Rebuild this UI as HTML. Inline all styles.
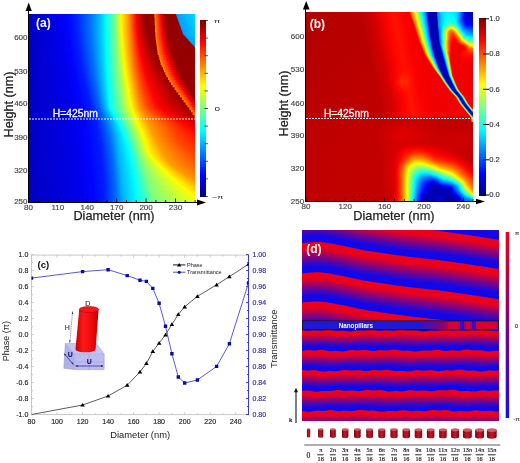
<!DOCTYPE html>
<html><head><meta charset="utf-8"><style>
html,body{margin:0;padding:0;background:#fff;width:520px;height:463px;overflow:hidden}
.hm{position:absolute;overflow:hidden}
.hm i{position:absolute;left:0;width:100%;height:1px;display:block}
.hm b{position:absolute;top:0;height:100%;width:2px;display:block}
svg{position:absolute;left:0;top:0}
</style></head><body>
<div class="hm" style="left:29px;top:14px;width:166px;height:189px"><i style="top:0px;background:linear-gradient(90deg,#0000c2 0px,#00e 29.5px,#0004ff 37.5px,#02f 47.5px,#0073ff 61.5px,#00b8ff 70.5px,#00f9ff 76.5px,#13ffec 78.5px,#81ff7e 86.5px,#f8ff07 91.5px,#ffe600 93.5px,#ff9500 99.5px,#ff0f00 106.5px,#fc0100 107.5px,#c20000 111.5px,#900 115.5px,#940000 119.5px,#940000 124.5px,#db5700 125.5px,#ff6e00 126.5px,#ff0f00 130.5px,#f60000 131.5px,#980000 135.5px,#940000 142.5px,#940000 146.5px,#00a0ff 147.5px,#00d7ff 166px)"></i><i style="top:1px;background:linear-gradient(90deg,#0000c2 0px,#00e 29.5px,#0003ff 37.5px,#02f 47.5px,#0073ff 61.5px,#00b8ff 70.5px,#00f9ff 76.5px,#13ffec 78.5px,#81ff7e 86.5px,#f8ff07 91.5px,#ffe600 93.5px,#ff9500 99.5px,#fc0100 107.5px,#c20000 111.5px,#940000 116.5px,#940000 124.5px,#db5800 125.5px,#ff7100 126.5px,#ff1300 130.5px,#f90100 131.5px,#9c0000 135.5px,#940000 137.5px,#940000 146.5px,#316aaa 147.5px,#00a2ff 148.5px,#00d6ff 166px)"></i><i style="top:2px;background:linear-gradient(90deg,#0000c2 0px,#00e 29.5px,#0006ff 38.5px,#0021ff 47.5px,#0073ff 61.5px,#00b8ff 70.5px,#00f9ff 76.5px,#13ffec 78.5px,#81ff7e 86.5px,#f8ff07 91.5px,#ffe600 93.5px,#ff9500 99.5px,#fc0100 107.5px,#c20000 111.5px,#940000 116.5px,#940000 124.5px,#db5900 125.5px,#ff7100 126.5px,#fa0100 131.5px,#9e0000 135.5px,#940000 136.5px,#940000 146.5px,#633555 147.5px,#00a1ff 148.5px,#00d5ff 166px)"></i><i style="top:3px;background:linear-gradient(90deg,#0000c2 0px,#0000ed 29.5px,#0006ff 38.5px,#0021ff 47.5px,#0073ff 61.5px,#00b8ff 70.5px,#00f9ff 76.5px,#13ffec 78.5px,#81ff7e 86.5px,#f7ff08 91.5px,#ffe600 93.5px,#ff9500 99.5px,#fc0100 107.5px,#c20000 111.5px,#940000 116.5px,#940000 124.5px,#c43b00 125.5px,#ff7300 126.5px,#fc0300 131.5px,#a20000 135.5px,#940000 136.5px,#940000 147.5px,#108ee3 148.5px,#00a3ff 149.5px,#00d3ff 166px)"></i><i style="top:4px;background:linear-gradient(90deg,#0000c2 0px,#0000ed 29.5px,#0005ff 38.5px,#0021ff 47.5px,#0073ff 61.5px,#00b8ff 70.5px,#00f9ff 76.5px,#13ffec 78.5px,#80ff7f 86.5px,#f7ff08 91.5px,#ffe700 93.5px,#ff9600 99.5px,#fc0100 107.5px,#b90000 112.5px,#940000 116.5px,#940000 124.5px,#b82c00 125.5px,#ff7400 126.5px,#fd0400 131.5px,#a50000 135.5px,#950000 136.5px,#940000 147.5px,#42588e 148.5px,#00a1ff 149.5px,#00d2ff 166px)"></i><i style="top:5px;background:linear-gradient(90deg,#0000c2 0px,#0000ec 29.5px,#0005ff 38.5px,#0021ff 47.5px,#0073ff 61.5px,#00b8ff 70.5px,#00f9ff 76.5px,#13ffec 78.5px,#80ff7f 86.5px,#f7ff08 91.5px,#fff400 92.5px,#ff9600 99.5px,#fc0100 107.5px,#b90000 112.5px,#940000 116.5px,#940000 124.5px,#b82c00 125.5px,#ff7400 126.5px,#fe0500 131.5px,#950000 136.5px,#940000 147.5px,#732339 148.5px,#00a0ff 149.5px,#00d1ff 166px)"></i><i style="top:6px;background:linear-gradient(90deg,#0000c2 0px,#0000ec 29.5px,#0005ff 38.5px,#0020ff 47.5px,#0073ff 61.5px,#00b8ff 70.5px,#00f9ff 76.5px,#05fffa 77.5px,#80ff7f 86.5px,#f7ff08 91.5px,#fff400 92.5px,#ff9600 99.5px,#fd0100 107.5px,#ba0000 112.5px,#940000 116.5px,#940000 124.5px,#b82d00 125.5px,#f70 126.5px,#ff0700 131.5px,#d90000 133.5px,#970000 136.5px,#940000 148.5px,#108ee3 149.5px,#00a2ff 150.5px,#00d0ff 166px)"></i><i style="top:7px;background:linear-gradient(90deg,#0000c2 0px,#00e 30.5px,#0005ff 38.5px,#0020ff 47.5px,#0073ff 61.5px,#00b8ff 70.5px,#00f9ff 76.5px,#05fffa 77.5px,#80ff7f 86.5px,#f6ff09 91.5px,#fff400 92.5px,#ff9600 99.5px,#fd0200 107.5px,#ba0000 112.5px,#950000 116.5px,#940000 124.5px,#b82d00 125.5px,#f70 126.5px,#ff0800 131.5px,#db0000 133.5px,#900 136.5px,#940000 140.5px,#940000 148.5px,#42588e 149.5px,#00a1ff 150.5px,#00cfff 166px)"></i><i style="top:8px;background:linear-gradient(90deg,#0000c2 0px,#00e 30.5px,#0004ff 38.5px,#0020ff 47.5px,#0073ff 61.5px,#00c2ff 71.5px,#00f9ff 76.5px,#05fffa 77.5px,#80ff7f 86.5px,#f5ff0a 91.5px,#fff500 92.5px,#ff9700 99.5px,#fd0200 107.5px,#b00 112.5px,#950000 116.5px,#940000 124.5px,#b82d00 125.5px,#ff7900 126.5px,#ff0b00 131.5px,#f40000 132.5px,#9c0000 136.5px,#940000 138.5px,#940000 148.5px,#83121c 149.5px,#00a0ff 150.5px,#00ceff 166px)"></i><i style="top:9px;background:linear-gradient(90deg,#0000c2 0px,#00e 30.5px,#0004ff 38.5px,#001fff 47.5px,#0072ff 61.5px,#00c2ff 71.5px,#00f9ff 76.5px,#05fffa 77.5px,#80ff7f 86.5px,#f5ff0a 91.5px,#fff500 92.5px,#ff9700 99.5px,#fe0200 107.5px,#bc0000 112.5px,#960000 116.5px,#940000 124.5px,#b82d00 125.5px,#ff7a00 126.5px,#ff0d00 131.5px,#f60000 132.5px,#9f0000 136.5px,#940000 137.5px,#940000 149.5px,#217cc6 150.5px,#00a2ff 151.5px,#00cdff 166px)"></i><i style="top:10px;background:linear-gradient(90deg,#0000c2 0px,#0000ed 30.5px,#0004ff 38.5px,#001fff 47.5px,#0072ff 61.5px,#00c2ff 71.5px,#00f9ff 76.5px,#05fffa 77.5px,#7fff80 86.5px,#f4ff0b 91.5px,#fff600 92.5px,#ff9800 99.5px,#fe0300 107.5px,#bd0000 112.5px,#970000 116.5px,#940000 124.5px,#b82d00 125.5px,#ff7a00 126.5px,#ff0e00 131.5px,#f70000 132.5px,#a10000 136.5px,#940000 137.5px,#940000 149.5px,#524771 150.5px,#00a1ff 151.5px,#0cf 166px)"></i><i style="top:11px;background:linear-gradient(90deg,#0000c2 0px,#0000ed 30.5px,#0004ff 38.5px,#001fff 47.5px,#0072ff 61.5px,#00c2ff 71.5px,#00f9ff 76.5px,#05fffa 77.5px,#7fff80 86.5px,#f3ff0c 91.5px,#fff600 92.5px,#ff9800 99.5px,#fe0400 107.5px,#be0000 112.5px,#980000 116.5px,#940000 125.5px,#ff7c00 126.5px,#f10 131.5px,#fa0100 132.5px,#950000 137.5px,#940000 149.5px,#83121c 150.5px,#00a0ff 151.5px,#00cbff 166px)"></i><i style="top:12px;background:linear-gradient(90deg,#0000c2 0px,#0000ec 30.5px,#0006ff 39.5px,#001eff 47.5px,#0072ff 61.5px,#00c2ff 71.5px,#05fffa 77.5px,#7fff80 86.5px,#f3ff0c 91.5px,#fff700 92.5px,#f90 99.5px,#ff0400 107.5px,#bf0000 112.5px,#940000 117.5px,#940000 125.5px,#ff7c00 126.5px,#fb0100 132.5px,#960000 137.5px,#940000 150.5px,#316aaa 151.5px,#00a2ff 152.5px,#00caff 166px)"></i><i style="top:13px;background:linear-gradient(90deg,#0000c2 0px,#0000ec 30.5px,#0006ff 39.5px,#0023ff 48.5px,#0071ff 61.5px,#00c2ff 71.5px,#05fffa 77.5px,#7eff81 86.5px,#f2ff0d 91.5px,#fff700 92.5px,#f90 99.5px,#ff0500 107.5px,#cb0000 111.5px,#940000 117.5px,#940000 125.5px,#ff7e00 126.5px,#fc0200 132.5px,#980000 137.5px,#940000 150.5px,#633555 151.5px,#00a1ff 152.5px,#00c8ff 166px)"></i><i style="top:14px;background:linear-gradient(90deg,#0000c2 0px,#0000ec 30.5px,#0005ff 39.5px,#0023ff 48.5px,#0071ff 61.5px,#00c1ff 71.5px,#05fffa 77.5px,#7eff81 86.5px,#f1ff0e 91.5px,#fff800 92.5px,#ff9a00 99.5px,#ff0600 107.5px,#e80000 109.5px,#b80000 113.5px,#950000 117.5px,#940000 125.5px,#ff7f00 126.5px,#fd0400 132.5px,#900 137.5px,#940000 140.5px,#940000 151.5px,#00a0ff 152.5px,#00c7ff 166px)"></i><i style="top:15px;background:linear-gradient(90deg,#0000c2 0px,#0000eb 30.5px,#0005ff 39.5px,#02f 48.5px,#0071ff 61.5px,#00c1ff 71.5px,#04fffb 77.5px,#7eff81 86.5px,#f0ff0f 91.5px,#fff900 92.5px,#ff9b00 99.5px,#ff0700 107.5px,#ea0000 109.5px,#ba0000 113.5px,#960000 117.5px,#940000 125.5px,#ff7f00 126.5px,#fe0400 132.5px,#9b0000 137.5px,#940000 139.5px,#940000 151.5px,#316aaa 152.5px,#00a2ff 153.5px,#00c6ff 166px)"></i><i style="top:16px;background:linear-gradient(90deg,#0000c2 0px,#00e 31.5px,#0005ff 39.5px,#02f 48.5px,#0070ff 61.5px,#00c1ff 71.5px,#04fffb 77.5px,#7dff82 86.5px,#efff10 91.5px,#fff900 92.5px,#ff8a00 100.5px,#ff0900 107.5px,#f90000 108.5px,#b00 113.5px,#970000 117.5px,#940000 125.5px,#ff8100 126.5px,#ff0600 132.5px,#dc0000 134.5px,#9f0000 137.5px,#940000 138.5px,#940000 151.5px,#732339 152.5px,#00a0ff 153.5px,#00c5ff 166px)"></i><i style="top:17px;background:linear-gradient(90deg,#0000c2 0px,#0000ed 31.5px,#0004ff 39.5px,#0021ff 48.5px,#0070ff 61.5px,#00c1ff 71.5px,#04fffb 77.5px,#7dff82 86.5px,#ef1 91.5px,#fefa01 92.5px,#ff8a00 100.5px,#ff0a00 107.5px,#fa0000 108.5px,#bc0000 113.5px,#940000 118.5px,#940000 125.5px,#ff8100 126.5px,#ff0700 132.5px,#de0000 134.5px,#a10000 137.5px,#940000 138.5px,#940000 152.5px,#108ee3 153.5px,#00a2ff 154.5px,#00c4ff 166px)"></i><i style="top:18px;background:linear-gradient(90deg,#0000c2 0px,#0000ed 31.5px,#0004ff 39.5px,#0021ff 48.5px,#0070ff 61.5px,#00c0ff 71.5px,#04fffb 77.5px,#7dff82 86.5px,#edff12 91.5px,#fefa01 92.5px,#ff8b00 100.5px,#ff0c00 107.5px,#fb0000 108.5px,#be0000 113.5px,#940000 118.5px,#940000 125.5px,#e76400 126.5px,#ff6e00 127.5px,#ff0a00 132.5px,#f50000 133.5px,#950000 138.5px,#940000 152.5px,#42588e 153.5px,#00a1ff 154.5px,#00c3ff 166px)"></i><i style="top:19px;background:linear-gradient(90deg,#0000c2 0px,#0000ec 31.5px,#0004ff 39.5px,#0020ff 48.5px,#006fff 61.5px,#00c0ff 71.5px,#04fffb 77.5px,#7cff83 86.5px,#fefb01 92.5px,#ff8c00 100.5px,#ff0d00 107.5px,#fc0100 108.5px,#bf0000 113.5px,#960000 118.5px,#940000 125.5px,#db5500 126.5px,#ff6f00 127.5px,#ff0c00 132.5px,#f70000 133.5px,#960000 138.5px,#940000 152.5px,#732339 153.5px,#00a0ff 154.5px,#00c2ff 166px)"></i><i style="top:20px;background:linear-gradient(90deg,#0000c2 0px,#0000ec 31.5px,#0003ff 39.5px,#0020ff 48.5px,#006fff 61.5px,#00c0ff 71.5px,#04fffb 77.5px,#7cff83 86.5px,#fdfc02 92.5px,#ff8d00 100.5px,#fd0100 108.5px,#c10000 113.5px,#970000 118.5px,#940000 125.5px,#db5500 126.5px,#ff6f00 127.5px,#ff0d00 132.5px,#f80000 133.5px,#970000 138.5px,#940000 153.5px,#316aaa 154.5px,#00a1ff 155.5px,#00c0ff 166px)"></i><i style="top:21px;background:linear-gradient(90deg,#0000c2 0px,#0000ec 31.5px,#0003ff 39.5px,#001fff 48.5px,#006eff 61.5px,#00c0ff 71.5px,#04fffb 77.5px,#7bff84 86.5px,#fdfd02 92.5px,#ff8e00 100.5px,#fe0200 108.5px,#c20000 113.5px,#940000 119.5px,#940000 125.5px,#db5700 126.5px,#ff7200 127.5px,#fa0100 133.5px,#9a0000 138.5px,#940000 141.5px,#940000 154.5px,#316aaa 155.5px,#00a2ff 156.5px,#00bdff 166px)"></i><i style="top:22px;background:linear-gradient(90deg,#0000c2 0px,#0000eb 31.5px,#0005ff 40.5px,#001eff 48.5px,#0075ff 62.5px,#00bfff 71.5px,#03fffc 77.5px,#7bff84 86.5px,#fcfd03 92.5px,#ff8f00 100.5px,#fe0300 108.5px,#bc0000 114.5px,#950000 119.5px,#940000 125.5px,#db5700 126.5px,#ff7200 127.5px,#fb0100 133.5px,#9c0000 138.5px,#940000 140.5px,#940000 155.5px,#316aaa 156.5px,#00a2ff 157.5px,#00baff 166px)"></i><i style="top:23px;background:linear-gradient(90deg,#0000c2 0px,#0000eb 31.5px,#0005ff 40.5px,#001eff 48.5px,#0075ff 62.5px,#00bfff 71.5px,#03fffc 77.5px,#7aff85 86.5px,#fbfd04 92.5px,#ff9000 100.5px,#ff0400 108.5px,#be0000 114.5px,#960000 119.5px,#940000 125.5px,#c43a00 126.5px,#ff7600 127.5px,#fe0400 133.5px,#a10000 138.5px,#950000 139.5px,#940000 155.5px,#83121c 156.5px,#108ee3 157.5px,#00a2ff 158.5px,#00b8ff 166px)"></i><i style="top:24px;background:linear-gradient(90deg,#0000c2 0px,#0000ed 32.5px,#0005ff 40.5px,#0023ff 49.5px,#0074ff 62.5px,#00bfff 71.5px,#03fffc 77.5px,#7aff85 86.5px,#fafe05 92.5px,#ffca00 96.5px,#ff9100 100.5px,#ff0600 108.5px,#e00000 111.5px,#b80000 115.5px,#940000 120.5px,#940000 125.5px,#b82c00 126.5px,#ff7800 127.5px,#ff0600 133.5px,#cb0000 136.5px,#950000 139.5px,#940000 156.5px,#83121c 157.5px,#108ee3 158.5px,#00a3ff 159.5px,#00b5ff 166px)"></i><i style="top:25px;background:linear-gradient(90deg,#0000c2 0px,#0000ed 32.5px,#0004ff 40.5px,#02f 49.5px,#0074ff 62.5px,#00beff 71.5px,#03fffc 77.5px,#79ff86 86.5px,#f9fe06 92.5px,#ffe500 94.5px,#ff9300 100.5px,#ff0800 108.5px,#e00 110.5px,#c10000 114.5px,#950000 120.5px,#940000 125.5px,#b82c00 126.5px,#ff7800 127.5px,#ff0700 133.5px,#e00000 135.5px,#960000 139.5px,#940000 157.5px,#83121c 158.5px,#108ee3 159.5px,#00a3ff 160.5px,#00b2ff 166px)"></i><i style="top:26px;background:linear-gradient(90deg,#0000c2 0px,#0000ec 32.5px,#0004ff 40.5px,#02f 49.5px,#0073ff 62.5px,#00beff 71.5px,#03fffc 77.5px,#79ff86 86.5px,#f8ff07 92.5px,#ffe600 94.5px,#ff9400 100.5px,#ff0a00 108.5px,#fb0000 109.5px,#c30000 114.5px,#960000 120.5px,#940000 126.5px,#ff7f00 127.5px,#ff0e00 133.5px,#fa0100 134.5px,#9d0000 139.5px,#940000 140.5px,#940000 158.5px,#633555 159.5px,#00a0ff 160.5px,#00b0ff 166px)"></i><i style="top:27px;background:linear-gradient(90deg,#0000c2 0px,#0000ec 32.5px,#0004ff 40.5px,#0021ff 49.5px,#0073ff 62.5px,#00bdff 71.5px,#03fefc 77.5px,#8aff75 87.5px,#f6ff09 92.5px,#fff500 93.5px,#ff9500 100.5px,#ff0c00 108.5px,#fc0100 109.5px,#bd0000 115.5px,#940000 121.5px,#940000 126.5px,#ff7f00 127.5px,#fb0100 134.5px,#9f0000 139.5px,#940000 140.5px,#940000 159.5px,#633555 160.5px,#00a1ff 161.5px,#00adff 166px)"></i><i style="top:28px;background:linear-gradient(90deg,#0000c2 0px,#0000ec 32.5px,#0003ff 40.5px,#0020ff 49.5px,#0072ff 62.5px,#00bdff 71.5px,#03fefc 77.5px,#89ff76 87.5px,#f5ff0a 92.5px,#fff600 93.5px,#ff9600 100.5px,#fe0100 109.5px,#bf0000 115.5px,#950000 121.5px,#940000 126.5px,#e76400 127.5px,#ff7100 128.5px,#fe0400 134.5px,#960000 140.5px,#940000 160.5px,#633555 161.5px,#00a1ff 162.5px,#0af 166px)"></i><i style="top:29px;background:linear-gradient(90deg,#0000c2 0px,#0000eb 32.5px,#0003ff 40.5px,#001fff 49.5px,#0071ff 62.5px,#00bdff 71.5px,#02fefd 77.5px,#8f7 87.5px,#f3ff0c 92.5px,#fff700 93.5px,#ff8600 101.5px,#fe0200 109.5px,#c10000 115.5px,#940000 122.5px,#940000 126.5px,#db5700 127.5px,#ff7300 128.5px,#ff0600 134.5px,#e00000 136.5px,#980000 140.5px,#940000 150.5px,#940000 161.5px,#316aaa 162.5px,#00a1ff 163.5px,#00a7ff 166px)"></i><i style="top:30px;background:linear-gradient(90deg,#0000c2 0px,#0000eb 32.5px,#0005ff 41.5px,#001eff 49.5px,#0071ff 62.5px,#00bcff 71.5px,#02fefd 77.5px,#87ff78 87.5px,#f1ff0e 92.5px,#fff900 93.5px,#f80 101.5px,#ff0400 109.5px,#bc0000 116.5px,#940000 122.5px,#940000 126.5px,#db5700 127.5px,#ff7400 128.5px,#ff0700 134.5px,#e20000 136.5px,#9a0000 140.5px,#940000 143.5px,#940000 162.5px,#316aaa 163.5px,#00a2ff 164.5px,#00a5ff 166px)"></i><i style="top:31px;background:linear-gradient(90deg,#0000c2 0px,#0000ea 32.5px,#0005ff 41.5px,#001eff 49.5px,#0070ff 62.5px,#00bcff 71.5px,#02fefd 77.5px,#86ff79 87.5px,#f0ff0f 92.5px,#fffa00 93.5px,#ff8900 101.5px,#ff0500 109.5px,#e30000 112.5px,#be0000 116.5px,#950000 122.5px,#940000 126.5px,#b82d00 127.5px,#ff7a00 128.5px,#fb0100 135.5px,#950000 141.5px,#940000 163.5px,#316aaa 164.5px,#00a2ff 166px)"></i><i style="top:32px;background:linear-gradient(90deg,#0000c2 0px,#0000ed 33.5px,#0004ff 41.5px,#0023ff 50.5px,#006fff 62.5px,#0bf 71.5px,#02fefd 77.5px,#85ff7a 87.5px,#ef1 92.5px,#fefb01 93.5px,#ff8b00 101.5px,#ff0800 109.5px,#f00000 111.5px,#bf0000 116.5px,#940000 123.5px,#940000 126.5px,#b82d00 127.5px,#ff7a00 128.5px,#fc0100 135.5px,#950000 141.5px,#940000 163.5px,#83121c 164.5px,#108ee3 166px)"></i><i style="top:33px;background:linear-gradient(90deg,#0000c2 0px,#0000ec 33.5px,#0004ff 41.5px,#02f 50.5px,#006eff 62.5px,#0bf 71.5px,#02fefd 77.5px,#84ff7b 87.5px,#fdfc02 93.5px,#ff8c00 101.5px,#ff0a00 109.5px,#fc0000 110.5px,#c10000 116.5px,#950000 123.5px,#940000 126.5px,#a00f00 127.5px,#ff7f00 128.5px,#fe0400 135.5px,#900 141.5px,#940000 144.5px,#940000 164.5px,#83121c 166px)"></i><i style="top:34px;background:linear-gradient(90deg,#0000c2 0px,#0000ec 33.5px,#0004ff 41.5px,#0021ff 50.5px,#006eff 62.5px,#00baff 71.5px,#01fefe 77.5px,#83ff7c 87.5px,#fdfd02 93.5px,#ff8e00 101.5px,#ff0d00 109.5px,#fe0100 110.5px,#bd0000 117.5px,#940000 124.5px,#940000 127.5px,#ff8100 128.5px,#ff0700 135.5px,#e30000 137.5px,#9d0000 141.5px,#940000 142.5px,#940000 166px)"></i><i style="top:35px;background:linear-gradient(90deg,#0000c2 0px,#0000eb 33.5px,#0003ff 41.5px,#0020ff 50.5px,#006dff 62.5px,#00baff 71.5px,#01fefe 77.5px,#82ff7d 87.5px,#fbfd04 93.5px,#ff8f00 101.5px,#ff0f00 109.5px,#fe0200 110.5px,#bf0000 117.5px,#940000 124.5px,#940000 127.5px,#ff8100 128.5px,#ff0800 135.5px,#e40000 137.5px,#9f0000 141.5px,#940000 142.5px,#940000 166px)"></i><i style="top:36px;background:linear-gradient(90deg,#0000c2 0px,#0000eb 33.5px,#0003ff 41.5px,#001fff 50.5px,#0074ff 63.5px,#00c5ff 72.5px,#01fdfe 77.5px,#81ff7e 87.5px,#fafe05 93.5px,#ffbc00 98.5px,#ff5f00 104.5px,#ff0400 110.5px,#c10000 117.5px,#940000 125.5px,#940000 127.5px,#db5800 128.5px,#ff7600 129.5px,#fc0100 136.5px,#970000 142.5px,#940000 166px)"></i><i style="top:37px;background:linear-gradient(90deg,#0000c2 0px,#0000eb 33.5px,#0005ff 42.5px,#001eff 50.5px,#0074ff 63.5px,#00c4ff 72.5px,#01fdfe 77.5px,#80ff7f 87.5px,#f9ff06 93.5px,#ffe600 95.5px,#ff8200 102.5px,#ff0600 110.5px,#f10000 112.5px,#c30000 117.5px,#940000 125.5px,#940000 127.5px,#db5800 128.5px,#ff7600 129.5px,#fc0200 136.5px,#980000 142.5px,#940000 150.5px,#940000 166px)"></i><i style="top:38px;background:linear-gradient(90deg,#0000c2 0px,#0000ea 33.5px,#0005ff 42.5px,#001dff 50.5px,#0073ff 63.5px,#00c3ff 72.5px,#01fdfe 77.5px,#7fff80 87.5px,#f7ff08 93.5px,#ffe700 95.5px,#ff8300 102.5px,#ff0800 110.5px,#f30000 112.5px,#bf0000 118.5px,#950000 125.5px,#940000 127.5px,#c43c00 128.5px,#ff7c00 129.5px,#fe0600 136.5px,#e30000 138.5px,#9f0000 142.5px,#950000 143.5px,#940000 166px)"></i><i style="top:39px;background:linear-gradient(90deg,#0000c2 0px,#0000ed 34.5px,#0004ff 42.5px,#02f 51.5px,#0072ff 63.5px,#00c3ff 72.5px,#01fdfe 77.5px,#7fff80 87.5px,#f5ff0a 93.5px,#fff700 94.5px,#ff8500 102.5px,#ff0b00 110.5px,#fe0100 111.5px,#c10000 118.5px,#940000 126.5px,#940000 127.5px,#b82e00 128.5px,#ff7e00 129.5px,#ff0900 136.5px,#f70000 137.5px,#950000 143.5px,#940000 166px)"></i><i style="top:40px;background:linear-gradient(90deg,#0000c2 0px,#0000ec 34.5px,#0004ff 42.5px,#0021ff 51.5px,#0071ff 63.5px,#00c2ff 72.5px,#01fcfe 77.5px,#7eff81 87.5px,#f3ff0c 93.5px,#fff800 94.5px,#ff8700 102.5px,#ff0e00 110.5px,#fe0200 111.5px,#bd0000 119.5px,#940000 127.5px,#b82e00 128.5px,#ff7e00 129.5px,#ff0a00 136.5px,#f90000 137.5px,#960000 143.5px,#940000 166px)"></i><i style="top:41px;background:linear-gradient(90deg,#0000c2 0px,#0000ec 34.5px,#0003ff 42.5px,#0020ff 51.5px,#0070ff 63.5px,#00c2ff 72.5px,#01fcfe 77.5px,#7dff82 87.5px,#f1ff0e 93.5px,#fffa00 94.5px,#ff7800 103.5px,#f10 110.5px,#ff0400 111.5px,#bf0000 119.5px,#940000 127.5px,#940000 128.5px,#b82c00 129.5px,#ff7a00 130.5px,#ff0700 137.5px,#e50000 139.5px,#950000 144.5px,#940000 166px)"></i><i style="top:42px;background:linear-gradient(90deg,#0000c2 0px,#0000eb 34.5px,#0003ff 42.5px,#001fff 51.5px,#006fff 63.5px,#00c1ff 72.5px,#00fcff 77.5px,#7cff83 87.5px,#fefb01 94.5px,#ff7a00 103.5px,#ff1300 110.5px,#fb0000 112.5px,#c10000 119.5px,#940000 128.5px,#b82c00 129.5px,#ff7a00 130.5px,#ff0800 137.5px,#f70000 138.5px,#960000 144.5px,#940000 166px)"></i><i style="top:43px;background:linear-gradient(90deg,#0000c2 0px,#0000eb 34.5px,#0005ff 43.5px,#001eff 51.5px,#006eff 63.5px,#00c0ff 72.5px,#00fcff 77.5px,#7bff84 87.5px,#fdfc02 94.5px,#ff7c00 103.5px,#ff2400 109.5px,#fd0000 112.5px,#c30000 119.5px,#940000 128.5px,#a00f00 129.5px,#e76400 130.5px,#ff7200 131.5px,#fc0400 138.5px,#9f0000 144.5px,#950000 145.5px,#940000 166px)"></i><i style="top:44px;background:linear-gradient(90deg,#0000c2 0px,#0000eb 34.5px,#0005ff 43.5px,#001dff 51.5px,#006dff 63.5px,#00c0ff 72.5px,#00fbff 77.5px,#7aff85 87.5px,#fcfd03 94.5px,#ff7e00 103.5px,#ff2600 109.5px,#fe0100 112.5px,#bf0000 120.5px,#940000 129.5px,#db5800 130.5px,#f70 131.5px,#ff0600 138.5px,#e50000 140.5px,#960000 145.5px,#940000 166px)"></i><i style="top:45px;background:linear-gradient(90deg,#0000c2 0px,#0000ea 34.5px,#0004ff 43.5px,#02f 52.5px,#006cff 63.5px,#00bfff 72.5px,#00fbff 77.5px,#6dff92 86.5px,#9cff63 89.5px,#fbfe04 94.5px,#ff8000 103.5px,#ff2800 109.5px,#ff0300 112.5px,#bc0000 121.5px,#940000 129.5px,#db5800 130.5px,#f70 131.5px,#ff0700 138.5px,#e60000 140.5px,#970000 145.5px,#940000 166px)"></i><i style="top:46px;background:linear-gradient(90deg,#0000c2 0px,#0000ec 35.5px,#0004ff 43.5px,#0021ff 52.5px,#0074ff 64.5px,#00beff 72.5px,#00faff 77.5px,#3affc5 82.5px,#8f7 88.5px,#f9ff06 94.5px,#ffd800 97.5px,#ff6300 105.5px,#ff0500 112.5px,#da0000 117.5px,#b40000 123.5px,#940000 130.5px,#ff8300 131.5px,#ff0400 139.5px,#960000 146.5px,#940000 166px)"></i><i style="top:47px;background:linear-gradient(90deg,#0000c2 0px,#0000ec 35.5px,#0003ff 43.5px,#0020ff 52.5px,#0073ff 64.5px,#00bdff 72.5px,#00faff 77.5px,#2dffd2 81.5px,#87ff78 88.5px,#f7ff08 94.5px,#ffe800 96.5px,#ff6500 105.5px,#ff0700 112.5px,#f50000 114.5px,#c00000 121.5px,#940000 130.5px,#ff8300 131.5px,#ff0500 139.5px,#c50000 143.5px,#970000 146.5px,#940000 166px)"></i><i style="top:48px;background:linear-gradient(90deg,#0000c2 0px,#0000ec 35.5px,#0003ff 43.5px,#001fff 52.5px,#0071ff 64.5px,#00bdff 72.5px,#00f9ff 77.5px,#20ffdf 80.5px,#85ff7a 88.5px,#f5ff0a 94.5px,#fff800 95.5px,#ff6700 105.5px,#ff0a00 112.5px,#f70000 114.5px,#c20000 121.5px,#960000 130.5px,#cf4a00 131.5px,#ff7b00 132.5px,#fb0200 140.5px,#950000 147.5px,#940000 166px)"></i><i style="top:49px;background:linear-gradient(90deg,#0000c2 0px,#0000eb 35.5px,#0005ff 44.5px,#001eff 52.5px,#0070ff 64.5px,#00bcff 72.5px,#00f9ff 77.5px,#13ffec 79.5px,#84ff7b 88.5px,#f3ff0c 94.5px,#fffa00 95.5px,#ff3200 109.5px,#ff0300 113.5px,#bf0000 122.5px,#980000 130.5px,#b82e00 131.5px,#ff7f00 132.5px,#fe0400 140.5px,#970000 147.5px,#940000 166px)"></i><i style="top:50px;background:linear-gradient(90deg,#0000c2 0px,#0000eb 35.5px,#0005ff 44.5px,#001cff 52.5px,#006fff 64.5px,#0bf 72.5px,#00f8ff 77.5px,#12ffed 79.5px,#83ff7c 88.5px,#fefb01 95.5px,#ff3500 109.5px,#ff0500 113.5px,#d50000 119.5px,#a90000 127.5px,#9b0000 130.5px,#ba2e00 131.5px,#ff7f00 132.5px,#ff0400 140.5px,#980000 147.5px,#940000 166px)"></i><i style="top:51px;background:linear-gradient(90deg,#0000c2 0px,#0000ea 35.5px,#0004ff 44.5px,#02f 53.5px,#006eff 64.5px,#00c6ff 73.5px,#00f8ff 77.5px,#12ffed 79.5px,#82ff7d 88.5px,#fdfc02 95.5px,#ff3700 109.5px,#fd0000 114.5px,#bf0000 123.5px,#900 131.5px,#b82e00 132.5px,#ff7f00 133.5px,#ff0500 141.5px,#a80000 147.5px,#900 148.5px,#940000 155.5px,#940000 166px)"></i><i style="top:52px;background:linear-gradient(90deg,#0000c2 0px,#0000ea 35.5px,#0004ff 44.5px,#0021ff 53.5px,#006dff 64.5px,#00c6ff 73.5px,#05fffa 78.5px,#80ff7f 88.5px,#fcfd03 95.5px,#ff3900 109.5px,#fe0100 114.5px,#c10000 123.5px,#9c0000 131.5px,#ba2e00 132.5px,#ff7f00 133.5px,#ff0400 141.5px,#980000 148.5px,#940000 166px)"></i><i style="top:53px;background:linear-gradient(90deg,#0000c2 0px,#0000ec 36.5px,#0003ff 44.5px,#001fff 53.5px,#006bff 64.5px,#00c5ff 73.5px,#04fffb 78.5px,#7fff80 88.5px,#fbfe04 95.5px,#ff7200 105.5px,#ff3000 110.5px,#ff0300 114.5px,#be0000 124.5px,#9e0000 131.5px,#a50f00 132.5px,#b92a00 133.5px,#ff7b00 134.5px,#fb0300 142.5px,#970000 149.5px,#940000 166px)"></i><i style="top:54px;background:linear-gradient(90deg,#0000c2 0px,#0000ec 36.5px,#0005ff 45.5px,#001eff 53.5px,#006aff 64.5px,#00c4ff 73.5px,#04fffb 78.5px,#8fff70 89.5px,#f9ff06 95.5px,#ffe700 97.5px,#ff3e00 109.5px,#ff0500 114.5px,#e70000 118.5px,#bc0000 125.5px,#980000 133.5px,#ff8100 134.5px,#ff0500 142.5px,#970000 149.5px,#940000 166px)"></i><i style="top:55px;background:linear-gradient(90deg,#0000c2 0px,#0000ec 36.5px,#0005ff 45.5px,#001dff 53.5px,#0069ff 64.5px,#00c3ff 73.5px,#03fffc 78.5px,#8dff72 89.5px,#f7ff08 95.5px,#fff700 96.5px,#ff4000 109.5px,#fe0100 115.5px,#be0000 125.5px,#9b0000 133.5px,#ff8100 134.5px,#fe0400 142.5px,#960000 149.5px,#940000 166px)"></i><i style="top:56px;background:linear-gradient(90deg,#0000c2 0px,#0000eb 36.5px,#0005ff 45.5px,#02f 54.5px,#0071ff 65.5px,#00c2ff 73.5px,#03fefc 78.5px,#8cff73 89.5px,#f4ff0b 95.5px,#fff900 96.5px,#ff4200 109.5px,#ff0200 115.5px,#c00000 125.5px,#900 134.5px,#ff8300 135.5px,#ff0500 143.5px,#b50000 148.5px,#970000 150.5px,#940000 166px)"></i><i style="top:57px;background:linear-gradient(90deg,#0000c2 0px,#0000eb 36.5px,#0004ff 45.5px,#0021ff 54.5px,#0070ff 65.5px,#00c1ff 73.5px,#03fefc 78.5px,#8aff75 89.5px,#fefb01 96.5px,#f40 109.5px,#ff0400 115.5px,#be0000 126.5px,#9b0000 134.5px,#ff8300 135.5px,#ff0400 143.5px,#960000 150.5px,#940000 166px)"></i><i style="top:58px;background:linear-gradient(90deg,#0000c2 0px,#0000ea 36.5px,#0004ff 45.5px,#001fff 54.5px,#006eff 65.5px,#00c0ff 73.5px,#02fefd 78.5px,#89ff76 89.5px,#fefc01 96.5px,#ff4600 109.5px,#fe0000 116.5px,#c00000 126.5px,#9e0000 134.5px,#bc2c00 135.5px,#e86000 136.5px,#ff6f00 137.5px,#fb0300 144.5px,#9f0000 150.5px,#950000 151.5px,#940000 166px)"></i><i style="top:59px;background:linear-gradient(90deg,#0000c2 0px,#0000ea 36.5px,#0003ff 45.5px,#001eff 54.5px,#006dff 65.5px,#00bfff 73.5px,#02fefd 78.5px,#87ff78 89.5px,#fcfd03 96.5px,#ff3e00 110.5px,#ff0200 116.5px,#be0000 127.5px,#9c0000 135.5px,#dd5700 136.5px,#ff7400 137.5px,#ff0500 144.5px,#950000 151.5px,#940000 166px)"></i><i style="top:60px;background:linear-gradient(90deg,#0000c2 0px,#0000ec 37.5px,#0005ff 46.5px,#001cff 54.5px,#006bff 65.5px,#00beff 73.5px,#01fdfe 78.5px,#86ff79 89.5px,#fbfe04 96.5px,#ff4000 110.5px,#ff0300 116.5px,#c00000 127.5px,#9f0000 135.5px,#de5700 136.5px,#ff7400 137.5px,#fe0400 144.5px,#950000 151.5px,#940000 166px)"></i><i style="top:61px;background:linear-gradient(90deg,#0000c2 0px,#0000ec 37.5px,#0005ff 46.5px,#001bff 54.5px,#006aff 65.5px,#00caff 74.5px,#01fdfe 78.5px,#84ff7b 89.5px,#f9ff06 96.5px,#ffd900 99.5px,#ff4300 110.5px,#fe0000 117.5px,#be0000 128.5px,#9d0000 136.5px,#de5a00 137.5px,#ff7900 138.5px,#ff0800 145.5px,#e60000 147.5px,#970000 152.5px,#940000 166px)"></i><i style="top:62px;background:linear-gradient(90deg,#0000c2 0px,#0000eb 37.5px,#0004ff 46.5px,#0021ff 55.5px,#0068ff 65.5px,#00c9ff 74.5px,#01fcfe 78.5px,#83ff7c 89.5px,#f7ff08 96.5px,#fff700 97.5px,#ff4500 110.5px,#ff0100 117.5px,#c00000 128.5px,#a00000 136.5px,#de5a00 137.5px,#ff7900 138.5px,#ff0700 145.5px,#e60000 147.5px,#960000 152.5px,#940000 166px)"></i><i style="top:63px;background:linear-gradient(90deg,#0000c2 0px,#0000eb 37.5px,#0004ff 46.5px,#001fff 55.5px,#06f 65.5px,#00c8ff 74.5px,#01fcfe 78.5px,#81ff7e 89.5px,#f4ff0b 96.5px,#fffa00 97.5px,#ff4700 110.5px,#ff0300 117.5px,#be0000 129.5px,#a20000 136.5px,#b41e00 137.5px,#bc2800 138.5px,#ff7800 139.5px,#fc0900 146.5px,#e40000 148.5px,#980000 153.5px,#940000 166px)"></i><i style="top:64px;background:linear-gradient(90deg,#0000c2 0px,#0000eb 37.5px,#0003ff 46.5px,#001eff 55.5px,#006fff 66.5px,#00c7ff 74.5px,#00fbff 78.5px,#80ff7f 89.5px,#fefb01 97.5px,#ff4900 110.5px,#fe0000 118.5px,#c00000 129.5px,#9d0000 138.5px,#ff8000 139.5px,#fb0100 147.5px,#900 153.5px,#940000 158.5px,#940000 166px)"></i><i style="top:65px;background:linear-gradient(90deg,#0000c2 0px,#0000ea 37.5px,#0005ff 47.5px,#001cff 55.5px,#006eff 66.5px,#00c6ff 74.5px,#00fbff 78.5px,#8eff71 90.5px,#fdfd02 97.5px,#ff4b00 110.5px,#ff0100 118.5px,#be0000 130.5px,#a00000 138.5px,#ff8000 139.5px,#ff0c00 146.5px,#fa0000 147.5px,#980000 153.5px,#940000 166px)"></i><i style="top:66px;background:linear-gradient(90deg,#0000c2 0px,#0000ec 38.5px,#0005ff 47.5px,#02f 56.5px,#006cff 66.5px,#00c4ff 74.5px,#00faff 78.5px,#37ffc8 83.5px,#8dff72 90.5px,#fcfe03 97.5px,#f40 111.5px,#ff0300 118.5px,#bc0000 131.5px,#9e0000 139.5px,#de5800 140.5px,#f70 141.5px,#fe0300 148.5px,#9d0000 154.5px,#940000 155.5px,#940000 166px)"></i><i style="top:67px;background:linear-gradient(90deg,#0000c2 0px,#0000ec 38.5px,#0005ff 47.5px,#0020ff 56.5px,#006aff 66.5px,#00c3ff 74.5px,#00f9ff 78.5px,#1fffe0 81.5px,#8bff74 90.5px,#faff05 97.5px,#ffbc00 102.5px,#ff4600 111.5px,#fe0000 119.5px,#be0000 131.5px,#a10000 139.5px,#df5800 140.5px,#f70 141.5px,#fe0300 148.5px,#9b0000 154.5px,#940000 156.5px,#940000 166px)"></i><i style="top:68px;background:linear-gradient(90deg,#0000c2 0px,#0000ec 38.5px,#0004ff 47.5px,#001fff 56.5px,#0068ff 66.5px,#00c2ff 74.5px,#00f8ff 78.5px,#12ffed 80.5px,#89ff76 90.5px,#f8ff07 97.5px,#ffe900 99.5px,#ff4800 111.5px,#ff0200 119.5px,#bd0000 132.5px,#a30000 139.5px,#b51d00 140.5px,#bd2800 141.5px,#ff7800 142.5px,#fe1300 148.5px,#f00000 150.5px,#9f0000 155.5px,#950000 156.5px,#940000 166px)"></i><i style="top:69px;background:linear-gradient(90deg,#0000c2 0px,#0000eb 38.5px,#0004ff 47.5px,#001dff 56.5px,#0067ff 66.5px,#00c1ff 74.5px,#00f8ff 78.5px,#12ffed 80.5px,#8f7 90.5px,#f5ff0a 97.5px,#fff900 98.5px,#ff4a00 111.5px,#ff0300 119.5px,#b00 133.5px,#9e0000 141.5px,#ff8100 142.5px,#ff0a00 149.5px,#f80000 150.5px,#950000 156.5px,#940000 166px)"></i><i style="top:70px;background:linear-gradient(90deg,#0000c2 0px,#0000eb 38.5px,#0006ff 48.5px,#001bff 56.5px,#0065ff 66.5px,#00cdff 75.5px,#00f7ff 78.5px,#05fffa 79.5px,#86ff79 90.5px,#fefb01 98.5px,#ff4d00 111.5px,#fe0100 120.5px,#bd0000 133.5px,#a10000 141.5px,#ff8100 142.5px,#ff0900 149.5px,#f70000 150.5px,#950000 156.5px,#940000 166px)"></i><i style="top:71px;background:linear-gradient(90deg,#0000c2 0px,#0000eb 38.5px,#0005ff 48.5px,#0021ff 57.5px,#006eff 67.5px,#0cf 75.5px,#04fffb 79.5px,#84ff7b 90.5px,#fdfd02 98.5px,#ff4f00 111.5px,#ff0200 120.5px,#bc0000 134.5px,#a00000 142.5px,#bd2e00 143.5px,#ff7e00 144.5px,#ff0600 151.5px,#d10000 154.5px,#9e0000 157.5px,#940000 158.5px,#940000 166px)"></i><i style="top:72px;background:linear-gradient(90deg,#0000c2 0px,#0000ea 38.5px,#0005ff 48.5px,#001fff 57.5px,#006cff 67.5px,#00cbff 75.5px,#04fffb 79.5px,#92ff6d 91.5px,#fcfe03 98.5px,#ff5200 111.5px,#ff0400 120.5px,#ba0000 135.5px,#a20000 142.5px,#bf2e00 143.5px,#ff7e00 144.5px,#ff0500 151.5px,#bf0000 155.5px,#9c0000 157.5px,#940000 158.5px,#940000 166px)"></i><i style="top:73px;background:linear-gradient(90deg,#0000c2 0px,#0000ec 39.5px,#0004ff 48.5px,#001eff 57.5px,#006aff 67.5px,#00c9ff 75.5px,#03fefc 79.5px,#90ff6f 91.5px,#faff05 98.5px,#ffae00 104.5px,#ff4a00 112.5px,#ff0100 121.5px,#bc0000 135.5px,#a40000 142.5px,#ac0f00 143.5px,#d34200 145.5px,#ff7000 146.5px,#fb0c00 152.5px,#f40200 153.5px,#a20000 158.5px,#970000 159.5px,#940000 166px)"></i><i style="top:74px;background:linear-gradient(90deg,#0000c2 0px,#0000ec 39.5px,#0004ff 48.5px,#001cff 57.5px,#0068ff 67.5px,#00c8ff 75.5px,#03fefc 79.5px,#8eff71 91.5px,#f8ff07 98.5px,#ffe900 100.5px,#ff7100 109.5px,#f40 113.5px,#ff0300 121.5px,#b00 136.5px,#a00000 144.5px,#be2d00 145.5px,#ff7b00 146.5px,#fd0200 153.5px,#970000 159.5px,#940000 166px)"></i><i style="top:75px;background:linear-gradient(90deg,#0000c2 0px,#0000ec 39.5px,#0003ff 48.5px,#001bff 57.5px,#06f 67.5px,#00c7ff 75.5px,#02fefd 79.5px,#8dff72 91.5px,#f5ff0a 98.5px,#fffa00 99.5px,#ff7f00 108.5px,#ff4600 113.5px,#fe0000 122.5px,#bd0000 136.5px,#a20000 144.5px,#bf2d00 145.5px,#ff7b00 146.5px,#fd0200 153.5px,#960000 159.5px,#940000 166px)"></i><i style="top:76px;background:linear-gradient(90deg,#0000c2 0px,#0000eb 39.5px,#0005ff 49.5px,#0020ff 58.5px,#0064ff 67.5px,#00c5ff 75.5px,#02fdfd 79.5px,#8bff74 91.5px,#fefc01 99.5px,#ff7600 109.5px,#ff4000 114.5px,#ff0200 122.5px,#bc0000 137.5px,#9e0000 146.5px,#de5900 147.5px,#f70 148.5px,#ff0d00 154.5px,#fa0000 155.5px,#950000 161.5px,#940000 166px)"></i><i style="top:77px;background:linear-gradient(90deg,#0000c2 0px,#0000eb 39.5px,#0005ff 49.5px,#001eff 58.5px,#006eff 68.5px,#00d2ff 76.5px,#01fdfe 79.5px,#89ff76 91.5px,#fdfd02 99.5px,#ff7900 109.5px,#ff4200 114.5px,#ff0400 122.5px,#ba0000 138.5px,#a00000 146.5px,#df5900 147.5px,#f70 148.5px,#ff0c00 154.5px,#f90000 155.5px,#a00000 160.5px,#940000 161.5px,#940000 166px)"></i><i style="top:78px;background:linear-gradient(90deg,#0000c2 0px,#0000eb 39.5px,#0004ff 49.5px,#001dff 58.5px,#006cff 68.5px,#00d1ff 76.5px,#01fcfe 79.5px,#8f7 91.5px,#fcfe03 99.5px,#ff7b00 109.5px,#f40 114.5px,#ff0100 123.5px,#bc0000 138.5px,#a30000 146.5px,#b51e00 147.5px,#bd2800 148.5px,#e95c00 149.5px,#ff6900 150.5px,#fd1100 155.5px,#ea0000 157.5px,#a50000 161.5px,#940000 163.5px,#940000 166px)"></i><i style="top:79px;background:linear-gradient(90deg,#0000c2 0px,#0000ed 40.5px,#0004ff 49.5px,#001bff 58.5px,#0069ff 68.5px,#00cfff 76.5px,#00fbff 79.5px,#86ff79 91.5px,#faff05 99.5px,#ffcb00 103.5px,#ff7200 110.5px,#ff4600 114.5px,#ff0300 123.5px,#b00 139.5px,#9f0000 148.5px,#de5700 149.5px,#ff7400 150.5px,#ff0700 156.5px,#e20000 158.5px,#9a0000 162.5px,#940000 164.5px,#940000 166px)"></i><i style="top:80px;background:linear-gradient(90deg,#0000c2 0px,#0000ec 40.5px,#0003ff 49.5px,#0021ff 59.5px,#0067ff 68.5px,#00ceff 76.5px,#00faff 79.5px,#40ffbf 85.5px,#92ff6d 92.5px,#f7ff08 99.5px,#ffea00 101.5px,#ff8c00 108.5px,#ff4900 114.5px,#fe0100 124.5px,#bd0000 139.5px,#a10000 148.5px,#df5700 149.5px,#ff7300 150.5px,#ff0600 156.5px,#e10000 158.5px,#900 162.5px,#940000 166px)"></i><i style="top:81px;background:linear-gradient(90deg,#0000c2 0px,#0000ec 40.5px,#0005ff 50.5px,#001fff 59.5px,#0065ff 68.5px,#0cf 76.5px,#00f9ff 79.5px,#1effe1 82.5px,#91ff6e 92.5px,#fffb00 100.5px,#ff8e00 108.5px,#ff4300 115.5px,#ff0200 124.5px,#bc0000 140.5px,#9d0000 150.5px,#ff8200 151.5px,#fe0400 158.5px,#960000 164.5px,#940000 166px)"></i><i style="top:82px;background:linear-gradient(90deg,#0000c2 0px,#0000ec 40.5px,#0005ff 50.5px,#001dff 59.5px,#0063ff 68.5px,#00cbff 76.5px,#00f8ff 79.5px,#12ffed 81.5px,#8fff70 92.5px,#fefc01 100.5px,#ff8500 109.5px,#ff4500 115.5px,#fe0000 125.5px,#be0000 140.5px,#9f0000 150.5px,#ff8200 151.5px,#fd0300 158.5px,#950000 164.5px,#940000 166px)"></i><i style="top:83px;background:linear-gradient(90deg,#0000c2 0px,#0000eb 40.5px,#0004ff 50.5px,#001cff 59.5px,#006dff 69.5px,#00c9ff 76.5px,#00f7ff 79.5px,#06fff9 80.5px,#8dff72 92.5px,#fdfe02 100.5px,#f80 109.5px,#ff4700 115.5px,#ff0100 125.5px,#bd0000 141.5px,#a10000 150.5px,#bf2b00 151.5px,#bd2500 152.5px,#ff7400 153.5px,#fe1800 158.5px,#f10100 160.5px,#a90000 164.5px,#9c0000 166px)"></i><i style="top:84px;background:linear-gradient(90deg,#0000c2 0px,#0000eb 40.5px,#0004ff 50.5px,#001aff 59.5px,#006bff 69.5px,#00d7ff 77.5px,#05fffa 80.5px,#8bff74 92.5px,#fbff04 100.5px,#ff8a00 109.5px,#ff4200 116.5px,#ff0300 125.5px,#b90000 143.5px,#9e0000 152.5px,#ff7f00 153.5px,#fb0100 160.5px,#9f0000 166px)"></i><i style="top:85px;background:linear-gradient(90deg,#0000c2 0px,#0000ea 40.5px,#0003ff 50.5px,#0020ff 60.5px,#0068ff 69.5px,#00d5ff 77.5px,#04fffb 80.5px,#89ff76 92.5px,#f9ff06 100.5px,#ffe900 102.5px,#ff8c00 109.5px,#ff4500 116.5px,#ff0100 126.5px,#b00 143.5px,#a00000 152.5px,#ff7f00 153.5px,#ff0f00 159.5px,#fa0100 160.5px,#9d0000 166px)"></i><i style="top:86px;background:linear-gradient(90deg,#0000c2 0px,#0000ed 41.5px,#0005ff 51.5px,#001eff 60.5px,#06f 69.5px,#00d3ff 77.5px,#04fefb 80.5px,#95ff6a 93.5px,#f6ff09 100.5px,#fffa00 101.5px,#ff8f00 109.5px,#ff4700 116.5px,#ff0300 126.5px,#ba0000 144.5px,#9f0000 153.5px,#be2e00 154.5px,#ff7c00 155.5px,#ff0a00 161.5px,#f60000 162.5px,#bd0000 166px)"></i><i style="top:87px;background:linear-gradient(90deg,#0000c2 0px,#0000ec 41.5px,#0005ff 51.5px,#001cff 60.5px,#0064ff 69.5px,#00d1ff 77.5px,#03fefc 80.5px,#93ff6c 93.5px,#fefc01 101.5px,#ff9100 109.5px,#ff4900 116.5px,#ff0100 127.5px,#bc0000 144.5px,#a20000 153.5px,#bf2e00 154.5px,#ff7c00 155.5px,#ff0700 161.5px,#df0000 163.5px,#b80000 166px)"></i><i style="top:88px;background:linear-gradient(90deg,#0000c2 0px,#0000ec 41.5px,#0004ff 51.5px,#001bff 60.5px,#0061ff 69.5px,#00d0ff 77.5px,#02fdfd 80.5px,#92ff6d 93.5px,#fdfe02 101.5px,#ff9300 109.5px,#f40 117.5px,#ff0200 127.5px,#b00 145.5px,#a40000 153.5px,#ab0f00 154.5px,#d34000 156.5px,#ff6c00 157.5px,#fa0d00 162.5px,#f20100 163.5px,#cb0000 166px)"></i><i style="top:89px;background:linear-gradient(90deg,#0000c2 0px,#0000eb 41.5px,#0004ff 51.5px,#0020ff 61.5px,#006cff 70.5px,#00ceff 77.5px,#01fdfe 80.5px,#90ff6f 93.5px,#fbff04 101.5px,#ff8b00 110.5px,#ff4600 117.5px,#ff0100 128.5px,#bd0000 145.5px,#a00000 155.5px,#be2d00 156.5px,#ff7800 157.5px,#fb0100 163.5px,#d30000 166px)"></i><i style="top:90px;background:linear-gradient(90deg,#0000c2 0px,#0000eb 41.5px,#0004ff 51.5px,#001eff 61.5px,#0069ff 70.5px,#0cf 77.5px,#01fcfe 80.5px,#8eff71 93.5px,#f9ff06 101.5px,#ffe900 103.5px,#ff9800 109.5px,#ff4800 117.5px,#ff0200 128.5px,#b90000 147.5px,#a20000 155.5px,#c02d00 156.5px,#ff7800 157.5px,#ff0e00 162.5px,#f80000 163.5px,#ce0000 166px)"></i><i style="top:91px;background:linear-gradient(90deg,#0000c2 0px,#0000eb 41.5px,#0005ff 52.5px,#001dff 61.5px,#06f 70.5px,#00caff 77.5px,#00faff 80.5px,#54ffab 88.5px,#9f6 94.5px,#f7ff08 101.5px,#fffa00 102.5px,#ff9000 110.5px,#f40 118.5px,#ff0100 129.5px,#b00 147.5px,#9f0000 157.5px,#de5900 158.5px,#ff7300 159.5px,#ff0700 164.5px,#f00000 166px)"></i><i style="top:92px;background:linear-gradient(90deg,#0000c2 0px,#0000ed 42.5px,#0005ff 52.5px,#001bff 61.5px,#0063ff 70.5px,#00c7ff 77.5px,#00f8ff 80.5px,#13ffec 82.5px,#97ff68 94.5px,#fefc01 102.5px,#ff9300 110.5px,#ff4700 118.5px,#ff0300 129.5px,#b80000 149.5px,#a20000 157.5px,#df5900 158.5px,#ff7300 159.5px,#fe0500 164.5px,#ec0000 166px)"></i><i style="top:93px;background:linear-gradient(90deg,#0000c2 0px,#0000ec 42.5px,#0004ff 52.5px,#0020ff 62.5px,#0061ff 70.5px,#00c2ff 77.5px,#00f4ff 80.5px,#05fffa 81.5px,#93ff6c 94.5px,#fdfe02 102.5px,#ff9700 110.5px,#ff4500 119.5px,#ff0200 130.5px,#b80000 150.5px,#a40000 157.5px,#b71e00 158.5px,#bf2600 159.5px,#e95800 160.5px,#ff6000 161.5px,#fe1c00 164.5px,#f80b00 166px)"></i><i style="top:94px;background:linear-gradient(90deg,#0000c2 0px,#0000ec 42.5px,#0004ff 52.5px,#001dff 62.5px,#0069ff 71.5px,#00cdff 78.5px,#02fdfd 81.5px,#90ff6f 94.5px,#faff05 102.5px,#ffdc00 105.5px,#ff9a00 110.5px,#ff4300 120.5px,#ff0200 131.5px,#b60000 152.5px,#a20000 159.5px,#df5600 160.5px,#ff6d00 161.5px,#ff0e00 166px)"></i><i style="top:95px;background:linear-gradient(90deg,#0000c2 0px,#0000ec 42.5px,#0003ff 52.5px,#001bff 62.5px,#0065ff 71.5px,#00c7ff 78.5px,#00f9ff 81.5px,#13ffec 83.5px,#9f6 95.5px,#fffb00 103.5px,#ff9500 111.5px,#ff4300 121.5px,#ff0200 132.5px,#b40000 154.5px,#a50000 159.5px,#e15600 160.5px,#ff6c00 161.5px,#ff0a00 166px)"></i><i style="top:96px;background:linear-gradient(90deg,#0000c2 0px,#0000eb 42.5px,#0005ff 53.5px,#0020ff 63.5px,#006eff 72.5px,#00c0ff 78.5px,#03fefc 82.5px,#94ff6b 95.5px,#fdfe02 103.5px,#ff9a00 111.5px,#ff4300 122.5px,#fe0000 134.5px,#b50000 155.5px,#a40000 161.5px,#ff7f00 162.5px,#ff3400 166px)"></i><i style="top:97px;background:linear-gradient(90deg,#0000c2 0px,#0000eb 42.5px,#0004ff 53.5px,#001dff 63.5px,#0069ff 72.5px,#00c9ff 79.5px,#00faff 82.5px,#1fffe0 85.5px,#9cff63 96.5px,#faff05 103.5px,#ffd100 107.5px,#ff9600 112.5px,#ff4300 123.5px,#ff0100 135.5px,#b30000 157.5px,#a80000 161.5px,#ff7f00 162.5px,#ff3100 166px)"></i><i style="top:98px;background:linear-gradient(90deg,#0000c2 0px,#0000ed 43.5px,#0004ff 53.5px,#001aff 63.5px,#0064ff 72.5px,#00c0ff 79.5px,#03fefc 83.5px,#97ff68 96.5px,#fffb00 104.5px,#ff9a00 112.5px,#ff3e00 125.5px,#fd0000 137.5px,#b20000 159.5px,#ac0000 161.5px,#c62a00 162.5px,#d83f00 163.5px,#ff6500 164.5px,#ff4a00 166px)"></i><i style="top:99px;background:linear-gradient(90deg,#0000c2 0px,#0000ec 43.5px,#0005ff 54.5px,#001eff 64.5px,#006cff 73.5px,#00c8ff 80.5px,#00f8ff 83.5px,#13ffec 85.5px,#91ff6e 96.5px,#fcfe03 104.5px,#ff9700 113.5px,#ff3a00 127.5px,#fe0100 138.5px,#ae0000 162.5px,#c72c00 163.5px,#ff7200 164.5px,#ff5600 166px)"></i><i style="top:100px;background:linear-gradient(90deg,#0000c2 0px,#0000ec 43.5px,#0005ff 54.5px,#001bff 64.5px,#0067ff 73.5px,#00bfff 80.5px,#02fdfd 84.5px,#9f6 97.5px,#f8ff07 104.5px,#ffed00 106.5px,#ff9c00 113.5px,#ff3700 129.5px,#fe0000 140.5px,#b20000 162.5px,#ca2c00 163.5px,#ff7100 164.5px,#ff5400 166px)"></i><i style="top:101px;background:linear-gradient(90deg,#0000c2 0px,#0000ec 43.5px,#0004ff 54.5px,#0019ff 64.5px,#006eff 74.5px,#00c6ff 81.5px,#00f5ff 84.5px,#06fff9 85.5px,#92ff6d 97.5px,#fefd01 105.5px,#f90 114.5px,#f30 131.5px,#ff0200 141.5px,#b20000 164.5px,#ff7800 166px)"></i><i style="top:102px;background:linear-gradient(90deg,#0000c2 0px,#0000eb 43.5px,#0003ff 54.5px,#001dff 65.5px,#0069ff 74.5px,#00bdff 81.5px,#01fbfe 85.5px,#67ff98 94.5px,#faff05 105.5px,#ffe000 108.5px,#ff9d00 114.5px,#ff3100 133.5px,#fe0100 143.5px,#b70000 164.5px,#ff7800 166px)"></i><i style="top:103px;background:linear-gradient(90deg,#0000c2 0px,#0000ed 44.5px,#0005ff 55.5px,#001aff 65.5px,#0070ff 75.5px,#00c4ff 82.5px,#03fefc 86.5px,#a1ff5e 99.5px,#fefc01 106.5px,#ff9b00 115.5px,#ff2400 137.5px,#fe0000 145.5px,#bd0000 164.5px,#d12800 166px)"></i><i style="top:104px;background:linear-gradient(90deg,#0000c2 0px,#0000ed 44.5px,#0004ff 55.5px,#001fff 66.5px,#006bff 75.5px,#0bf 82.5px,#00f7ff 86.5px,#13ffec 88.5px,#9aff65 99.5px,#fbff04 106.5px,#f90 116.5px,#ff1d00 140.5px,#fd0000 147.5px,#bf0000 166px)"></i><i style="top:105px;background:linear-gradient(90deg,#0000c2 0px,#0000ec 44.5px,#0004ff 55.5px,#001cff 66.5px,#0072ff 76.5px,#00c2ff 83.5px,#01fcfe 87.5px,#93ff6c 99.5px,#f5ff0a 106.5px,#fffb00 107.5px,#ff9c00 116.5px,#ff1200 144.5px,#fc0000 149.5px,#c50000 166px)"></i><i style="top:106px;background:linear-gradient(90deg,#0000c2 0px,#0000ec 44.5px,#0005ff 56.5px,#001aff 66.5px,#006eff 76.5px,#0bf 83.5px,#04fefb 88.5px,#a8ff57 101.5px,#fcfe03 107.5px,#ff9b00 117.5px,#ff0700 148.5px,#f40000 153.5px,#cb0000 166px)"></i><i style="top:107px;background:linear-gradient(90deg,#0000c2 0px,#0000ec 44.5px,#0005ff 56.5px,#001eff 67.5px,#0074ff 77.5px,#00c2ff 84.5px,#00f9ff 88.5px,#21ffde 91.5px,#b0ff4f 102.5px,#f7ff08 107.5px,#fffa00 108.5px,#ff9e00 117.5px,#ff0a00 149.5px,#f70000 154.5px,#d10000 166px)"></i><i style="top:108px;background:linear-gradient(90deg,#0000c2 0px,#0000ec 44.5px,#0004ff 56.5px,#001cff 67.5px,#0070ff 77.5px,#00c9ff 85.5px,#02fdfd 89.5px,#a9ff56 102.5px,#fdfd02 108.5px,#ff9c00 118.5px,#ff0400 152.5px,#d70000 166px)"></i><i style="top:109px;background:linear-gradient(90deg,#0000c2 0px,#0000ed 45.5px,#0004ff 56.5px,#001aff 67.5px,#07f 78.5px,#00c3ff 85.5px,#00f8ff 89.5px,#13ffec 91.5px,#c0ff3f 104.5px,#f8ff07 108.5px,#fe0 110.5px,#ff9a00 119.5px,#ff0700 153.5px,#f10000 159.5px,#d00 166px)"></i><i style="top:110px;background:linear-gradient(90deg,#0000c2 0px,#0000ed 45.5px,#0004ff 56.5px,#0019ff 67.5px,#0074ff 78.5px,#00cbff 86.5px,#02fdfd 90.5px,#abff54 103.5px,#fefd01 109.5px,#ff9c00 119.5px,#f10 152.5px,#fa0000 158.5px,#e20000 166px)"></i><i style="top:111px;background:linear-gradient(90deg,#0000c2 0px,#0000ed 45.5px,#0005ff 57.5px,#001eff 68.5px,#0071ff 78.5px,#00c7ff 86.5px,#00f9ff 90.5px,#14ffeb 92.5px,#d0ff2f 106.5px,#faff05 109.5px,#ffd000 114.5px,#ff9a00 120.5px,#ff1600 152.5px,#fb0000 159.5px,#e70000 166px)"></i><i style="top:112px;background:linear-gradient(90deg,#0000c2 0px,#0000ec 45.5px,#0005ff 57.5px,#001dff 68.5px,#0079ff 79.5px,#00dcff 88.5px,#02fefd 91.5px,#caff35 106.5px,#fffb00 110.5px,#ff9d00 120.5px,#f20 150.5px,#fc0000 160.5px,#ec0000 166px)"></i><i style="top:113px;background:linear-gradient(90deg,#0000c2 0px,#0000ec 45.5px,#0005ff 57.5px,#001cff 68.5px,#07f 79.5px,#00e4ff 89.5px,#00fbff 91.5px,#58ffa7 98.5px,#fcfe03 110.5px,#ff9a00 121.5px,#ff2d00 148.5px,#fd0000 161.5px,#f00000 166px)"></i><i style="top:114px;background:linear-gradient(90deg,#0000c2 0px,#0000ec 45.5px,#0004ff 57.5px,#001bff 68.5px,#0075ff 79.5px,#04fffb 92.5px,#f6ff09 110.5px,#fffa00 111.5px,#ff9d00 121.5px,#ff3400 147.5px,#fb0000 163.5px,#f50000 166px)"></i><i style="top:115px;background:linear-gradient(90deg,#0000c2 0px,#0000ec 45.5px,#0004ff 57.5px,#001aff 68.5px,#0072ff 79.5px,#01fdfe 92.5px,#fcfe03 111.5px,#ff9a00 122.5px,#ff3700 147.5px,#fd0000 164.5px,#f90000 166px)"></i><i style="top:116px;background:linear-gradient(90deg,#0000c2 0px,#0000ed 46.5px,#0004ff 57.5px,#0020ff 69.5px,#0070ff 79.5px,#00faff 92.5px,#13ffec 94.5px,#f7ff08 111.5px,#fff000 113.5px,#ff9c00 122.5px,#ff3900 147.5px,#fe0000 166px)"></i><i style="top:117px;background:linear-gradient(90deg,#0000c2 0px,#0000ed 46.5px,#0005ff 58.5px,#001eff 69.5px,#006eff 79.5px,#02fefd 93.5px,#fdfe02 112.5px,#ff9f00 122.5px,#ff3f00 146.5px,#ff0300 166px)"></i><i style="top:118px;background:linear-gradient(90deg,#0000c2 0px,#0000ed 46.5px,#0005ff 58.5px,#001dff 69.5px,#006cff 79.5px,#00fcff 93.5px,#31ffce 97.5px,#f9ff06 112.5px,#ffef00 114.5px,#ff9c00 123.5px,#ff3e00 147.5px,#ff0700 166px)"></i><i style="top:119px;background:linear-gradient(90deg,#0000c2 0px,#0000ed 46.5px,#0005ff 58.5px,#001cff 69.5px,#0069ff 79.5px,#04fffb 94.5px,#fefd01 113.5px,#ff9e00 123.5px,#ff4000 147.5px,#ff0b00 166px)"></i><i style="top:120px;background:linear-gradient(90deg,#0000c2 0px,#0000ec 46.5px,#0005ff 58.5px,#001bff 69.5px,#0067ff 79.5px,#01fefe 94.5px,#fbff04 113.5px,#ff9c00 124.5px,#ff4200 147.5px,#ff0f00 166px)"></i><i style="top:121px;background:linear-gradient(90deg,#0000c2 0px,#0000ec 46.5px,#0004ff 58.5px,#001aff 69.5px,#006fff 80.5px,#00fbff 94.5px,#14ffeb 96.5px,#f6ff09 113.5px,#fffb00 114.5px,#ff9e00 124.5px,#f40 147.5px,#ff1200 166px)"></i><i style="top:122px;background:linear-gradient(90deg,#0000c2 0px,#0000ec 46.5px,#0004ff 58.5px,#001aff 69.5px,#006dff 80.5px,#00efff 93.5px,#03fffc 95.5px,#f2ff0d 113.5px,#fdfd02 114.5px,#ff9b00 125.5px,#ff4600 147.5px,#ff1500 166px)"></i><i style="top:123px;background:linear-gradient(90deg,#0000c2 0px,#0000ec 46.5px,#0004ff 58.5px,#001fff 70.5px,#006bff 80.5px,#00daff 91.5px,#01fdfe 95.5px,#3fc 99.5px,#fbff04 114.5px,#ffa500 124.5px,#ff4700 147.5px,#ff1800 166px)"></i><i style="top:124px;background:linear-gradient(90deg,#0000c2 0px,#0000ed 47.5px,#0005ff 59.5px,#001eff 70.5px,#0069ff 80.5px,#00ceff 90.5px,#00fbff 95.5px,#05fffa 96.5px,#eaff15 113.5px,#fffb00 115.5px,#ff9b00 126.5px,#ff4600 148.5px,#ff1b00 166px)"></i><i style="top:125px;background:linear-gradient(90deg,#0000c2 0px,#0000ed 47.5px,#0005ff 59.5px,#001dff 70.5px,#0067ff 80.5px,#00c4ff 89.5px,#02fefd 96.5px,#f3ff0c 114.5px,#fefd01 115.5px,#ff9d00 126.5px,#ff4500 149.5px,#ff1e00 166px)"></i><i style="top:126px;background:linear-gradient(90deg,#0000c2 0px,#0000ed 47.5px,#0005ff 59.5px,#001cff 70.5px,#0065ff 80.5px,#00c2ff 89.5px,#00fdff 96.5px,#16ffe9 98.5px,#efff10 114.5px,#fcff03 115.5px,#ff9b00 127.5px,#ff4700 149.5px,#ff2000 166px)"></i><i style="top:127px;background:linear-gradient(90deg,#0000c2 0px,#0000ed 47.5px,#0005ff 59.5px,#001bff 70.5px,#006eff 81.5px,#00c1ff 89.5px,#04fffb 97.5px,#f8ff07 115.5px,#fff000 117.5px,#ff9d00 127.5px,#ff4600 150.5px,#ff2300 166px)"></i><i style="top:128px;background:linear-gradient(90deg,#0000c2 0px,#0000ec 47.5px,#0004ff 59.5px,#001aff 70.5px,#006cff 81.5px,#00bfff 89.5px,#02fefd 97.5px,#f5ff0a 115.5px,#fefc01 116.5px,#ff9b00 128.5px,#ff4600 151.5px,#ff2500 166px)"></i><i style="top:129px;background:linear-gradient(90deg,#0000c2 0px,#0000ec 47.5px,#0004ff 59.5px,#0020ff 71.5px,#006aff 81.5px,#00beff 89.5px,#00fdff 97.5px,#16ffe9 99.5px,#f1ff0e 115.5px,#fdfe02 116.5px,#ff9d00 128.5px,#ff4800 151.5px,#ff2800 166px)"></i><i style="top:130px;background:linear-gradient(90deg,#0000c2 0px,#0000ec 47.5px,#0004ff 59.5px,#001fff 71.5px,#0068ff 81.5px,#00bdff 89.5px,#04fffb 98.5px,#faff05 116.5px,#ffd000 122.5px,#ff9b00 129.5px,#ff4700 152.5px,#ff2a00 166px)"></i><i style="top:131px;background:linear-gradient(90deg,#0000c2 0px,#0000ec 47.5px,#0004ff 59.5px,#001eff 71.5px,#06f 81.5px,#00bcff 89.5px,#02fffd 98.5px,#f6ff09 116.5px,#fffb00 117.5px,#ff9e00 129.5px,#ff4700 153.5px,#ff2d00 166px)"></i><i style="top:132px;background:linear-gradient(90deg,#0000c2 0px,#0000eb 47.5px,#0003ff 59.5px,#001dff 71.5px,#0065ff 81.5px,#0bf 89.5px,#01fefe 98.5px,#17ffe8 100.5px,#f2ff0d 116.5px,#fefd01 117.5px,#ff9c00 130.5px,#ff4700 154.5px,#ff2f00 166px)"></i><i style="top:133px;background:linear-gradient(90deg,#0000c2 0px,#0000ed 48.5px,#0005ff 60.5px,#001cff 71.5px,#0063ff 81.5px,#00b9ff 89.5px,#00fcff 98.5px,#12ffed 100.5px,#fbff04 117.5px,#ff9a00 131.5px,#ff4700 155.5px,#ff3100 166px)"></i><i style="top:134px;background:linear-gradient(90deg,#0000c2 0px,#0000ed 48.5px,#0005ff 60.5px,#001bff 71.5px,#006cff 82.5px,#00b9ff 89.5px,#03fffc 99.5px,#f7ff08 117.5px,#fffb00 118.5px,#ff9c00 131.5px,#ff4700 156.5px,#ff3400 166px)"></i><i style="top:135px;background:linear-gradient(90deg,#0000c2 0px,#0000ed 48.5px,#0005ff 60.5px,#001bff 71.5px,#006bff 82.5px,#00b8ff 89.5px,#01fefe 99.5px,#42ffbd 104.5px,#fdfd02 118.5px,#ff9a00 132.5px,#ff4500 158.5px,#ff3600 166px)"></i><i style="top:136px;background:linear-gradient(90deg,#0000c2 0px,#0000ec 48.5px,#0004ff 60.5px,#001aff 71.5px,#0069ff 82.5px,#00b7ff 89.5px,#00fdff 99.5px,#15ffea 101.5px,#faff05 118.5px,#ffe300 122.5px,#ff9c00 132.5px,#ff4500 159.5px,#ff3800 166px)"></i><i style="top:137px;background:linear-gradient(90deg,#0000c2 0px,#0000ec 48.5px,#0004ff 60.5px,#0020ff 72.5px,#0067ff 82.5px,#00b6ff 89.5px,#00fcff 99.5px,#1fe 101.5px,#f5ff0a 118.5px,#fefc01 119.5px,#ff9b00 133.5px,#ff4500 160.5px,#ff3b00 166px)"></i><i style="top:138px;background:linear-gradient(90deg,#0000c2 0px,#0000ec 48.5px,#0004ff 60.5px,#001fff 72.5px,#06f 82.5px,#00b5ff 89.5px,#02fffd 100.5px,#fbff04 119.5px,#ff9d00 133.5px,#f40 162.5px,#ff3d00 166px)"></i><i style="top:139px;background:linear-gradient(90deg,#0000c2 0px,#0000ec 48.5px,#0004ff 60.5px,#001eff 72.5px,#0064ff 82.5px,#00b4ff 89.5px,#01fffe 100.5px,#69ff96 108.5px,#fefc01 120.5px,#ff9b00 134.5px,#f40 163.5px,#ff4000 166px)"></i><i style="top:140px;background:linear-gradient(90deg,#0000c2 0px,#0000eb 48.5px,#0003ff 60.5px,#001dff 72.5px,#0063ff 82.5px,#00baff 90.5px,#01fefe 100.5px,#15ffea 102.5px,#d6ff29 117.5px,#fbff04 120.5px,#ffb800 130.5px,#ff9a00 135.5px,#f40 164.5px,#ff4200 166px)"></i><i style="top:141px;background:linear-gradient(90deg,#0000c2 0px,#0000eb 48.5px,#0005ff 61.5px,#001cff 72.5px,#006dff 83.5px,#00b9ff 90.5px,#00fdff 100.5px,#1fe 102.5px,#b7ff48 115.5px,#fdfd02 121.5px,#ff9c00 135.5px,#f40 166px)"></i><i style="top:142px;background:linear-gradient(90deg,#0000c2 0px,#0000ed 49.5px,#0005ff 61.5px,#001cff 72.5px,#006bff 83.5px,#00b9ff 90.5px,#03fffc 101.5px,#b2ff4d 115.5px,#fffc00 122.5px,#ff9b00 136.5px,#ff4700 166px)"></i><i style="top:143px;background:linear-gradient(90deg,#0000c2 0px,#0000ed 49.5px,#0005ff 61.5px,#001bff 72.5px,#006aff 83.5px,#00b8ff 90.5px,#02fffd 101.5px,#a1ff5e 114.5px,#f9ff06 122.5px,#ffeb00 125.5px,#ff9d00 136.5px,#ff4900 166px)"></i><i style="top:144px;background:linear-gradient(90deg,#0000c2 0px,#0000ec 49.5px,#0004ff 61.5px,#001aff 72.5px,#0069ff 83.5px,#00b7ff 90.5px,#01fefe 101.5px,#2fffd0 105.5px,#9cff63 114.5px,#fbff04 123.5px,#ff9c00 137.5px,#ff4b00 166px)"></i><i style="top:145px;background:linear-gradient(90deg,#0000c2 0px,#0000ec 49.5px,#0004ff 61.5px,#0020ff 73.5px,#0067ff 83.5px,#00b6ff 90.5px,#00fdff 101.5px,#12ffed 103.5px,#8dff72 113.5px,#fcfe03 124.5px,#ff9b00 138.5px,#ff4e00 166px)"></i><i style="top:146px;background:linear-gradient(90deg,#0000c2 0px,#0000ec 49.5px,#0004ff 61.5px,#001fff 73.5px,#06f 83.5px,#00b5ff 90.5px,#04fffb 102.5px,#8aff75 113.5px,#fcfe03 125.5px,#ff9e00 138.5px,#ff5100 166px)"></i><i style="top:147px;background:linear-gradient(90deg,#0000c2 0px,#0000ec 49.5px,#0004ff 61.5px,#001fff 73.5px,#0065ff 83.5px,#00b5ff 90.5px,#03fffc 102.5px,#86ff79 113.5px,#fdfe02 126.5px,#ff9d00 139.5px,#ff5400 166px)"></i><i style="top:148px;background:linear-gradient(90deg,#0000c2 0px,#0000eb 49.5px,#0004ff 61.5px,#001eff 73.5px,#0064ff 83.5px,#00b4ff 90.5px,#01fffe 102.5px,#8cff73 114.5px,#fdfe02 127.5px,#ff9d00 140.5px,#ff5700 166px)"></i><i style="top:149px;background:linear-gradient(90deg,#0000c2 0px,#0000eb 49.5px,#0003ff 61.5px,#001dff 73.5px,#0063ff 83.5px,#00b3ff 90.5px,#01fefe 102.5px,#2bffd4 106.5px,#89ff76 114.5px,#fdfe02 128.5px,#ff9c00 141.5px,#ff5a00 166px)"></i><i style="top:150px;background:linear-gradient(90deg,#0000c2 0px,#0000eb 49.5px,#0005ff 62.5px,#001dff 73.5px,#0062ff 83.5px,#00b9ff 91.5px,#00fdff 102.5px,#1fe 104.5px,#86ff79 114.5px,#fdfe02 129.5px,#ff9c00 142.5px,#ff5d00 166px)"></i><i style="top:151px;background:linear-gradient(90deg,#0000c2 0px,#0000ed 50.5px,#0005ff 62.5px,#001cff 73.5px,#006cff 84.5px,#00b8ff 91.5px,#04fffb 103.5px,#83ff7c 114.5px,#fdfe02 130.5px,#ff9d00 143.5px,#ff6000 166px)"></i><i style="top:152px;background:linear-gradient(90deg,#0000c2 0px,#0000ed 50.5px,#0005ff 62.5px,#001bff 73.5px,#006bff 84.5px,#00b7ff 91.5px,#02fffd 103.5px,#8f7 115.5px,#fdfe02 131.5px,#ff9d00 144.5px,#ff6300 166px)"></i><i style="top:153px;background:linear-gradient(90deg,#0000c2 0px,#0000ec 50.5px,#0005ff 62.5px,#001bff 73.5px,#006aff 84.5px,#00b7ff 91.5px,#01fffe 103.5px,#85ff7a 115.5px,#fefe01 132.5px,#ff9e00 145.5px,#f60 166px)"></i><i style="top:154px;background:linear-gradient(90deg,#0000c2 0px,#0000ec 50.5px,#0004ff 62.5px,#001bff 73.5px,#0068ff 84.5px,#00b6ff 91.5px,#01fefe 103.5px,#29ffd6 107.5px,#83ff7c 115.5px,#fefe01 133.5px,#ff9b00 147.5px,#ff6900 166px)"></i><i style="top:155px;background:linear-gradient(90deg,#0000c2 0px,#0000ec 50.5px,#0004ff 62.5px,#001aff 73.5px,#0067ff 84.5px,#00b5ff 91.5px,#00fdff 103.5px,#0ffff0 105.5px,#80ff7f 115.5px,#fefe01 134.5px,#ff9c00 148.5px,#ff6d00 166px)"></i><i style="top:156px;background:linear-gradient(90deg,#0000c2 0px,#0000ec 50.5px,#0004ff 62.5px,#0020ff 74.5px,#06f 84.5px,#00b4ff 91.5px,#03fffc 104.5px,#85ff7a 116.5px,#fefe01 135.5px,#ff9d00 149.5px,#ff7000 166px)"></i><i style="top:157px;background:linear-gradient(90deg,#0000c2 0px,#0000eb 50.5px,#0004ff 62.5px,#001fff 74.5px,#0065ff 84.5px,#00b4ff 91.5px,#02fffd 104.5px,#83ff7c 116.5px,#fefe01 136.5px,#ff9b00 151.5px,#ff7300 166px)"></i><i style="top:158px;background:linear-gradient(90deg,#0000c2 0px,#0000eb 50.5px,#0004ff 62.5px,#001fff 74.5px,#0064ff 84.5px,#00b3ff 91.5px,#01fffe 104.5px,#80ff7f 116.5px,#fefe01 137.5px,#ff9c00 152.5px,#f70 166px)"></i><i style="top:159px;background:linear-gradient(90deg,#0000c2 0px,#0000eb 50.5px,#0003ff 62.5px,#001eff 74.5px,#0063ff 84.5px,#00b2ff 91.5px,#01fefe 104.5px,#48ffb7 111.5px,#84ff7b 117.5px,#fefe01 138.5px,#ff9d00 153.5px,#ff7a00 166px)"></i><i style="top:160px;background:linear-gradient(90deg,#0000c2 0px,#0000eb 50.5px,#0005ff 63.5px,#001eff 74.5px,#0062ff 84.5px,#00b8ff 92.5px,#00feff 104.5px,#1affe5 107.5px,#82ff7d 117.5px,#fefe01 139.5px,#ff9b00 155.5px,#ff7e00 166px)"></i><i style="top:161px;background:linear-gradient(90deg,#0000c2 0px,#0000eb 50.5px,#0005ff 63.5px,#001dff 74.5px,#006cff 85.5px,#00b7ff 92.5px,#04fffb 105.5px,#80ff7f 117.5px,#fefe01 140.5px,#ff9c00 156.5px,#ff8200 166px)"></i><i style="top:162px;background:linear-gradient(90deg,#0000c2 0px,#0000ec 51.5px,#0005ff 63.5px,#001dff 74.5px,#006bff 85.5px,#00b7ff 92.5px,#03fffc 105.5px,#84ff7b 118.5px,#fefe01 141.5px,#ff9b00 158.5px,#ff8600 166px)"></i><i style="top:163px;background:linear-gradient(90deg,#0000c2 0px,#0000ec 51.5px,#0005ff 63.5px,#001cff 74.5px,#006aff 85.5px,#00b6ff 92.5px,#02fffd 105.5px,#82ff7d 118.5px,#feff01 142.5px,#ff9c00 159.5px,#ff8a00 166px)"></i><i style="top:164px;background:linear-gradient(90deg,#0000c2 0px,#0000ec 51.5px,#0004ff 63.5px,#001cff 74.5px,#0069ff 85.5px,#00b5ff 92.5px,#01fffe 105.5px,#81ff7e 118.5px,#fffb00 144.5px,#ff9a00 161.5px,#ff8e00 166px)"></i><i style="top:165px;background:linear-gradient(90deg,#0000c2 0px,#0000ec 51.5px,#0004ff 63.5px,#001bff 74.5px,#0068ff 85.5px,#00b5ff 92.5px,#01fefe 105.5px,#56ffa9 114.5px,#84ff7b 119.5px,#fffc00 145.5px,#f90 163.5px,#ff9300 166px)"></i><i style="top:166px;background:linear-gradient(90deg,#0000c2 0px,#0000eb 51.5px,#0004ff 63.5px,#001bff 74.5px,#0067ff 85.5px,#00b4ff 92.5px,#00feff 105.5px,#2fd 109.5px,#82ff7d 119.5px,#fffc00 146.5px,#ff9a00 164.5px,#ff9700 166px)"></i><i style="top:167px;background:linear-gradient(90deg,#0000c2 0px,#0000eb 51.5px,#0004ff 63.5px,#001bff 74.5px,#0067ff 85.5px,#00b4ff 92.5px,#04fffb 106.5px,#81ff7e 119.5px,#fffd00 147.5px,#ff9c00 166px)"></i><i style="top:168px;background:linear-gradient(90deg,#0000c2 0px,#0000eb 51.5px,#0004ff 63.5px,#001aff 74.5px,#06f 85.5px,#00b3ff 92.5px,#03fffc 106.5px,#7fff80 119.5px,#fffd00 148.5px,#ffa200 166px)"></i><i style="top:169px;background:linear-gradient(90deg,#0000c2 0px,#0000eb 51.5px,#0004ff 63.5px,#001aff 74.5px,#0065ff 85.5px,#00b2ff 92.5px,#02fffd 106.5px,#82ff7d 120.5px,#fffe00 149.5px,#ffa900 166px)"></i><i style="top:170px;background:linear-gradient(90deg,#0000c2 0px,#0000eb 51.5px,#0004ff 63.5px,#0020ff 75.5px,#0064ff 85.5px,#00b1ff 92.5px,#01fffe 106.5px,#81ff7e 120.5px,#fffe00 150.5px,#ffb000 166px)"></i><i style="top:171px;background:linear-gradient(90deg,#0000c2 0px,#0000ea 51.5px,#0003ff 63.5px,#0020ff 75.5px,#0063ff 85.5px,#00b7ff 93.5px,#01fefe 106.5px,#7fff80 120.5px,#fffb00 152.5px,#ffb700 166px)"></i><i style="top:172px;background:linear-gradient(90deg,#0000c2 0px,#0000ec 52.5px,#0005ff 64.5px,#001fff 75.5px,#0063ff 85.5px,#00b7ff 93.5px,#00feff 106.5px,#82ff7d 121.5px,#fffc00 153.5px,#ffbe00 166px)"></i><i style="top:173px;background:linear-gradient(90deg,#0000c2 0px,#0000ec 52.5px,#0005ff 64.5px,#001fff 75.5px,#006dff 86.5px,#00b6ff 93.5px,#05fffa 107.5px,#81ff7e 121.5px,#fffc00 154.5px,#ffc400 166px)"></i><i style="top:174px;background:linear-gradient(90deg,#0000c2 0px,#0000ec 52.5px,#0005ff 64.5px,#001fff 75.5px,#006cff 86.5px,#00b6ff 93.5px,#04fffb 107.5px,#7fff80 121.5px,#fffd00 155.5px,#ffcb00 166px)"></i><i style="top:175px;background:linear-gradient(90deg,#0000c2 0px,#0000ec 52.5px,#0005ff 64.5px,#001fff 75.5px,#006cff 86.5px,#00b5ff 93.5px,#03fffc 107.5px,#82ff7d 122.5px,#fffe00 156.5px,#ffd100 166px)"></i><i style="top:176px;background:linear-gradient(90deg,#0000c2 0px,#0000eb 52.5px,#0005ff 64.5px,#001eff 75.5px,#006bff 86.5px,#00b5ff 93.5px,#02fffd 107.5px,#81ff7e 122.5px,#fffb00 158.5px,#ffd800 166px)"></i><i style="top:177px;background:linear-gradient(90deg,#0000c2 0px,#0000eb 52.5px,#0005ff 64.5px,#001eff 75.5px,#006aff 86.5px,#00b4ff 93.5px,#02fffd 107.5px,#7fff80 122.5px,#fffc00 159.5px,#ffde00 166px)"></i><i style="top:178px;background:linear-gradient(90deg,#0000c2 0px,#0000eb 52.5px,#0004ff 64.5px,#001eff 75.5px,#006aff 86.5px,#00b4ff 93.5px,#01fffe 107.5px,#82ff7d 123.5px,#fffd00 160.5px,#ffe500 166px)"></i><i style="top:179px;background:linear-gradient(90deg,#0000c2 0px,#0000eb 52.5px,#0004ff 64.5px,#001eff 75.5px,#0069ff 86.5px,#00b3ff 93.5px,#01fffe 107.5px,#81ff7e 123.5px,#fffe00 161.5px,#ffeb00 166px)"></i><i style="top:180px;background:linear-gradient(90deg,#0000c2 0px,#0000ea 52.5px,#0004ff 64.5px,#001dff 75.5px,#0069ff 86.5px,#00b3ff 93.5px,#01fefe 107.5px,#80ff7f 123.5px,#fffb00 163.5px,#fff200 166px)"></i><i style="top:181px;background:linear-gradient(90deg,#0000c2 0px,#0000ea 52.5px,#0004ff 64.5px,#001dff 75.5px,#0068ff 86.5px,#00b2ff 93.5px,#00feff 107.5px,#82ff7d 124.5px,#fffd00 164.5px,#fff900 166px)"></i><i style="top:182px;background:linear-gradient(90deg,#0000c2 0px,#0000ea 52.5px,#0004ff 64.5px,#001dff 75.5px,#0068ff 86.5px,#00b8ff 94.5px,#00feff 107.5px,#81ff7e 124.5px,#fffd00 166px)"></i><i style="top:183px;background:linear-gradient(90deg,#0000c2 0px,#0000ec 53.5px,#0004ff 64.5px,#001dff 75.5px,#0067ff 86.5px,#00b7ff 94.5px,#04fffb 108.5px,#80ff7f 124.5px,#fcff03 166px)"></i><i style="top:184px;background:linear-gradient(90deg,#0000c2 0px,#0000ec 53.5px,#0004ff 64.5px,#001dff 75.5px,#0067ff 86.5px,#00b7ff 94.5px,#04fffb 108.5px,#82ff7d 125.5px,#f8ff07 166px)"></i><i style="top:185px;background:linear-gradient(90deg,#0000c2 0px,#0000ec 53.5px,#0004ff 64.5px,#001dff 75.5px,#0067ff 86.5px,#00b6ff 94.5px,#03fffc 108.5px,#81ff7e 125.5px,#f5ff0a 166px)"></i><i style="top:186px;background:linear-gradient(90deg,#0000c2 0px,#0000eb 53.5px,#0003ff 64.5px,#001dff 75.5px,#06f 86.5px,#00b6ff 94.5px,#03fffc 108.5px,#80ff7f 125.5px,#f1ff0e 166px)"></i><i style="top:187px;background:linear-gradient(90deg,#0000c2 0px,#0000eb 53.5px,#0003ff 64.5px,#001dff 75.5px,#06f 86.5px,#00b6ff 94.5px,#03fffc 108.5px,#82ff7d 126.5px,#edff12 166px)"></i><i style="top:188px;background:linear-gradient(90deg,#0000c2 0px,#0000eb 53.5px,#0003ff 64.5px,#001dff 75.5px,#06f 86.5px,#00b5ff 94.5px,#02fffd 108.5px,#81ff7e 126.5px,#eaff15 166px)"></i></div>
<div class="hm" style="left:306px;top:12px;width:167px;height:189px"><i style="top:0px;background:linear-gradient(90deg,#b30000 0px,#b80000 54.5px,#d30000 66.5px,#ff0500 80.5px,#ff1300 87.5px,#fc0000 97.5px,#f30000 102.5px,#fc0c00 103.5px,#ff7900 105.5px,#ffe100 108.5px,#f8fd07 109.5px,#09fdf6 115.5px,#00e3ff 116.5px,#007eff 119.5px,#003dff 120.5px,#0005f1 121.5px,#0000b2 122.5px,#0000b2 129.5px,#0002cc 130.5px,#0070ff 131.5px,#00c6ff 134.5px,#00e4ff 136.5px,#00f4ff 141.5px,#0ef 147.5px,#00d8ff 150.5px,#00b6ff 152.5px,#0081ff 154.5px,#000dff 157.5px,#0000f0 158.5px,#0000d1 160.5px,#0000be 164.5px,#0000bd 167px)"></i><i style="top:1px;background:linear-gradient(90deg,#b30000 0px,#b80000 54.5px,#d20000 66.5px,#ff0400 80.5px,#ff1300 87.5px,#fa0000 98.5px,#f30000 102.5px,#f70300 103.5px,#ff2f00 104.5px,#ff6900 105.5px,#ffd700 108.5px,#fdf802 109.5px,#df2 110.5px,#0ffff0 115.5px,#00e9ff 116.5px,#0084ff 119.5px,#0046ff 120.5px,#0008f6 121.5px,#0000b6 122.5px,#0000b2 129.5px,#0000c8 130.5px,#006cff 131.5px,#0092ff 132.5px,#00c5ff 134.5px,#00e3ff 136.5px,#00f4ff 140.5px,#00f3ff 146.5px,#00e4ff 149.5px,#00c9ff 151.5px,#009cff 153.5px,#005aff 155.5px,#0010ff 157.5px,#0000f3 158.5px,#0000d3 160.5px,#0000c0 164.5px,#0000bf 167px)"></i><i style="top:2px;background:linear-gradient(90deg,#b30000 0px,#b80000 54.5px,#d10000 66.5px,#ff0300 80.5px,#ff1300 87.5px,#fa0000 98.5px,#f30000 103.5px,#ff1b00 104.5px,#ff5700 105.5px,#ff8700 106.5px,#fff000 109.5px,#e8ff17 110.5px,#17ffe8 115.5px,#00efff 116.5px,#008aff 119.5px,#000dfa 121.5px,#0000bf 122.5px,#0000b2 123.5px,#0000b2 129.5px,#0000c2 130.5px,#0067ff 131.5px,#0093ff 132.5px,#00d5ff 135.5px,#00f1ff 138.5px,#00faff 144.5px,#0ef 148.5px,#00d8ff 150.5px,#00b2ff 152.5px,#0079ff 154.5px,#01f 157.5px,#0000f5 158.5px,#0000d5 160.5px,#0000c4 163.5px,#0000c3 167px)"></i><i style="top:3px;background:linear-gradient(90deg,#b30000 0px,#b90000 55.5px,#d40000 67.5px,#ff0200 80.5px,#ff1300 87.5px,#fb0000 98.5px,#f30000 103.5px,#fb0b00 104.5px,#ff7a00 106.5px,#ffe600 109.5px,#f2fe0d 110.5px,#1fffe0 115.5px,#01f5fe 116.5px,#008fff 119.5px,#0059ff 120.5px,#0013fc 121.5px,#0000c1 122.5px,#0000b2 123.5px,#0000b6 130.5px,#0062ff 131.5px,#0094ff 132.5px,#00d3ff 135.5px,#00f2ff 138.5px,#01fffe 143.5px,#00f7ff 147.5px,#00d9ff 150.5px,#00afff 152.5px,#0052ff 155.5px,#01f 157.5px,#0000f6 158.5px,#0000d6 160.5px,#0000c6 163.5px,#0000c7 167px)"></i><i style="top:4px;background:linear-gradient(90deg,#b30000 0px,#b80000 55.5px,#d30000 67.5px,#ff0200 80.5px,#ff1300 87.5px,#ff0400 95.5px,#f30000 103.5px,#f70200 104.5px,#ff2f00 105.5px,#ff6b00 106.5px,#ffdc00 109.5px,#f9fb06 110.5px,#28ffd7 115.5px,#04f9fb 116.5px,#0094ff 119.5px,#0062ff 120.5px,#0019ff 121.5px,#0000c7 122.5px,#0000b2 123.5px,#0000b2 130.5px,#0057ff 131.5px,#0093ff 132.5px,#00d1ff 135.5px,#00f3ff 138.5px,#02fffd 141.5px,#01fffe 146.5px,#00f4ff 148.5px,#00daff 150.5px,#00adff 152.5px,#000fff 157.5px,#0000f5 158.5px,#0000d7 160.5px,#0000c9 163.5px,#00c 167px)"></i><i style="top:5px;background:linear-gradient(90deg,#b30000 0px,#b80000 55.5px,#d30000 67.5px,#ff0500 81.5px,#ff1300 88.5px,#fc0000 98.5px,#f30000 104.5px,#ff1a00 105.5px,#ff5800 106.5px,#ff8900 107.5px,#fef501 110.5px,#deff21 111.5px,#08fcf7 116.5px,#00dfff 117.5px,#09f 119.5px,#006bff 120.5px,#02f 121.5px,#0000d3 122.5px,#0000b2 123.5px,#0000b2 130.5px,#004cff 131.5px,#0093ff 132.5px,#00cfff 135.5px,#00f3ff 138.5px,#06fff9 141.5px,#09fff6 145.5px,#00f9ff 148.5px,#00dcff 150.5px,#00acff 152.5px,#000cff 157.5px,#0000f3 158.5px,#0000d8 160.5px,#0000cd 163.5px,#0000d1 167px)"></i><i style="top:6px;background:linear-gradient(90deg,#b30000 0px,#b80000 55.5px,#d20000 67.5px,#ff0400 81.5px,#ff1300 88.5px,#fa0000 99.5px,#f20000 104.5px,#fb0a00 105.5px,#ff7c00 107.5px,#ffed00 110.5px,#eaff15 111.5px,#0efef1 116.5px,#00e5ff 117.5px,#009fff 119.5px,#0074ff 120.5px,#002bff 121.5px,#0000d8 122.5px,#0000b2 123.5px,#0000b2 130.5px,#0044fb 131.5px,#0092ff 132.5px,#00cfff 135.5px,#00f4ff 138.5px,#04fffb 140.5px,#10ffef 144.5px,#01fdfe 148.5px,#00dfff 150.5px,#00adff 152.5px,#0009ff 157.5px,#0000f1 158.5px,#0000da 160.5px,#0000d2 164.5px,#0000d6 167px)"></i><i style="top:7px;background:linear-gradient(90deg,#b30000 0px,#b80000 55.5px,#d10000 67.5px,#ff0300 81.5px,#ff1300 88.5px,#fa0000 99.5px,#f20000 104.5px,#f60200 105.5px,#ff2e00 106.5px,#ff6d00 107.5px,#ffe200 110.5px,#f4fe0b 111.5px,#16ffe9 116.5px,#00ecff 117.5px,#007cff 120.5px,#0034ff 121.5px,#0001de 122.5px,#0000b2 123.5px,#0000b2 130.5px,#003ef5 131.5px,#0092ff 132.5px,#00ceff 135.5px,#00f5ff 138.5px,#07fff8 140.5px,#16ffe9 144.5px,#0dfff2 147.5px,#04fffb 148.5px,#00f6ff 149.5px,#00cbff 151.5px,#006dff 154.5px,#0008ff 157.5px,#0000f0 158.5px,#00d 160.5px,#0000d9 165.5px,#0000dc 167px)"></i><i style="top:8px;background:linear-gradient(90deg,#b30000 0px,#b90000 56.5px,#d40000 68.5px,#ff0200 81.5px,#ff1300 88.5px,#fb0000 99.5px,#f20000 105.5px,#fe1900 106.5px,#ff5a00 107.5px,#ff8b00 108.5px,#fbfa04 111.5px,#a7ff58 113.5px,#1fffe0 116.5px,#00f2ff 117.5px,#0083ff 120.5px,#003eff 121.5px,#0003ec 122.5px,#0000b2 123.5px,#0000b2 130.5px,#0035e9 131.5px,#0091ff 132.5px,#00ceff 135.5px,#00f6ff 138.5px,#0afff5 140.5px,#1dffe2 144.5px,#13ffec 147.5px,#00f9ff 149.5px,#00cdff 151.5px,#006fff 154.5px,#000bff 157.5px,#0000f5 158.5px,#0000e1 160.5px,#0000df 165.5px,#0000e2 167px)"></i><i style="top:9px;background:linear-gradient(90deg,#b30000 0px,#b90000 56.5px,#d30000 68.5px,#ff0200 81.5px,#ff1300 88.5px,#ff0400 96.5px,#f20000 105.5px,#fa0900 106.5px,#ff7f00 108.5px,#fef301 111.5px,#e0ff1f 112.5px,#28ffd7 116.5px,#03f7fc 117.5px,#008aff 120.5px,#0048ff 121.5px,#0006f2 122.5px,#0000b2 123.5px,#0000b2 130.5px,#0029e6 131.5px,#0091ff 132.5px,#00cfff 135.5px,#00f7ff 138.5px,#0cfff3 140.5px,#23ffdc 143.5px,#2fd 146.5px,#01fbfe 149.5px,#00cfff 151.5px,#0074ff 154.5px,#0015ff 157.5px,#0002fc 158.5px,#0000e8 160.5px,#0000e3 164.5px,#0000e8 167px)"></i><i style="top:10px;background:linear-gradient(90deg,#b30000 0px,#b90000 56.5px,#d30000 68.5px,#ff0500 82.5px,#ff1300 89.5px,#fc0000 99.5px,#f20000 105.5px,#f50100 106.5px,#ff2e00 107.5px,#ff6f00 108.5px,#ffe900 111.5px,#ecff13 112.5px,#07fbf8 117.5px,#00b5ff 119.5px,#0090ff 120.5px,#0052ff 121.5px,#000bf7 122.5px,#0000b2 123.5px,#0000b2 130.5px,#001ee5 131.5px,#0090ff 132.5px,#00d0ff 135.5px,#00f8ff 138.5px,#10ffef 140.5px,#2fffd0 143.5px,#3fc 145.5px,#24ffdb 147.5px,#04fefb 149.5px,#00d3ff 151.5px,#0021ff 157.5px,#000bff 158.5px,#0000fa 159.5px,#0000e9 162.5px,#0000ef 167px)"></i><i style="top:11px;background:linear-gradient(90deg,#b40000 0px,#b80000 56.5px,#d20000 68.5px,#ff0400 82.5px,#ff1300 89.5px,#fa0000 100.5px,#f20000 106.5px,#fe1800 107.5px,#ff5b00 108.5px,#ff8e00 109.5px,#ffde00 111.5px,#f5fd0a 112.5px,#0dfef2 117.5px,#00e1ff 118.5px,#0095ff 120.5px,#005dff 121.5px,#0011fa 122.5px,#0000be 123.5px,#0000b2 124.5px,#0000b2 130.5px,#0017e1 131.5px,#008fff 132.5px,#00d3ff 135.5px,#00fbff 138.5px,#17ffe8 140.5px,#3fffc0 143.5px,#45ffba 145.5px,#3fc 147.5px,#0cfff3 149.5px,#00f3ff 150.5px,#0086ff 154.5px,#002eff 157.5px,#0007ff 159.5px,#0000f4 161.5px,#0000f4 165.5px,#0000f7 167px)"></i><i style="top:12px;background:linear-gradient(90deg,#b40000 0px,#b90000 57.5px,#d50000 69.5px,#ff0300 82.5px,#ff1300 89.5px,#fa0000 100.5px,#f20000 106.5px,#f90800 107.5px,#ff8100 109.5px,#fcf803 112.5px,#d5ff2a 113.5px,#15ffea 117.5px,#00e8ff 118.5px,#009bff 120.5px,#0067ff 121.5px,#0017fd 122.5px,#0000c1 123.5px,#0000b2 124.5px,#0000b2 130.5px,#0011db 131.5px,#008dff 132.5px,#00c2ff 134.5px,#00f4ff 137.5px,#02fefd 138.5px,#21ffde 140.5px,#56ffa9 143.5px,#5effa1 145.5px,#48ffb7 147.5px,#04fcfb 150.5px,#00b1ff 153.5px,#003dff 157.5px,#0014ff 159.5px,#0002fe 161.5px,#0002fe 167px)"></i><i style="top:13px;background:linear-gradient(90deg,#b40000 0px,#b90000 57.5px,#d40000 69.5px,#ff0200 82.5px,#ff1300 89.5px,#fb0000 100.5px,#f50100 107.5px,#ff2e00 108.5px,#ff7100 109.5px,#ffef00 112.5px,#e1ff1e 113.5px,#1effe1 117.5px,#00efff 118.5px,#00a1ff 120.5px,#0070ff 121.5px,#001fff 122.5px,#0000c4 123.5px,#0000b2 124.5px,#0000b2 130.5px,#000cd0 131.5px,#0086ff 132.5px,#00c4ff 134.5px,#00ecff 136.5px,#01fafe 137.5px,#1bffe4 139.5px,#63ff9c 142.5px,#75ff8a 143.5px,#7fff80 144.5px,#7fff80 145.5px,#7f8 146.5px,#4effb1 148.5px,#13ffec 150.5px,#01f7fe 151.5px,#004dff 157.5px,#0023ff 159.5px,#000fff 161.5px,#000bff 165.5px,#000dff 167px)"></i><i style="top:14px;background:linear-gradient(90deg,#b40000 0px,#b90000 57.5px,#d30000 69.5px,#ff0200 82.5px,#ff1300 89.5px,#ff0400 97.5px,#f10000 107.5px,#fe1700 108.5px,#ff5d00 109.5px,#ff9100 110.5px,#ffe400 112.5px,#ef1 113.5px,#28ffd7 117.5px,#02f5fd 118.5px,#00a7ff 120.5px,#007aff 121.5px,#002aff 122.5px,#0000d1 123.5px,#0000b2 124.5px,#0000b2 130.5px,#0006cc 131.5px,#007cff 132.5px,#00a3ff 133.5px,#00dbff 135.5px,#06fef9 137.5px,#31ffce 139.5px,#8f7 142.5px,#9dff62 143.5px,#a9ff56 144.5px,#af5 145.5px,#a1ff5e 146.5px,#8eff71 147.5px,#12ffed 151.5px,#01f1fe 152.5px,#005dff 157.5px,#0035ff 159.5px,#0021ff 161.5px,#0019ff 165.5px,#001bff 167px)"></i><i style="top:15px;background:linear-gradient(90deg,#b40000 0px,#b90000 57.5px,#d30000 69.5px,#ff0500 83.5px,#ff1300 90.5px,#fc0000 100.5px,#f10000 107.5px,#f90800 108.5px,#ff8300 110.5px,#ffd800 112.5px,#f7fb08 113.5px,#32ffcd 117.5px,#06faf9 118.5px,#00aeff 120.5px,#0082ff 121.5px,#0036ff 122.5px,#0000d9 123.5px,#0000b2 124.5px,#0000b2 130.5px,#0001cb 131.5px,#0070ff 132.5px,#009bff 133.5px,#00f4ff 136.5px,#12ffed 137.5px,#73ff8c 140.5px,#b5ff4a 142.5px,#cdff32 143.5px,#dbff24 144.5px,#dcff23 145.5px,#d2ff2d 146.5px,#bdff42 147.5px,#7dff82 149.5px,#0efef1 152.5px,#00e7ff 153.5px,#0086ff 156.5px,#005aff 158.5px,#0036ff 161.5px,#0029ff 165.5px,#002aff 167px)"></i><i style="top:16px;background:linear-gradient(90deg,#b40000 0px,#b90000 57.5px,#d20000 69.5px,#ff0400 83.5px,#ff1300 90.5px,#fa0000 101.5px,#f40100 108.5px,#ff2e00 109.5px,#ff7300 110.5px,#fdf502 113.5px,#d7ff28 114.5px,#0dfdf2 118.5px,#00deff 119.5px,#008cff 121.5px,#04f 122.5px,#0003e3 123.5px,#0000b2 124.5px,#0000b2 130.5px,#0000c4 131.5px,#0062ff 132.5px,#0092ff 133.5px,#02f6fd 136.5px,#1fffe0 137.5px,#c3ff3c 141.5px,#e5ff1a 142.5px,#f9f806 143.5px,#ffed00 144.5px,#ffeb00 145.5px,#fcf303 146.5px,#effd10 147.5px,#aeff51 149.5px,#2bffd4 152.5px,#05f8fa 153.5px,#00b1ff 155.5px,#0080ff 157.5px,#0057ff 160.5px,#003fff 163.5px,#003bff 167px)"></i><i style="top:17px;background:linear-gradient(90deg,#b40000 0px,#ba0000 58.5px,#d40000 70.5px,#ff0300 83.5px,#ff1300 90.5px,#fa0000 101.5px,#f10000 108.5px,#fd1800 109.5px,#ff6000 110.5px,#ff9400 111.5px,#ffeb00 113.5px,#e4ff1b 114.5px,#16ffe9 118.5px,#00e6ff 119.5px,#0094ff 121.5px,#0052ff 122.5px,#0008f1 123.5px,#0000b2 124.5px,#0000b2 130.5px,#0000ba 131.5px,#0054ff 132.5px,#008aff 133.5px,#04f7fb 136.5px,#2bffd4 137.5px,#c2ff3d 140.5px,#edfe12 141.5px,#feea01 142.5px,#ffcd00 143.5px,#ffb900 144.5px,#ffb600 145.5px,#ffc200 146.5px,#fbf504 148.5px,#dfff20 149.5px,#81ff7e 151.5px,#18ffe7 153.5px,#00e7ff 154.5px,#00c1ff 155.5px,#0093ff 157.5px,#005aff 162.5px,#004cff 165.5px,#004cff 167px)"></i><i style="top:18px;background:linear-gradient(90deg,#b40000 0px,#b90000 58.5px,#d40000 70.5px,#ff0200 83.5px,#ff1300 90.5px,#fb0000 101.5px,#f10000 108.5px,#f90800 109.5px,#ff8700 111.5px,#ffdf00 113.5px,#f0fe0f 114.5px,#21ffde 118.5px,#00efff 119.5px,#009bff 121.5px,#0061ff 122.5px,#000ff7 123.5px,#0000b2 124.5px,#0000b2 131.5px,#04f 132.5px,#0083ff 133.5px,#00d1ff 135.5px,#06f9f9 136.5px,#37ffc8 137.5px,#e1ff1e 140.5px,#feec01 141.5px,#ffa400 143.5px,#ff8e00 144.5px,#ff8900 145.5px,#ff9500 146.5px,#ffac00 147.5px,#fdf002 149.5px,#dfff20 150.5px,#37ffc8 153.5px,#08f9f7 154.5px,#00bcff 156.5px,#009aff 158.5px,#06f 163.5px,#005eff 167px)"></i><i style="top:19px;background:linear-gradient(90deg,#b40000 0px,#b90000 58.5px,#d30000 70.5px,#ff0200 83.5px,#ff1300 90.5px,#ff0400 98.5px,#f10000 108.5px,#f40100 109.5px,#ff3000 110.5px,#f70 111.5px,#ffd200 113.5px,#f9fa06 114.5px,#96ff69 116.5px,#2dffd2 118.5px,#03f5fc 119.5px,#00a3ff 121.5px,#006dff 122.5px,#0018fc 123.5px,#0000bf 124.5px,#0000b2 125.5px,#0000b2 131.5px,#0036fb 132.5px,#007eff 133.5px,#00d3ff 135.5px,#0bfcf4 136.5px,#7eff81 138.5px,#f3fc0c 140.5px,#ffd600 141.5px,#ffab00 142.5px,#f80 143.5px,#ff7100 144.5px,#ff6a00 145.5px,#ff7300 146.5px,#ff8700 147.5px,#ffa500 148.5px,#fbf404 150.5px,#d0ff2f 151.5px,#26ffd9 154.5px,#03f5fc 155.5px,#00bfff 157.5px,#0089ff 161.5px,#0072ff 164.5px,#0070ff 167px)"></i><i style="top:20px;background:linear-gradient(90deg,#b40000 0px,#b90000 58.5px,#d20000 70.5px,#ff0500 84.5px,#ff1300 91.5px,#fb0000 101.5px,#f10000 109.5px,#fd1900 110.5px,#ff6300 111.5px,#ff9800 112.5px,#fef201 114.5px,#d9ff26 115.5px,#08fbf7 119.5px,#0af 121.5px,#007aff 122.5px,#0024ff 123.5px,#0000c3 124.5px,#0000b2 125.5px,#0000b2 131.5px,#002df4 132.5px,#007aff 133.5px,#00d7ff 135.5px,#10fdef 136.5px,#c7ff38 139.5px,#faf705 140.5px,#ff9a00 142.5px,#f70 143.5px,#ff5f00 144.5px,#f50 145.5px,#ff5900 146.5px,#ff6a00 147.5px,#ff8500 148.5px,#ffa800 149.5px,#ffd400 150.5px,#f2fb0d 151.5px,#4effb1 154.5px,#1effe1 155.5px,#02f4fd 156.5px,#00c1ff 158.5px,#09f 161.5px,#0084ff 164.5px,#0082ff 167px)"></i><i style="top:21px;background:linear-gradient(90deg,#b40000 0px,#ba0000 59.5px,#d50000 71.5px,#ff0400 84.5px,#ff1300 91.5px,#fa0000 102.5px,#f10000 109.5px,#f90900 110.5px,#ff8b00 112.5px,#ffe600 114.5px,#e7ff18 115.5px,#0ffef0 119.5px,#00deff 120.5px,#0084ff 122.5px,#0032ff 123.5px,#0000d0 124.5px,#0000b2 125.5px,#0000b2 131.5px,#0024e9 132.5px,#07f 133.5px,#00d9ff 135.5px,#13ffec 136.5px,#cdff32 139.5px,#fcf203 140.5px,#ff9100 142.5px,#ff6c00 143.5px,#ff5300 144.5px,#ff4600 145.5px,#ff4600 146.5px,#ff5200 147.5px,#ff6900 148.5px,#ff8a00 149.5px,#ffe300 151.5px,#e6fe19 152.5px,#43ffbc 155.5px,#16ffe9 156.5px,#00efff 157.5px,#00c1ff 159.5px,#00a1ff 162.5px,#0094ff 165.5px,#0094ff 167px)"></i><i style="top:22px;background:linear-gradient(90deg,#b40000 0px,#ba0000 59.5px,#d40000 71.5px,#ff0300 84.5px,#ff1300 91.5px,#fa0000 102.5px,#f40100 110.5px,#ff3200 111.5px,#ff7b00 112.5px,#ffd900 114.5px,#f3fd0c 115.5px,#1affe5 119.5px,#00e7ff 120.5px,#008eff 122.5px,#0041ff 123.5px,#0001dc 124.5px,#0000b2 125.5px,#0000b2 131.5px,#0018e5 132.5px,#0073ff 133.5px,#00d9ff 135.5px,#14ffeb 136.5px,#d1ff2e 139.5px,#fdef02 140.5px,#ff8c00 142.5px,#f60 143.5px,#ff4b00 144.5px,#ff3b00 145.5px,#ff3800 146.5px,#ff3f00 147.5px,#ff5200 148.5px,#ff6e00 149.5px,#ffbf00 151.5px,#fdee02 152.5px,#d8ff27 153.5px,#35ffca 156.5px,#0afdf5 157.5px,#00e7ff 158.5px,#00c5ff 160.5px,#0af 164.5px,#00a8ff 167px)"></i><i style="top:23px;background:linear-gradient(90deg,#b50000 0px,#ba0000 59.5px,#d40000 71.5px,#ff0200 84.5px,#ff1300 91.5px,#fa0000 102.5px,#f10000 110.5px,#fd1a00 111.5px,#ff6700 112.5px,#fc0 114.5px,#fbf704 115.5px,#cdff32 116.5px,#26ffd9 119.5px,#01effe 120.5px,#0096ff 122.5px,#0051ff 123.5px,#0006e6 124.5px,#0000b2 125.5px,#0000b2 131.5px,#0010df 132.5px,#006eff 133.5px,#00d7ff 135.5px,#14ffeb 136.5px,#d2ff2d 139.5px,#feee01 140.5px,#ff8900 142.5px,#ff6200 143.5px,#ff4500 144.5px,#f30 145.5px,#ff2b00 146.5px,#ff2f00 147.5px,#ff3d00 148.5px,#f50 149.5px,#ff9e00 151.5px,#f9f706 153.5px,#caff35 154.5px,#54ffab 156.5px,#21ffde 157.5px,#03f9fc 158.5px,#00d9ff 160.5px,#00bfff 164.5px,#00bdff 167px)"></i><i style="top:24px;background:linear-gradient(90deg,#b50000 0px,#ba0000 59.5px,#d30000 71.5px,#ff0200 84.5px,#ff1300 91.5px,#ff0400 99.5px,#f10000 110.5px,#f90900 111.5px,#ff8f00 113.5px,#ffed00 115.5px,#dcff23 116.5px,#32ffcd 119.5px,#04f6fb 120.5px,#009eff 122.5px,#0060ff 123.5px,#000bf4 124.5px,#0000b2 125.5px,#0000b2 131.5px,#0009d9 132.5px,#0069ff 133.5px,#00d3ff 135.5px,#12feed 136.5px,#d2ff2d 139.5px,#feed01 140.5px,#ff8600 142.5px,#ff5e00 143.5px,#ff4000 144.5px,#ff2b00 145.5px,#ff2100 146.5px,#ff2100 147.5px,#ff2b00 148.5px,#ff3f00 149.5px,#ff8000 151.5px,#ffd700 153.5px,#f0fc0f 154.5px,#3effc1 157.5px,#16ffe9 158.5px,#04fbfb 159.5px,#00d6ff 164.5px,#00d5ff 167px)"></i><i style="top:25px;background:linear-gradient(90deg,#b50000 0px,#ba0000 59.5px,#d20000 71.5px,#ff0500 85.5px,#ff1300 92.5px,#fb0000 102.5px,#f10000 110.5px,#f40100 111.5px,#ff3500 112.5px,#ff7f00 113.5px,#ffe000 115.5px,#ebff14 116.5px,#0afbf5 120.5px,#00d5ff 121.5px,#00a7ff 122.5px,#006eff 123.5px,#0015f9 124.5px,#0000b6 125.5px,#0000b2 131.5px,#0003cc 132.5px,#0061ff 133.5px,#00cfff 135.5px,#10fcef 136.5px,#d3ff2c 139.5px,#ffec00 140.5px,#ff8300 142.5px,#ff5a00 143.5px,#ff3b00 144.5px,#ff2400 145.5px,#ff1800 146.5px,#ff1500 147.5px,#ff1c00 148.5px,#ff2d00 149.5px,#f60 151.5px,#ffb700 153.5px,#fee801 154.5px,#daff25 155.5px,#65ff9a 157.5px,#3cffc3 158.5px,#23ffdc 159.5px,#09fef6 161.5px,#00efff 164.5px,#00f0ff 167px)"></i><i style="top:26px;background:linear-gradient(90deg,#b50000 0px,#ba0000 60.5px,#d50000 72.5px,#ff0400 85.5px,#ff1300 92.5px,#fa0000 103.5px,#f10000 111.5px,#fd1b00 112.5px,#ff6b00 113.5px,#ffd200 115.5px,#f6fb09 116.5px,#13feec 120.5px,#00deff 121.5px,#007bff 123.5px,#001ffe 124.5px,#0000c0 125.5px,#0000b2 126.5px,#0000b2 131.5px,#0000c9 132.5px,#0056ff 133.5px,#00caff 135.5px,#0dfbf2 136.5px,#d5ff2a 139.5px,#ffe900 140.5px,#ff7e00 142.5px,#f50 143.5px,#ff3500 144.5px,#ff1e00 145.5px,#ff1000 146.5px,#ff0c00 147.5px,#ff1000 148.5px,#ff1e00 149.5px,#ff5100 151.5px,#ff9b00 153.5px,#f7f808 155.5px,#95ff6a 157.5px,#6cff93 158.5px,#4effb1 159.5px,#28ffd7 161.5px,#0ffff0 163.5px,#0afff5 165.5px,#0ffff0 167px)"></i><i style="top:27px;background:linear-gradient(90deg,#b50000 0px,#ba0000 60.5px,#d40000 72.5px,#ff0300 85.5px,#ff1300 92.5px,#fa0000 103.5px,#f10000 111.5px,#f90900 112.5px,#ff5300 113.5px,#ff9300 114.5px,#fcf303 116.5px,#d0ff2f 117.5px,#1fffe0 120.5px,#00e7ff 121.5px,#0086ff 123.5px,#002eff 124.5px,#0000c5 125.5px,#0000b2 126.5px,#0000b2 131.5px,#0000c3 132.5px,#004cff 133.5px,#00c4ff 135.5px,#0af9f5 136.5px,#49ffb6 137.5px,#d8ff27 139.5px,#ffe500 140.5px,#fa0 141.5px,#ff7800 142.5px,#ff4f00 143.5px,#ff2e00 144.5px,#ff1700 145.5px,#ff0800 146.5px,#ff0300 147.5px,#ff0600 148.5px,#ff2400 150.5px,#ff5d00 152.5px,#ffab00 154.5px,#ffd900 155.5px,#f1fc0e 156.5px,#9fff60 158.5px,#63ff9c 160.5px,#39ffc6 162.5px,#26ffd9 164.5px,#30ffcf 167px)"></i><i style="top:28px;background:linear-gradient(90deg,#b50000 0px,#ba0000 60.5px,#d40000 72.5px,#ff0200 85.5px,#ff1300 92.5px,#fa0000 103.5px,#f10000 111.5px,#f40100 112.5px,#ff3700 113.5px,#ff8300 114.5px,#ffe800 116.5px,#dfff20 117.5px,#2cffd3 120.5px,#01f0fe 121.5px,#0091ff 123.5px,#003eff 124.5px,#0000d6 125.5px,#0000b2 126.5px,#0000b2 131.5px,#0000ba 132.5px,#0041ff 133.5px,#0086ff 134.5px,#07f7f8 136.5px,#46ffb9 137.5px,#dcff23 139.5px,#ffdf00 140.5px,#ffa400 141.5px,#ff7200 142.5px,#ff4900 143.5px,#ff2800 144.5px,#ff1000 145.5px,#fe0200 146.5px,#fb0000 148.5px,#ff0600 149.5px,#ff2c00 151.5px,#ff6700 153.5px,#ffdb00 156.5px,#f5fa0a 157.5px,#75ff8a 161.5px,#4bffb4 163.5px,#4fb 164.5px,#53ffac 167px)"></i><i style="top:29px;background:linear-gradient(90deg,#b50000 0px,#ba0000 60.5px,#d30000 72.5px,#ff0200 85.5px,#ff1300 92.5px,#ff0400 100.5px,#f00000 112.5px,#fd1c00 113.5px,#ff6d00 114.5px,#ffd900 116.5px,#eefe11 117.5px,#3affc5 120.5px,#06f7f9 121.5px,#009aff 123.5px,#0051ff 124.5px,#0004de 125.5px,#0000b2 126.5px,#0000b2 132.5px,#0033fd 133.5px,#0082ff 134.5px,#05f3fa 136.5px,#43ffbc 137.5px,#e1ff1e 139.5px,#ffd900 140.5px,#ff9e00 141.5px,#ff6d00 142.5px,#ff4300 143.5px,#ff2300 144.5px,#ff0a00 145.5px,#fa0000 146.5px,#f20000 148.5px,#f90000 149.5px,#ff0800 150.5px,#ff4c00 153.5px,#ffad00 156.5px,#fcf203 158.5px,#e5fe1a 159.5px,#84ff7b 162.5px,#6dff92 163.5px,#65ff9a 164.5px,#6bff94 165.5px,#79ff86 167px)"></i><i style="top:30px;background:linear-gradient(90deg,#b50000 0px,#b00 61.5px,#d60000 73.5px,#ff0500 86.5px,#ff1300 93.5px,#fb0000 103.5px,#f00000 112.5px,#f70700 113.5px,#ff9300 115.5px,#faf605 117.5px,#c8ff37 118.5px,#10fdef 121.5px,#00d8ff 122.5px,#00a6ff 123.5px,#0067ff 124.5px,#000cf2 125.5px,#0000b2 126.5px,#0000b2 132.5px,#001cea 133.5px,#0081ff 134.5px,#05f2fa 136.5px,#42ffbd 137.5px,#e4ff1b 139.5px,#ffd500 140.5px,#ff9a00 141.5px,#ff6800 142.5px,#ff3f00 143.5px,#ff1e00 144.5px,#fe0500 145.5px,#f00000 147.5px,#f10000 149.5px,#f90000 150.5px,#ff0b00 151.5px,#ff4900 154.5px,#ff9f00 157.5px,#ffe200 159.5px,#f3fb0c 160.5px,#b0ff4f 162.5px,#97ff68 163.5px,#8cff73 164.5px,#91ff6e 165.5px,#a1ff5e 167px)"></i><i style="top:31px;background:linear-gradient(90deg,#b50000 0px,#b00 61.5px,#d50000 73.5px,#ff0400 86.5px,#ff1300 93.5px,#fa0000 104.5px,#f10000 113.5px,#ff2b00 114.5px,#ff7c00 115.5px,#ffe800 117.5px,#df2 118.5px,#20ffdf 121.5px,#00e6ff 122.5px,#007bff 124.5px,#001bfb 125.5px,#0000b6 126.5px,#0000b2 132.5px,#0009d7 133.5px,#007aff 134.5px,#06f5f9 136.5px,#46ffb9 137.5px,#e4ff1b 139.5px,#ffd400 140.5px,#ff9800 141.5px,#f60 142.5px,#ff3b00 143.5px,#ff1a00 144.5px,#fd0300 145.5px,#f10000 146.5px,#f00000 150.5px,#ff0800 152.5px,#ff3f00 155.5px,#ff8b00 158.5px,#fbf404 161.5px,#e2ff1d 162.5px,#c7ff38 163.5px,#baff45 164.5px,#bf4 165.5px,#c9ff36 167px)"></i><i style="top:32px;background:linear-gradient(90deg,#b50000 0px,#b00 61.5px,#d40000 73.5px,#ff0300 86.5px,#ff1300 93.5px,#fa0000 104.5px,#f00000 113.5px,#f90e00 114.5px,#ff6000 115.5px,#ff9f00 116.5px,#ffd500 117.5px,#f0fd0f 118.5px,#3fc 121.5px,#03f2fc 122.5px,#008cff 124.5px,#0030ff 125.5px,#0000c4 126.5px,#0000b2 127.5px,#0000b2 132.5px,#0000c5 133.5px,#005fff 134.5px,#00bfff 135.5px,#08f8f7 136.5px,#4affb5 137.5px,#e4ff1b 139.5px,#ffd400 140.5px,#ff9800 141.5px,#ff6400 142.5px,#ff3900 143.5px,#ff1700 144.5px,#fa0100 145.5px,#f00000 146.5px,#f50000 152.5px,#ff0f00 154.5px,#ff4100 157.5px,#ff7800 159.5px,#fee901 162.5px,#f5fc0a 163.5px,#e8ff17 164.5px,#e5ff1a 165.5px,#efff10 167px)"></i><i style="top:33px;background:linear-gradient(90deg,#b50000 0px,#ba0000 61.5px,#d40000 73.5px,#ff0200 86.5px,#ff1300 93.5px,#fa0000 104.5px,#f00000 113.5px,#f30100 114.5px,#ff3c00 115.5px,#ff8a00 116.5px,#fbf404 118.5px,#c8ff37 119.5px,#0bfaf4 122.5px,#00ceff 123.5px,#009aff 124.5px,#004aff 125.5px,#0001d8 126.5px,#0000b2 127.5px,#0000b2 133.5px,#003afc 134.5px,#00b2ff 135.5px,#0af8f5 136.5px,#4cffb3 137.5px,#e5ff1a 139.5px,#ffd400 140.5px,#ff9800 141.5px,#ff6400 142.5px,#ff3800 143.5px,#ff1400 144.5px,#f80000 145.5px,#f00000 146.5px,#f10000 153.5px,#fd0400 155.5px,#ff1a00 157.5px,#ff2c00 158.5px,#ff4800 159.5px,#ffba00 162.5px,#ffd800 163.5px,#ffeb00 164.5px,#fff200 165.5px,#ffea00 167px)"></i><i style="top:34px;background:linear-gradient(90deg,#b60000 0px,#ba0000 61.5px,#d30000 73.5px,#ff0200 86.5px,#ff1300 93.5px,#ff0400 101.5px,#f00000 114.5px,#fc1900 115.5px,#ff7000 116.5px,#ffe400 118.5px,#deff21 119.5px,#19ffe6 122.5px,#0df 123.5px,#00a8ff 124.5px,#0063ff 125.5px,#0008e5 126.5px,#0000b2 127.5px,#0000b2 133.5px,#001be9 134.5px,#009cff 135.5px,#07edf8 136.5px,#4cffb3 137.5px,#e4ff1b 139.5px,#ffd600 140.5px,#ff6500 142.5px,#ff3800 143.5px,#ff1300 144.5px,#f60000 145.5px,#f00000 147.5px,#f10000 155.5px,#fb0200 157.5px,#ff0b00 158.5px,#ff2300 159.5px,#ff9200 162.5px,#ffaf00 163.5px,#ffc300 164.5px,#ffcd00 165.5px,#ffc800 167px)"></i><i style="top:35px;background:linear-gradient(90deg,#b60000 0px,#b00 62.5px,#d50000 74.5px,#ff0500 87.5px,#ff1300 94.5px,#fb0000 104.5px,#f00000 114.5px,#f60500 115.5px,#ff4e00 116.5px,#ff9700 117.5px,#ffd000 118.5px,#f1fc0e 119.5px,#2cffd3 122.5px,#01ebfe 123.5px,#0079ff 125.5px,#0015f7 126.5px,#0000b2 127.5px,#0000b2 133.5px,#0008d6 134.5px,#0080ff 135.5px,#00dcff 136.5px,#40ffbf 137.5px,#97ff68 138.5px,#e0ff1f 139.5px,#ffda00 140.5px,#ff6700 142.5px,#ff3800 143.5px,#ff1200 144.5px,#f50000 145.5px,#f00000 148.5px,#f10000 157.5px,#f90000 158.5px,#ff1000 159.5px,#ff8b00 163.5px,#ff9e00 164.5px,#ffa700 165.5px,#ffa300 167px)"></i><i style="top:36px;background:linear-gradient(90deg,#b60000 0px,#b00 62.5px,#d50000 74.5px,#ff0400 87.5px,#ff1300 94.5px,#fc0000 104.5px,#f00000 115.5px,#fe2800 116.5px,#ff7f00 117.5px,#fcf103 119.5px,#c9ff36 120.5px,#40ffbf 122.5px,#06f6f9 123.5px,#008bff 125.5px,#0028fe 126.5px,#0000bc 127.5px,#0000b2 128.5px,#0000b2 133.5px,#0000c4 134.5px,#005dff 135.5px,#00c7ff 136.5px,#26fed9 137.5px,#8dff72 138.5px,#daff25 139.5px,#ffe000 140.5px,#ff6900 142.5px,#ff3900 143.5px,#f10 144.5px,#f40000 145.5px,#f00000 155.5px,#f00000 157.5px,#f70000 158.5px,#ff0900 159.5px,#ff6c00 163.5px,#ff7c00 164.5px,#ff8400 165.5px,#ff8100 167px)"></i><i style="top:37px;background:linear-gradient(90deg,#b60000 0px,#b00 62.5px,#d40000 74.5px,#ff0300 87.5px,#ff1300 94.5px,#fa0000 105.5px,#f00000 115.5px,#f80c00 116.5px,#ff6100 117.5px,#ffa500 118.5px,#ffdf00 119.5px,#e0ff1f 120.5px,#12fded 123.5px,#00d3ff 124.5px,#009bff 125.5px,#0043ff 126.5px,#0000cb 127.5px,#0000b2 128.5px,#0000b2 134.5px,#0038fb 135.5px,#00b1ff 136.5px,#13f8ec 137.5px,#d4ff2b 139.5px,#ffe500 140.5px,#ff6b00 142.5px,#ff3900 143.5px,#ff1000 144.5px,#f30000 145.5px,#f30000 157.5px,#ff0800 159.5px,#ff5300 163.5px,#f60 165.5px,#ff6500 167px)"></i><i style="top:38px;background:linear-gradient(90deg,#b60000 0px,#b00 62.5px,#d40000 74.5px,#ff0200 87.5px,#ff1300 94.5px,#fa0000 105.5px,#f00000 115.5px,#f20000 116.5px,#ff3a00 117.5px,#ff8e00 118.5px,#ffca00 119.5px,#f3fa0c 120.5px,#24ffdb 123.5px,#00e2ff 124.5px,#00a9ff 125.5px,#005eff 126.5px,#0005dd 127.5px,#0000b2 128.5px,#0000b2 134.5px,#0019e9 135.5px,#009bff 136.5px,#06ecf9 137.5px,#5affa5 138.5px,#c3ff3c 139.5px,#ffe800 140.5px,#ff6a00 142.5px,#ff3600 143.5px,#ff0d00 144.5px,#f20000 145.5px,#f20000 155.5px,#ff0200 158.5px,#ff2400 161.5px,#ff4900 164.5px,#ff4d00 167px)"></i><i style="top:39px;background:linear-gradient(90deg,#b60000 0px,#bc0000 63.5px,#d60000 75.5px,#ff0200 87.5px,#ff1300 94.5px,#fb0000 105.5px,#f00000 116.5px,#fb1600 117.5px,#ff7200 118.5px,#fdee02 120.5px,#c9ff36 121.5px,#39ffc6 123.5px,#03f0fc 124.5px,#00b8ff 125.5px,#0076ff 126.5px,#000fee 127.5px,#0000b2 128.5px,#0000b2 134.5px,#0007d6 135.5px,#007eff 136.5px,#00dbff 137.5px,#3fffc0 138.5px,#a9ff56 139.5px,#faeb05 140.5px,#ffa500 141.5px,#ff6800 142.5px,#f30 143.5px,#fe0a00 144.5px,#f10000 145.5px,#f20000 154.5px,#ff0300 156.5px,#ff1500 160.5px,#ff3800 164.5px,#ff3a00 167px)"></i><i style="top:40px;background:linear-gradient(90deg,#b60000 0px,#b00 63.5px,#d50000 75.5px,#ff0500 88.5px,#ff1300 95.5px,#fb0000 105.5px,#f00000 116.5px,#f40300 117.5px,#ff4e00 118.5px,#ff9c00 119.5px,#ffda00 120.5px,#e2ff1d 121.5px,#4fffb0 123.5px,#0cf9f3 124.5px,#00c7ff 125.5px,#008aff 126.5px,#0022fb 127.5px,#0000b6 128.5px,#0000b2 134.5px,#0000c3 135.5px,#005aff 136.5px,#00c6ff 137.5px,#25feda 138.5px,#8eff71 139.5px,#eef711 140.5px,#ffad00 141.5px,#ff6400 142.5px,#ff2f00 143.5px,#fe0900 144.5px,#f10000 145.5px,#f00000 153.5px,#ff0200 155.5px,#ff1a00 161.5px,#ff2c00 165.5px,#ff2b00 167px)"></i><i style="top:41px;background:linear-gradient(90deg,#b60000 0px,#b00 63.5px,#d50000 75.5px,#ff0400 88.5px,#ff1300 95.5px,#fc0000 105.5px,#f00000 117.5px,#fd2500 118.5px,#ff8300 119.5px,#ffc300 120.5px,#f4f90b 121.5px,#6f9 123.5px,#1bfee4 124.5px,#00d7ff 125.5px,#009bff 126.5px,#003bff 127.5px,#0000c3 128.5px,#0000b2 129.5px,#0000b2 135.5px,#0036fb 136.5px,#00b0ff 137.5px,#12f8ed 138.5px,#73ff8c 139.5px,#dcfe23 140.5px,#ffc300 141.5px,#ff6800 142.5px,#ff2c00 143.5px,#fe0800 144.5px,#f00000 145.5px,#f00000 153.5px,#ff0300 155.5px,#ff2000 165.5px,#ff1f00 167px)"></i><i style="top:42px;background:linear-gradient(90deg,#b60000 0px,#b00 63.5px,#d40000 75.5px,#ff0300 88.5px,#ff1300 95.5px,#fa0000 106.5px,#f00000 117.5px,#f70a00 118.5px,#ff6200 119.5px,#ffac00 120.5px,#feeb01 121.5px,#caff35 122.5px,#31ffce 124.5px,#01e8fe 125.5px,#00abff 126.5px,#0058ff 127.5px,#0001d4 128.5px,#0000b2 129.5px,#0000b2 135.5px,#0018e8 136.5px,#09f 137.5px,#06ebf9 138.5px,#58ffa7 139.5px,#c2ff3d 140.5px,#ffda00 141.5px,#ff7c00 142.5px,#ff2800 143.5px,#fd0600 144.5px,#f00000 145.5px,#f00000 153.5px,#ff0200 155.5px,#ff1400 162.5px,#ff1500 167px)"></i><i style="top:43px;background:linear-gradient(90deg,#b60000 0px,#b00 63.5px,#d30000 75.5px,#ff0200 88.5px,#ff1300 95.5px,#fa0000 106.5px,#f10000 118.5px,#fd2d00 119.5px,#ff8b00 120.5px,#ffce00 121.5px,#e9fc16 122.5px,#4fffb0 124.5px,#0bf7f4 125.5px,#00c0ff 126.5px,#0079ff 127.5px,#000fe8 128.5px,#0000b2 129.5px,#0000b2 135.5px,#0005d1 136.5px,#007aff 137.5px,#00daff 138.5px,#3effc1 139.5px,#a9ff56 140.5px,#fae905 141.5px,#ff9300 142.5px,#ff2700 143.5px,#fc0300 144.5px,#f00000 145.5px,#f00000 153.5px,#ff0400 156.5px,#ff0f00 164.5px,#ff0d00 167px)"></i><i style="top:44px;background:linear-gradient(90deg,#b60000 0px,#bc0000 64.5px,#d60000 76.5px,#ff0200 88.5px,#ff1300 95.5px,#fb0000 106.5px,#f00000 118.5px,#f40500 119.5px,#ff5400 120.5px,#ffa700 121.5px,#fde902 122.5px,#c7ff38 123.5px,#26ffd9 125.5px,#00dbff 126.5px,#009aff 127.5px,#0031fd 128.5px,#00b 129.5px,#0000b2 130.5px,#0000b2 135.5px,#0000bc 136.5px,#0050ff 137.5px,#00c3ff 138.5px,#25feda 139.5px,#92ff6d 140.5px,#f2f40d 141.5px,#ffa300 142.5px,#ff2e00 143.5px,#f90100 144.5px,#f00000 145.5px,#f00000 153.5px,#ff0500 157.5px,#ff0800 165.5px,#ff0600 167px)"></i><i style="top:45px;background:linear-gradient(90deg,#b60000 0px,#bc0000 64.5px,#d50000 76.5px,#ff0100 88.5px,#ff1300 95.5px,#ff0500 103.5px,#f00000 117.5px,#f00000 119.5px,#fa1700 120.5px,#ff7a00 121.5px,#ffc400 122.5px,#edfb12 123.5px,#4cffb3 125.5px,#08f3f7 126.5px,#00b6ff 127.5px,#0061ff 128.5px,#0003d4 129.5px,#0000b2 130.5px,#0000b2 136.5px,#0028f1 137.5px,#00abff 138.5px,#12f7ed 139.5px,#79ff86 140.5px,#e4fb1b 141.5px,#ffb300 142.5px,#ff3d00 143.5px,#f40000 144.5px,#f00000 153.5px,#ff0200 157.5px,#ff0500 164.5px,#ff0100 167px)"></i><i style="top:46px;background:linear-gradient(90deg,#b70000 0px,#bc0000 64.5px,#d50000 76.5px,#ff0400 89.5px,#ff1300 96.5px,#fc0000 106.5px,#f00000 118.5px,#f10000 120.5px,#fe3a00 121.5px,#ff9a00 122.5px,#fee201 123.5px,#cf3 124.5px,#21fede 126.5px,#00d2ff 127.5px,#008aff 128.5px,#0018ef 129.5px,#0000b2 130.5px,#0000b2 136.5px,#000cd9 137.5px,#008eff 138.5px,#06eaf9 139.5px,#60ff9f 140.5px,#d3ff2c 141.5px,#ffc400 142.5px,#ff5300 143.5px,#f10000 144.5px,#f10000 154.5px,#ff0100 158.5px,#fc0000 167px)"></i><i style="top:47px;background:linear-gradient(90deg,#b70000 0px,#b00 64.5px,#d40000 76.5px,#ff0300 89.5px,#ff1300 96.5px,#fa0000 107.5px,#f00000 120.5px,#f60800 121.5px,#ff6400 122.5px,#ffb900 123.5px,#f1f70e 124.5px,#a2ff5d 125.5px,#49ffb6 126.5px,#05eefa 127.5px,#0af 128.5px,#0042ff 129.5px,#0000be 130.5px,#0000b2 131.5px,#0000b2 136.5px,#0000c4 137.5px,#06f 138.5px,#00d7ff 139.5px,#45ffba 140.5px,#bf4 141.5px,#ffd600 142.5px,#ff6900 143.5px,#f40100 144.5px,#f10000 154.5px,#fe0000 160.5px,#f90000 167px)"></i><i style="top:48px;background:linear-gradient(90deg,#b70000 0px,#bc0000 65.5px,#d70000 77.5px,#ff0200 89.5px,#ff1300 96.5px,#fa0000 107.5px,#f00000 120.5px,#f00000 121.5px,#fb2000 122.5px,#ff8a00 123.5px,#ffd900 124.5px,#d1ff2e 125.5px,#1cfde3 127.5px,#00c8ff 128.5px,#0073ff 129.5px,#0007d8 130.5px,#0000b2 131.5px,#0000b2 137.5px,#003af9 138.5px,#00bdff 139.5px,#29fed6 140.5px,#a1ff5e 141.5px,#fbe504 142.5px,#ff7e00 143.5px,#f50800 144.5px,#f00000 145.5px,#f30000 155.5px,#fa0000 163.5px,#f60000 167px)"></i><i style="top:49px;background:linear-gradient(90deg,#b70000 0px,#bc0000 65.5px,#d60000 77.5px,#ff0200 89.5px,#ff1300 96.5px,#fb0000 107.5px,#f00000 120.5px,#f10100 122.5px,#ff4800 123.5px,#ffac00 124.5px,#f5f30a 125.5px,#a4ff5b 126.5px,#45ffba 127.5px,#03e7fc 128.5px,#009cff 129.5px,#0024f2 130.5px,#0000b2 131.5px,#0000b2 137.5px,#0016e1 138.5px,#00a2ff 139.5px,#15f6ea 140.5px,#87ff78 141.5px,#f2f10d 142.5px,#ff9300 143.5px,#f71100 144.5px,#f00000 145.5px,#f40000 156.5px,#f60000 165.5px,#f40000 167px)"></i><i style="top:50px;background:linear-gradient(90deg,#b70000 0px,#bc0000 65.5px,#d50000 77.5px,#ff0100 89.5px,#ff1300 96.5px,#ff0400 104.5px,#f00000 118.5px,#f00000 122.5px,#f70c00 123.5px,#ff7500 124.5px,#ffce00 125.5px,#d6fe29 126.5px,#17fbe8 128.5px,#00bdff 129.5px,#05f 130.5px,#0000c4 131.5px,#0000b2 132.5px,#0000b2 137.5px,#0002c9 138.5px,#007dff 139.5px,#07e8f8 140.5px,#6bff94 141.5px,#e3f91c 142.5px,#ffa600 143.5px,#fa2000 144.5px,#f00000 145.5px,#f20000 167px)"></i><i style="top:51px;background:linear-gradient(90deg,#b70000 0px,#bc0000 65.5px,#d50000 77.5px,#ff0400 90.5px,#ff1300 97.5px,#fc0000 107.5px,#f00000 119.5px,#f00000 123.5px,#fc2b00 124.5px,#ff9c00 125.5px,#f8ed07 126.5px,#a7ff58 127.5px,#40ffbf 128.5px,#01defe 129.5px,#08f 130.5px,#000ddf 131.5px,#0000b2 132.5px,#0000b5 138.5px,#004dfd 139.5px,#00d3ff 140.5px,#4dffb2 141.5px,#cfff30 142.5px,#ffb900 143.5px,#fb3300 144.5px,#f00000 145.5px,#f00000 167px)"></i><i style="top:52px;background:linear-gradient(90deg,#b70000 0px,#bc0000 65.5px,#d40000 77.5px,#ff0300 90.5px,#ff1300 97.5px,#fa0000 108.5px,#f00000 122.5px,#f20300 124.5px,#ff5900 125.5px,#ffc100 126.5px,#dcfd23 127.5px,#73ff8c 128.5px,#12f7ed 129.5px,#00afff 130.5px,#0034f9 131.5px,#0000b2 132.5px,#0000b2 138.5px,#0024e9 139.5px,#00b6ff 140.5px,#2ffed0 141.5px,#b4ff4b 142.5px,#ffcd00 143.5px,#ff4700 144.5px,#f00000 145.5px,#f00000 167px)"></i><i style="top:53px;background:linear-gradient(90deg,#b70000 0px,#bd0000 66.5px,#d60000 78.5px,#ff0300 90.5px,#ff1300 97.5px,#fa0000 108.5px,#f00000 121.5px,#f00000 124.5px,#f81300 125.5px,#f80 126.5px,#fbe504 127.5px,#abff54 128.5px,#3bffc4 129.5px,#00d4ff 130.5px,#006bff 131.5px,#0001c7 132.5px,#0000b2 133.5px,#0000b2 138.5px,#0008d1 139.5px,#0094ff 140.5px,#18f6e7 141.5px,#97ff68 142.5px,#fbdf04 143.5px,#ff6100 144.5px,#f00000 145.5px,#f00000 167px)"></i><i style="top:54px;background:linear-gradient(90deg,#b70000 0px,#bc0000 66.5px,#d60000 78.5px,#ff0200 90.5px,#ff1300 97.5px,#fb0000 108.5px,#f00000 121.5px,#f00000 125.5px,#fd3900 126.5px,#ffb200 127.5px,#e1fa1e 128.5px,#72ff8d 129.5px,#0ef2f1 130.5px,#009eff 131.5px,#0017e2 132.5px,#0000b2 133.5px,#0000b2 138.5px,#0000b8 139.5px,#0065ff 140.5px,#08e5f7 141.5px,#78ff87 142.5px,#f2ee0d 143.5px,#ff7a00 144.5px,#f40100 145.5px,#f00000 167px)"></i><i style="top:55px;background:linear-gradient(90deg,#b70000 0px,#bc0000 66.5px,#d50000 78.5px,#ff0100 90.5px,#ff1400 97.5px,#ff0400 105.5px,#f00000 119.5px,#f00000 125.5px,#f30500 126.5px,#ff6d00 127.5px,#fddb02 128.5px,#afff50 129.5px,#36fec9 130.5px,#00c7ff 131.5px,#0047fc 132.5px,#0000b6 133.5px,#0000b2 139.5px,#0037f0 140.5px,#00ceff 141.5px,#57ffa8 142.5px,#e1f71e 143.5px,#ff9300 144.5px,#f50a00 145.5px,#f00000 146.5px,#f00000 167px)"></i><i style="top:56px;background:linear-gradient(90deg,#b70000 0px,#bc0000 66.5px,#d50000 78.5px,#ff0500 91.5px,#ff1400 98.5px,#fc0000 108.5px,#f00000 120.5px,#f00000 126.5px,#f81d00 127.5px,#ff9f00 128.5px,#e6f719 129.5px,#71ff8e 130.5px,#0aebf5 131.5px,#0084ff 132.5px,#0005ce 133.5px,#0000b2 134.5px,#0000b2 139.5px,#0012d8 140.5px,#00adff 141.5px,#35feca 142.5px,#cbfe34 143.5px,#ffab00 144.5px,#f71500 145.5px,#f00000 146.5px,#f00000 167px)"></i><i style="top:57px;background:linear-gradient(90deg,#b80000 0px,#bd0000 67.5px,#d70000 79.5px,#ff0400 91.5px,#ff1400 98.5px,#fa0000 109.5px,#f00000 123.5px,#f00000 127.5px,#fd4000 128.5px,#fec401 129.5px,#bdfe42 130.5px,#3afdc5 131.5px,#00bfff 132.5px,#002ff0 133.5px,#0000b2 134.5px,#0000b2 139.5px,#0000c1 140.5px,#0080ff 141.5px,#1af4e5 142.5px,#af5 143.5px,#ffc400 144.5px,#fa2b00 145.5px,#f00000 146.5px,#f00000 167px)"></i><i style="top:58px;background:linear-gradient(90deg,#b80000 0px,#bd0000 67.5px,#d60000 79.5px,#ff0400 91.5px,#ff1500 98.5px,#fa0000 109.5px,#f00000 122.5px,#f10200 128.5px,#fd6000 129.5px,#f8de07 130.5px,#91ff6e 131.5px,#14f0eb 132.5px,#0084ff 133.5px,#0004c8 134.5px,#0000b2 135.5px,#0000b2 140.5px,#004af7 141.5px,#08e1f7 142.5px,#84ff7b 143.5px,#fadb05 144.5px,#fc4400 145.5px,#f00000 146.5px,#f00000 167px)"></i><i style="top:59px;background:linear-gradient(90deg,#b80000 0px,#bd0000 67.5px,#d60000 79.5px,#ff0400 91.5px,#ff1600 98.5px,#fb0000 109.5px,#f00000 122.5px,#f00000 128.5px,#f40800 129.5px,#ff8100 130.5px,#e5f11a 131.5px,#5effa1 132.5px,#03cefc 133.5px,#0035ed 134.5px,#0000b2 135.5px,#0000b2 140.5px,#001ee0 141.5px,#00c4ff 142.5px,#5cffa3 143.5px,#ecee13 144.5px,#f60 145.5px,#f00000 146.5px,#f00000 167px)"></i><i style="top:60px;background:linear-gradient(90deg,#b80000 0px,#bd0000 67.5px,#d50000 79.5px,#ff0500 91.5px,#ff1700 97.5px,#ff0b00 104.5px,#f90000 110.5px,#f00000 125.5px,#f00000 129.5px,#f51500 130.5px,#ffa500 131.5px,#c2fc3d 132.5px,#2bf9d4 133.5px,#0092ff 134.5px,#0005c3 135.5px,#0000b2 136.5px,#0000b2 140.5px,#0003c8 141.5px,#0098ff 142.5px,#35fcca 143.5px,#d5f92a 144.5px,#ff8900 145.5px,#f30100 146.5px,#f00000 167px)"></i><i style="top:61px;background:linear-gradient(90deg,#b80000 0px,#bd0000 67.5px,#d50000 79.5px,#ff0100 90.5px,#ff1800 97.5px,#ff0c00 104.5px,#f90000 110.5px,#f00000 124.5px,#f00000 130.5px,#fa2a00 131.5px,#fbc804 132.5px,#8fff70 133.5px,#0adef5 134.5px,#003ced 135.5px,#0000b2 136.5px,#0000b2 141.5px,#005ffd 142.5px,#18f0e7 143.5px,#b4ff4b 144.5px,#ffab00 145.5px,#f50e00 146.5px,#f00000 147.5px,#f00000 167px)"></i><i style="top:62px;background:linear-gradient(90deg,#b80000 0px,#bd0000 68.5px,#d70000 80.5px,#ff0200 90.5px,#ff1900 96.5px,#ff1300 102.5px,#fc0000 109.5px,#f00000 121.5px,#f00000 131.5px,#fb4900 132.5px,#ebe414 133.5px,#52fdad 134.5px,#00a2ff 135.5px,#0006c3 136.5px,#0000b2 137.5px,#0000b2 141.5px,#002ee4 142.5px,#06d8f9 143.5px,#8aff75 144.5px,#fec901 145.5px,#f92000 146.5px,#f00000 147.5px,#f00000 167px)"></i><i style="top:63px;background:linear-gradient(90deg,#b80000 0px,#bd0000 68.5px,#d70000 80.5px,#ff0300 90.5px,#ff1c00 96.5px,#ff1500 102.5px,#fd0000 109.5px,#f00000 120.5px,#f10100 132.5px,#fd7100 133.5px,#c7f638 134.5px,#1eebe1 135.5px,#0045ee 136.5px,#0000b2 137.5px,#0000b2 141.5px,#000acf 142.5px,#00b3ff 143.5px,#5effa1 144.5px,#f3e00c 145.5px,#fa3d00 146.5px,#f00000 147.5px,#f00000 167px)"></i><i style="top:64px;background:linear-gradient(90deg,#b80000 0px,#bd0000 68.5px,#d60000 80.5px,#fe0000 89.5px,#ff1f00 96.5px,#ff1600 102.5px,#fd0000 109.5px,#f00000 120.5px,#f00000 132.5px,#f30a00 133.5px,#fda902 134.5px,#89ff76 135.5px,#04b9fb 136.5px,#000dc9 137.5px,#0000b2 138.5px,#0000b4 142.5px,#0067fa 143.5px,#28f5d7 144.5px,#d1f82e 145.5px,#ff7200 146.5px,#f00000 147.5px,#f00000 167px)"></i><i style="top:65px;background:linear-gradient(90deg,#b80000 0px,#bd0000 68.5px,#d50000 80.5px,#fe0100 89.5px,#ff2000 95.5px,#ff1e00 100.5px,#fe0000 109.5px,#f00000 120.5px,#f00000 133.5px,#f82e00 134.5px,#eadd15 135.5px,#41f8be 136.5px,#0069f6 137.5px,#0000b2 138.5px,#0000b2 142.5px,#0019d9 143.5px,#04cafb 144.5px,#87ff78 145.5px,#fdbf02 146.5px,#f61400 147.5px,#f00000 148.5px,#f00000 167px)"></i><i style="top:66px;background:linear-gradient(90deg,#b80000 0px,#be0000 69.5px,#d80000 81.5px,#ff0200 89.5px,#ff2300 95.5px,#ff2000 100.5px,#fc0000 110.5px,#f00000 122.5px,#f00000 134.5px,#fd6b00 135.5px,#bbf844 136.5px,#12dbed 137.5px,#0024da 138.5px,#0000b2 139.5px,#0000b7 143.5px,#0072fb 144.5px,#37f9c8 145.5px,#e1ed1e 146.5px,#fc4f00 147.5px,#f00000 148.5px,#f00000 167px)"></i><i style="top:67px;background:linear-gradient(90deg,#b80000 0px,#be0000 69.5px,#d80000 81.5px,#ff0200 89.5px,#ff2500 95.5px,#f20 100.5px,#fc0000 110.5px,#f00000 122.5px,#f00000 134.5px,#f30b00 135.5px,#fbb104 136.5px,#73fe8c 137.5px,#0199fe 138.5px,#0003bb 139.5px,#0000b2 140.5px,#0000b2 143.5px,#001fda 144.5px,#09d3f6 145.5px,#9fff60 146.5px,#ffa000 147.5px,#f30400 148.5px,#f00000 158.5px,#f00000 167px)"></i><i style="top:68px;background:linear-gradient(90deg,#b80000 0px,#bd0000 69.5px,#d40000 80.5px,#ff0300 89.5px,#ff2700 95.5px,#ff2300 100.5px,#fd0000 110.5px,#f00000 121.5px,#f00000 135.5px,#f83100 136.5px,#e2e31d 137.5px,#2ff0d0 138.5px,#0046eb 139.5px,#0000b2 140.5px,#0000b2 143.5px,#0000b8 144.5px,#007dfd 145.5px,#48fcb7 146.5px,#efde10 147.5px,#f82f00 148.5px,#f00000 149.5px,#f00000 167px)"></i><i style="top:69px;background:linear-gradient(90deg,#b90000 0px,#bd0000 69.5px,#d30000 80.5px,#f30000 87.5px,#ff0300 89.5px,#ff2700 95.5px,#ff2400 100.5px,#fd0000 110.5px,#f00000 121.5px,#f00000 136.5px,#fd7200 137.5px,#aafa55 138.5px,#0ac4f5 139.5px,#000fc9 140.5px,#0000b2 141.5px,#0000b2 144.5px,#0025db 145.5px,#0fdcf0 146.5px,#b7fc48 147.5px,#ff7900 148.5px,#f00000 149.5px,#f00000 167px)"></i><i style="top:70px;background:linear-gradient(90deg,#b90000 0px,#bd0000 69.5px,#d20000 80.5px,#f30000 87.5px,#ff0200 89.5px,#ff2700 95.5px,#ff2400 100.5px,#fe0000 110.5px,#f00000 121.5px,#f00000 136.5px,#f30c00 137.5px,#f8b907 138.5px,#5dfba2 139.5px,#0073f6 140.5px,#0000b2 141.5px,#0000b2 144.5px,#0000b9 145.5px,#0089fe 146.5px,#5dfda2 147.5px,#f8ca07 148.5px,#f61400 149.5px,#f00000 150.5px,#f00000 167px)"></i><i style="top:71px;background:linear-gradient(90deg,#b90000 0px,#be0000 70.5px,#d50000 81.5px,#fe0100 89.5px,#ff2500 95.5px,#ff2300 100.5px,#fe0000 110.5px,#f00000 121.5px,#f00000 137.5px,#f83000 138.5px,#dce423 139.5px,#27e7d8 140.5px,#0031e0 141.5px,#0000b2 142.5px,#0000b2 145.5px,#002adc 146.5px,#18e1e7 147.5px,#caf635 148.5px,#fc5500 149.5px,#f00000 150.5px,#f00000 167px)"></i><i style="top:72px;background:linear-gradient(90deg,#b90000 0px,#be0000 70.5px,#d40000 81.5px,#fd0000 89.5px,#f20 95.5px,#ff2100 100.5px,#fc0000 111.5px,#f00000 123.5px,#f00000 138.5px,#fc6300 139.5px,#b0f84f 140.5px,#0bc1f4 141.5px,#000fca 142.5px,#0000b2 143.5px,#0000b2 145.5px,#0000b9 146.5px,#008dfd 147.5px,#6cfe93 148.5px,#fcb303 149.5px,#f30700 150.5px,#f00000 152.5px,#f00000 167px)"></i><i style="top:73px;background:linear-gradient(90deg,#b90000 0px,#be0000 70.5px,#d40000 81.5px,#ff0300 90.5px,#ff2100 96.5px,#ff1b00 102.5px,#fd0000 111.5px,#f00000 123.5px,#f00000 138.5px,#f10600 139.5px,#fb9c04 140.5px,#77fd88 141.5px,#018af5 142.5px,#00b 143.5px,#0000b2 144.5px,#0000b2 146.5px,#0029db 147.5px,#1ce3e3 148.5px,#d5ed2a 149.5px,#f93c00 150.5px,#f00000 151.5px,#f00000 167px)"></i><i style="top:74px;background:linear-gradient(90deg,#b90000 0px,#be0000 70.5px,#d30000 81.5px,#fe0100 90.5px,#ff1c00 96.5px,#ff1a00 102.5px,#fd0000 111.5px,#f00000 122.5px,#f00000 139.5px,#f51900 140.5px,#edce12 141.5px,#3ff2c0 142.5px,#004ce9 143.5px,#0000b2 144.5px,#0000b8 147.5px,#008cfc 148.5px,#76fe89 149.5px,#fda002 150.5px,#f10300 151.5px,#f00000 167px)"></i><i style="top:75px;background:linear-gradient(90deg,#b90000 0px,#be0000 71.5px,#d60000 82.5px,#ff0200 91.5px,#ff1a00 97.5px,#ff1400 104.5px,#fb0000 112.5px,#f00000 125.5px,#f00000 140.5px,#fa4100 141.5px,#cced33 142.5px,#18d9e7 143.5px,#001ed2 144.5px,#0000b2 145.5px,#0000b2 147.5px,#0025d9 148.5px,#1de2e2 149.5px,#d5eb2a 150.5px,#f83800 151.5px,#f00000 152.5px,#f00000 167px)"></i><i style="top:76px;background:linear-gradient(90deg,#b90000 0px,#be0000 71.5px,#d50000 82.5px,#ff0400 92.5px,#ff1800 98.5px,#f10 105.5px,#fb0000 112.5px,#f00000 124.5px,#f00000 141.5px,#fd7900 142.5px,#98fb67 143.5px,#06a7f9 144.5px,#0007bf 145.5px,#0000b2 146.5px,#0000b7 148.5px,#0086fb 149.5px,#72fe8d 150.5px,#fda102 151.5px,#f10300 152.5px,#f00000 167px)"></i><i style="top:77px;background:linear-gradient(90deg,#b90000 0px,#be0000 71.5px,#d70000 83.5px,#ff0500 93.5px,#ff1700 100.5px,#ff0900 108.5px,#fa0000 113.5px,#f00000 127.5px,#f00000 141.5px,#f30a00 142.5px,#f8b207 143.5px,#5dfaa2 144.5px,#006bf4 145.5px,#0000b2 146.5px,#0000b2 148.5px,#0021d8 149.5px,#1be0e4 150.5px,#d4ec2b 151.5px,#f83900 152.5px,#f00000 153.5px,#f00000 167px)"></i><i style="top:78px;background:linear-gradient(90deg,#b90000 0px,#be0000 71.5px,#d70000 83.5px,#ff0200 93.5px,#ff1500 100.5px,#ff0c00 107.5px,#fa0000 113.5px,#f00000 126.5px,#f00000 142.5px,#f51e00 143.5px,#e8cb17 144.5px,#3fedc0 145.5px,#0046e6 146.5px,#0000b2 147.5px,#0000b2 149.5px,#0062f0 150.5px,#53f7ac 151.5px,#f4bc0b 152.5px,#f50f00 153.5px,#f00000 154.5px,#f00000 167px)"></i><i style="top:79px;background:linear-gradient(90deg,#b90000 0px,#be0000 71.5px,#d60000 83.5px,#ff0300 94.5px,#ff1500 101.5px,#ff0700 109.5px,#f50000 116.5px,#f00000 143.5px,#f52600 144.5px,#e0d91f 145.5px,#30e7cf 146.5px,#0035e4 147.5px,#0000b2 148.5px,#0000b2 149.5px,#0001bb 150.5px,#038bf4 151.5px,#7cfb83 152.5px,#fa9404 153.5px,#f10500 154.5px,#f00000 159.5px,#f00000 167px)"></i><i style="top:80px;background:linear-gradient(90deg,#ba0000 0px,#bf0000 72.5px,#d80000 84.5px,#ff0400 95.5px,#ff1400 102.5px,#fb0000 113.5px,#f00000 126.5px,#f00000 144.5px,#f93000 145.5px,#d7e328 146.5px,#23dfdc 147.5px,#002ad6 148.5px,#0000b2 149.5px,#0000b2 150.5px,#000bc3 151.5px,#09b2f6 152.5px,#a5f95a 153.5px,#fd6a00 154.5px,#f00000 155.5px,#f00000 167px)"></i><i style="top:81px;background:linear-gradient(90deg,#ba0000 0px,#bf0000 72.5px,#d80000 84.5px,#ff0200 95.5px,#ff1400 102.5px,#ff0500 110.5px,#f00000 123.5px,#f00000 145.5px,#fa3f00 146.5px,#c9e936 147.5px,#1bd1e4 148.5px,#001fcc 149.5px,#0000b2 150.5px,#0000b2 151.5px,#001ccc 152.5px,#18d2e7 153.5px,#c8ec37 154.5px,#fa4200 155.5px,#f00000 156.5px,#f00000 167px)"></i><i style="top:82px;background:linear-gradient(90deg,#ba0000 0px,#bf0000 72.5px,#d70000 84.5px,#ff0500 96.5px,#ff1400 103.5px,#fc0000 113.5px,#f00000 125.5px,#f00000 146.5px,#fa4e00 147.5px,#baef45 148.5px,#14c2eb 149.5px,#0014cc 150.5px,#0000b2 151.5px,#0000b2 152.5px,#0036e3 153.5px,#30e9cf 154.5px,#e4d91b 155.5px,#f52200 156.5px,#f00000 157.5px,#f00000 167px)"></i><i style="top:83px;background:linear-gradient(90deg,#ba0000 0px,#be0000 72.5px,#d60000 84.5px,#ff0300 96.5px,#ff1300 103.5px,#fa0000 114.5px,#f00000 128.5px,#f00000 147.5px,#fa5e00 148.5px,#abf554 149.5px,#0cb4f2 150.5px,#000dc7 151.5px,#0000b2 152.5px,#0000b2 153.5px,#005ceb 154.5px,#52f6ad 155.5px,#f4b90b 156.5px,#f30d00 157.5px,#f00000 158.5px,#f00000 167px)"></i><i style="top:84px;background:linear-gradient(90deg,#ba0000 0px,#bf0000 73.5px,#d90000 85.5px,#ff0200 96.5px,#ff1300 103.5px,#fa0000 114.5px,#f00000 127.5px,#f00000 148.5px,#fd6e00 149.5px,#9af865 150.5px,#08a3f3 151.5px,#0009bb 152.5px,#0000b2 153.5px,#00b 154.5px,#0285f4 155.5px,#7bfa84 156.5px,#fa9003 157.5px,#f10400 158.5px,#f00000 167px)"></i><i style="top:85px;background:linear-gradient(90deg,#ba0000 0px,#bf0000 73.5px,#d80000 85.5px,#ff0100 96.5px,#ff1300 103.5px,#ff0400 111.5px,#f00000 125.5px,#f10400 149.5px,#fba004 150.5px,#68fc97 151.5px,#006ff5 152.5px,#0000b2 153.5px,#0000b2 154.5px,#000cc4 155.5px,#0cc4f3 156.5px,#bbf544 157.5px,#fb4d00 158.5px,#f00000 159.5px,#f00000 167px)"></i><i style="top:86px;background:linear-gradient(90deg,#ba0000 0px,#bf0000 73.5px,#d70000 85.5px,#ff0400 97.5px,#ff1300 104.5px,#fb0000 114.5px,#f00000 126.5px,#f00000 149.5px,#f72600 150.5px,#dde222 151.5px,#22e2dd 152.5px,#0022d4 153.5px,#0000b2 154.5px,#0000b2 155.5px,#0045e3 156.5px,#3ef3c1 157.5px,#f1ca0e 158.5px,#f31100 159.5px,#f00000 160.5px,#f00000 167px)"></i><i style="top:87px;background:linear-gradient(90deg,#ba0000 0px,#bf0000 73.5px,#d70000 85.5px,#ff0300 97.5px,#ff1300 104.5px,#fc0000 114.5px,#f00000 126.5px,#f00000 150.5px,#fd6f00 151.5px,#97fb68 152.5px,#049ef9 153.5px,#0001bb 154.5px,#0000b2 155.5px,#0001bb 156.5px,#039dfa 157.5px,#94fc6b 158.5px,#fd7400 159.5px,#f00000 160.5px,#f00000 167px)"></i><i style="top:88px;background:linear-gradient(90deg,#ba0000 0px,#bf0000 73.5px,#d60000 85.5px,#ff0300 97.5px,#ff1300 104.5px,#fa0000 115.5px,#f00000 129.5px,#f00000 150.5px,#f30d00 151.5px,#f3c20c 152.5px,#42f4bd 153.5px,#0046e4 154.5px,#0000b2 155.5px,#0000b2 156.5px,#0022d4 157.5px,#22e2dd 158.5px,#dee221 159.5px,#f72600 160.5px,#f00000 161.5px,#f00000 167px)"></i><i style="top:89px;background:linear-gradient(90deg,#ba0000 0px,#c00000 74.5px,#d90000 86.5px,#ff0200 97.5px,#ff1300 104.5px,#fa0000 115.5px,#f00000 128.5px,#f00000 151.5px,#f94100 152.5px,#c2f23d 153.5px,#0ec7f1 154.5px,#000dc4 155.5px,#0000b2 156.5px,#0000b2 157.5px,#0070f5 158.5px,#6bfc94 159.5px,#fc9b03 160.5px,#f10300 161.5px,#f00000 167px)"></i><i style="top:90px;background:linear-gradient(90deg,#ba0000 0px,#bf0000 74.5px,#d80000 86.5px,#ff0100 97.5px,#ff1300 104.5px,#ff0400 112.5px,#f00000 126.5px,#f10200 152.5px,#fb9503 153.5px,#6ffc90 154.5px,#0071f5 155.5px,#0000b2 156.5px,#0000b2 157.5px,#000dc4 158.5px,#0ec7f1 159.5px,#c2f23d 160.5px,#f94200 161.5px,#f00000 162.5px,#f00000 167px)"></i><i style="top:91px;background:linear-gradient(90deg,#ba0000 0px,#bf0000 74.5px,#d70000 86.5px,#ff0400 98.5px,#ff1300 105.5px,#fb0000 115.5px,#f00000 127.5px,#f00000 152.5px,#f71e00 153.5px,#e1dc1e 154.5px,#25e4da 155.5px,#0023d4 156.5px,#0000b2 157.5px,#0000b2 158.5px,#0046e4 159.5px,#44f4bb 160.5px,#f4c00b 161.5px,#f30b00 162.5px,#f00000 163.5px,#f00000 167px)"></i><i style="top:92px;background:linear-gradient(90deg,#b00 0px,#bf0000 74.5px,#d70000 86.5px,#ff0400 98.5px,#ff1300 105.5px,#fa0000 116.5px,#f00000 130.5px,#f00000 153.5px,#fa5100 154.5px,#b0f44f 155.5px,#0bb2f4 156.5px,#000ac0 157.5px,#0000b2 158.5px,#00b 159.5px,#0388f3 160.5px,#85f97a 161.5px,#fc7e02 162.5px,#f10000 163.5px,#f00000 167px)"></i><i style="top:93px;background:linear-gradient(90deg,#b00 0px,#c00000 75.5px,#d90000 87.5px,#ff0300 98.5px,#ff1400 105.5px,#fa0000 116.5px,#f00000 130.5px,#f00000 154.5px,#fc7901 155.5px,#88f977 156.5px,#0489f3 157.5px,#00b 158.5px,#0000b2 159.5px,#000ac0 160.5px,#0bb2f4 161.5px,#b0f44f 162.5px,#fa5200 163.5px,#f00000 164.5px,#f00000 167px)"></i><i style="top:94px;background:linear-gradient(90deg,#b00 0px,#c00000 75.5px,#d90000 87.5px,#ff0200 98.5px,#ff1400 105.5px,#fb0000 116.5px,#f00000 129.5px,#f00000 154.5px,#f20700 155.5px,#f6a007 156.5px,#60f89f 157.5px,#005fea 158.5px,#0000b2 159.5px,#0000b2 160.5px,#001bcc 161.5px,#1cd5e3 162.5px,#d4e42b 163.5px,#f72b00 164.5px,#f00000 165.5px,#f00000 167px)"></i><i style="top:95px;background:linear-gradient(90deg,#b00 0px,#c00000 75.5px,#d80000 87.5px,#ff0200 98.5px,#ff1400 105.5px,#ff0400 113.5px,#f00000 127.5px,#f00000 155.5px,#f51200 156.5px,#ebc314 157.5px,#3bebc4 158.5px,#0036e2 159.5px,#0000b2 160.5px,#0000b2 161.5px,#0036e2 162.5px,#3aebc5 163.5px,#ebc614 164.5px,#f51200 165.5px,#f00000 167px)"></i><i style="top:96px;background:linear-gradient(90deg,#b00 0px,#c00000 75.5px,#d80000 87.5px,#ff0100 98.5px,#ff1400 105.5px,#ff0500 113.5px,#f20000 122.5px,#f00000 156.5px,#f62600 157.5px,#d7e128 158.5px,#1ed6e1 159.5px,#001bcc 160.5px,#0000b2 161.5px,#0000b2 162.5px,#0060ea 163.5px,#61f89e 164.5px,#f79f06 165.5px,#f20600 167px)"></i><i style="top:97px;background:linear-gradient(90deg,#b00 0px,#c00000 75.5px,#d80000 87.5px,#ff0500 99.5px,#ff1400 106.5px,#fa0000 117.5px,#f00000 131.5px,#f00000 157.5px,#fa4600 158.5px,#b6f049 159.5px,#0db4f2 160.5px,#000ac0 161.5px,#0000b2 162.5px,#00b 163.5px,#048af3 164.5px,#8cf973 165.5px,#fd7100 167px)"></i><i style="top:98px;background:linear-gradient(90deg,#b00 0px,#c00000 75.5px,#d70000 87.5px,#ff0400 99.5px,#ff1500 106.5px,#fb0000 117.5px,#f00000 130.5px,#f00000 158.5px,#fc6d00 159.5px,#8ff870 160.5px,#048bf2 161.5px,#00b 162.5px,#0000b2 163.5px,#000ac0 164.5px,#0cb4f2 165.5px,#b6f049 167px)"></i><i style="top:99px;background:linear-gradient(90deg,#b00 0px,#c00000 75.5px,#d70000 87.5px,#ff0400 99.5px,#ff1500 106.5px,#fb0000 117.5px,#f00000 130.5px,#f20400 159.5px,#f89306 160.5px,#69f896 161.5px,#0065eb 162.5px,#0000b2 163.5px,#0000b2 164.5px,#0021d4 165.5px,#27e3d8 167px)"></i><i style="top:100px;background:linear-gradient(90deg,#b00 0px,#c00000 75.5px,#d70000 87.5px,#ff0400 99.5px,#ff1500 106.5px,#ff0600 114.5px,#f40000 122.5px,#f00000 159.5px,#f20b00 160.5px,#f2b30d 161.5px,#48efb7 162.5px,#003ee4 163.5px,#0000b2 164.5px,#0000b2 165.5px,#0062ee 167px)"></i><i style="top:101px;background:linear-gradient(90deg,#b00 0px,#c00000 75.5px,#d70000 87.5px,#ff0400 99.5px,#ff1600 106.5px,#ff0700 114.5px,#f50000 121.5px,#f00000 160.5px,#f51a00 161.5px,#e2d21d 162.5px,#28e0d7 163.5px,#0023d0 164.5px,#0000b2 165.5px,#0006bb 167px)"></i><i style="top:102px;background:linear-gradient(90deg,#b00 0px,#c00000 75.5px,#d70000 87.5px,#ff0400 99.5px,#ff1700 106.5px,#ff0800 114.5px,#f70000 120.5px,#f10000 143.5px,#f00000 161.5px,#f93300 162.5px,#c4ea3b 163.5px,#13beec 164.5px,#000dc6 165.5px,#0000b2 167px)"></i><i style="top:103px;background:linear-gradient(90deg,#bc0000 0px,#c00000 75.5px,#d80000 88.5px,#fe0300 100.5px,#ff1000 107.5px,#f90000 117.5px,#ed0000 129.5px,#ec0000 162.5px,#f85c00 163.5px,#9df862 164.5px,#0694f1 165.5px,#0002bb 167px)"></i><i style="top:104px;background:linear-gradient(90deg,#bc0000 0px,#c10000 76.5px,#dc0000 91.5px,#fe0200 104.5px,#f90000 113.5px,#e60000 125.5px,#e60000 163.5px,#f88604 164.5px,#70f88f 165.5px,#0067ec 167px)"></i><i style="top:105px;background:linear-gradient(90deg,#bc0000 0px,#c10000 77.5px,#df0000 95.5px,#f50000 107.5px,#d00 127.5px,#db0000 163.5px,#e00900 164.5px,#f3b10c 165.5px,#46eeb9 167px)"></i><i style="top:106px;background:linear-gradient(90deg,#bc0000 0px,#c10000 77.5px,#e70000 107.5px,#d40000 129.5px,#d30000 164.5px,#f05700 165.5px,#a2ff5d 167px)"></i><i style="top:107px;background:linear-gradient(90deg,#bc0000 0px,#c20000 78.5px,#da0000 108.5px,#cb0000 132.5px,#cb0000 164.5px,#ed5400 165.5px,#a3fe5c 167px)"></i><i style="top:108px;background:linear-gradient(90deg,#bc0000 0px,#c20000 78.5px,#cd0000 108.5px,#c40000 139.5px,#c20000 164.5px,#eb5300 165.5px,#a3fe5c 167px)"></i><i style="top:109px;background:linear-gradient(90deg,#bc0000 0px,#c20000 78.5px,#c90000 106.5px,#c00000 143.5px,#bf0000 164.5px,#eb5300 165.5px,#a3fe5c 167px)"></i><i style="top:110px;background:linear-gradient(90deg,#bc0000 0px,#c20000 76.5px,#cb0000 104.5px,#c10000 139.5px,#bf0000 167px)"></i><i style="top:111px;background:linear-gradient(90deg,#bc0000 0px,#c20000 75.5px,#ce0000 102.5px,#c10000 137.5px,#bf0000 167px)"></i><i style="top:112px;background:linear-gradient(90deg,#bc0000 0px,#c20000 73.5px,#d10000 101.5px,#c20000 136.5px,#c00000 167px)"></i><i style="top:113px;background:linear-gradient(90deg,#bc0000 0px,#c20000 72.5px,#d30000 100.5px,#c30000 135.5px,#c00000 167px)"></i><i style="top:114px;background:linear-gradient(90deg,#bd0000 0px,#c20000 72.5px,#d50000 100.5px,#c40000 134.5px,#c10000 167px)"></i><i style="top:115px;background:linear-gradient(90deg,#bd0000 0px,#c20000 71.5px,#d80000 99.5px,#c40000 133.5px,#c10000 167px)"></i><i style="top:116px;background:linear-gradient(90deg,#bd0000 0px,#c20000 70.5px,#da0000 99.5px,#c50000 132.5px,#c30000 163.5px,#c20000 167px)"></i><i style="top:117px;background:linear-gradient(90deg,#bd0000 0px,#c30000 70.5px,#dc0000 98.5px,#c60000 132.5px,#c50000 161.5px,#c30000 167px)"></i><i style="top:118px;background:linear-gradient(90deg,#bd0000 0px,#c20000 69.5px,#de0000 98.5px,#c70000 131.5px,#c70000 160.5px,#c30000 167px)"></i><i style="top:119px;background:linear-gradient(90deg,#bd0000 0px,#c30000 69.5px,#df0000 97.5px,#c80000 131.5px,#c80000 159.5px,#c40000 167px)"></i><i style="top:120px;background:linear-gradient(90deg,#bd0000 0px,#c30000 69.5px,#e00000 97.5px,#c80000 131.5px,#ca0000 158.5px,#c40000 167px)"></i><i style="top:121px;background:linear-gradient(90deg,#bd0000 0px,#c20000 68.5px,#e10000 97.5px,#c90000 130.5px,#cb0000 157.5px,#c50000 167px)"></i><i style="top:122px;background:linear-gradient(90deg,#bd0000 0px,#c20000 68.5px,#e20000 97.5px,#c90000 130.5px,#cd0000 156.5px,#c60000 167px)"></i><i style="top:123px;background:linear-gradient(90deg,#bd0000 0px,#c30000 68.5px,#e20000 96.5px,#cf0000 118.5px,#c00 136.5px,#cd0000 157.5px,#c60000 167px)"></i><i style="top:124px;background:linear-gradient(90deg,#bd0000 0px,#c30000 68.5px,#e20000 96.5px,#ca0000 130.5px,#cf0000 155.5px,#c60000 167px)"></i><i style="top:125px;background:linear-gradient(90deg,#bd0000 0px,#c30000 69.5px,#e10000 96.5px,#ca0000 130.5px,#cf0000 155.5px,#c70000 167px)"></i><i style="top:126px;background:linear-gradient(90deg,#be0000 0px,#c30000 69.5px,#e10000 96.5px,#ca0000 130.5px,#d00000 155.5px,#c70000 167px)"></i><i style="top:127px;background:linear-gradient(90deg,#be0000 0px,#c30000 69.5px,#e00000 95.5px,#ca0000 130.5px,#d00000 155.5px,#c70000 167px)"></i><i style="top:128px;background:linear-gradient(90deg,#be0000 0px,#c30000 69.5px,#df0000 95.5px,#ca0000 130.5px,#d10000 154.5px,#c70000 167px)"></i><i style="top:129px;background:linear-gradient(90deg,#be0000 0px,#c30000 70.5px,#d00 95.5px,#ca0000 129.5px,#d10000 154.5px,#c70000 167px)"></i><i style="top:130px;background:linear-gradient(90deg,#be0000 0px,#c30000 70.5px,#dc0000 94.5px,#ca0000 130.5px,#d00000 154.5px,#c70000 167px)"></i><i style="top:131px;background:linear-gradient(90deg,#be0000 0px,#c30000 71.5px,#da0000 94.5px,#cd0000 122.5px,#ce0000 138.5px,#cd0000 158.5px,#c70000 167px)"></i><i style="top:132px;background:linear-gradient(90deg,#be0000 0px,#c40000 72.5px,#d90000 94.5px,#da0000 114.5px,#cb0000 135.5px,#ce0000 156.5px,#c70000 167px)"></i><i style="top:133px;background:linear-gradient(90deg,#be0000 0px,#c30000 72.5px,#e50000 108.5px,#cd0000 138.5px,#c00 159.5px,#c60000 167px)"></i><i style="top:134px;background:linear-gradient(90deg,#be0000 0px,#c40000 73.5px,#e30000 99.5px,#ec0000 111.5px,#d50000 132.5px,#ce0000 143.5px,#c60000 167px)"></i><i style="top:135px;background:linear-gradient(90deg,#be0000 0px,#c40000 74.5px,#de0000 94.5px,#f50000 109.5px,#da0000 131.5px,#ce0000 144.5px,#c60000 167px)"></i><i style="top:136px;background:linear-gradient(90deg,#be0000 0px,#c40000 74.5px,#dc0000 92.5px,#fd0100 107.5px,#f60000 117.5px,#e00000 129.5px,#d40000 139.5px,#cd0000 147.5px,#c50000 167px)"></i><i style="top:137px;background:linear-gradient(90deg,#bf0000 0px,#c40000 75.5px,#db0000 91.5px,#ff0300 104.5px,#ff0900 112.5px,#f70000 120.5px,#e40000 130.5px,#d80000 139.5px,#c00 148.5px,#c50000 167px)"></i><i style="top:138px;background:linear-gradient(90deg,#bf0000 0px,#c40000 75.5px,#d90000 90.5px,#ff0200 101.5px,#ff1500 110.5px,#ff0400 119.5px,#e90000 131.5px,#cb0000 149.5px,#c40000 167px)"></i><i style="top:139px;background:linear-gradient(90deg,#bf0000 0px,#c40000 75.5px,#d70000 89.5px,#ff0100 99.5px,#ff2000 108.5px,#ff1b00 115.5px,#fa0000 124.5px,#ca0000 152.5px,#c40000 167px)"></i><i style="top:140px;background:linear-gradient(90deg,#bf0000 0px,#c40000 76.5px,#d80000 89.5px,#ff0200 98.5px,#ff2a00 107.5px,#ff2d00 113.5px,#fb0000 126.5px,#c80000 154.5px,#c30000 167px)"></i><i style="top:141px;background:linear-gradient(90deg,#bf0000 0px,#c40000 76.5px,#d90000 89.5px,#ff0200 97.5px,#ff3700 107.5px,#ff3b00 113.5px,#ff1c00 121.5px,#fe0100 127.5px,#c70000 156.5px,#c30000 167px)"></i><i style="top:142px;background:linear-gradient(90deg,#bf0000 0px,#c40000 76.5px,#d60000 88.5px,#fe0100 96.5px,#ff4100 106.5px,#ff4c00 111.5px,#ff3d00 117.5px,#ff0400 128.5px,#e10000 145.5px,#c50000 158.5px,#c20000 167px)"></i><i style="top:143px;background:linear-gradient(90deg,#bf0000 0px,#c40000 76.5px,#d70000 88.5px,#ff0400 96.5px,#ff5000 106.5px,#ff5d00 111.5px,#ff4d00 117.5px,#ff0b00 128.5px,#fc0000 135.5px,#c40000 160.5px,#c20000 167px)"></i><i style="top:144px;background:linear-gradient(90deg,#bf0000 0px,#c40000 76.5px,#d70000 88.5px,#fe0100 95.5px,#ff5f00 106.5px,#ff6e00 111.5px,#ff6200 116.5px,#ff1400 128.5px,#fd0000 138.5px,#c30000 161.5px,#c20000 167px)"></i><i style="top:145px;background:linear-gradient(90deg,#bf0000 0px,#c40000 76.5px,#d80000 88.5px,#fc0000 94.5px,#ff2b00 99.5px,#ff6900 105.5px,#ff7e00 109.5px,#ff7c00 114.5px,#ff5b00 120.5px,#ff1d00 128.5px,#ff0300 140.5px,#e00000 151.5px,#c20000 162.5px,#c10000 167px)"></i><i style="top:146px;background:linear-gradient(90deg,#bf0000 0px,#c40000 76.5px,#d90000 88.5px,#fe0100 94.5px,#f30 99.5px,#ff7a00 105.5px,#ff9200 109.5px,#ff9000 114.5px,#ff6d00 120.5px,#ff2900 128.5px,#f10 137.5px,#fc0000 145.5px,#c20000 162.5px,#c10000 167px)"></i><i style="top:147px;background:linear-gradient(90deg,#bf0000 0px,#c40000 76.5px,#d90000 88.5px,#ff0400 94.5px,#ff3c00 99.5px,#ff8c00 105.5px,#ffa600 109.5px,#ffa500 114.5px,#ff8900 119.5px,#ff3600 128.5px,#ff1e00 136.5px,#fd0100 147.5px,#c20000 163.5px,#c00000 167px)"></i><i style="top:148px;background:linear-gradient(90deg,#bf0000 0px,#c30000 75.5px,#da0000 88.5px,#fe0100 93.5px,#ff3700 98.5px,#ff9300 104.5px,#ffb700 108.5px,#ffbf00 112.5px,#ffad00 117.5px,#ff7800 123.5px,#ff4600 128.5px,#ff2a00 136.5px,#ff0800 147.5px,#f50000 151.5px,#c00000 165.5px,#c00000 167px)"></i><i style="top:149px;background:linear-gradient(90deg,#bf0000 0px,#c30000 75.5px,#db0000 88.5px,#ff0400 93.5px,#ff4000 98.5px,#ffa600 104.5px,#ffc600 107.5px,#ffd600 111.5px,#ffca00 116.5px,#ffa400 121.5px,#ff5900 128.5px,#ff3a00 135.5px,#ff1700 146.5px,#fd0100 151.5px,#c00000 165.5px,#c00000 167px)"></i><i style="top:150px;background:linear-gradient(90deg,#bf0000 0px,#c30000 75.5px,#dc0000 88.5px,#fc0000 92.5px,#ff2d00 96.5px,#ff7000 100.5px,#ffba00 104.5px,#fd0 107.5px,#ffed00 111.5px,#ffe300 116.5px,#ffbd00 121.5px,#ff6800 129.5px,#ff4600 136.5px,#f20 146.5px,#fc0000 153.5px,#c00000 167px)"></i><i style="top:151px;background:linear-gradient(90deg,#bf0000 0px,#c30000 75.5px,#d00 88.5px,#fe0200 92.5px,#ff4500 97.5px,#ffcf00 104.5px,#fff300 107.5px,#f9fe06 111.5px,#fff700 117.5px,#ffcd00 122.5px,#ff7f00 129.5px,#ff5b00 135.5px,#ff2f00 146.5px,#fa0000 155.5px,#c20000 167px)"></i><i style="top:152px;background:linear-gradient(90deg,#bf0000 0px,#c30000 75.5px,#de0000 88.5px,#f90000 91.5px,#ff1200 93.5px,#ff5000 97.5px,#ffe300 104.5px,#fcfc03 106.5px,#e4ff1b 110.5px,#e3ff1c 115.5px,#fcfa03 120.5px,#ffc600 125.5px,#ff8700 131.5px,#ff6200 138.5px,#ff3600 147.5px,#fc0000 156.5px,#c60000 167px)"></i><i style="top:153px;background:linear-gradient(90deg,#bf0000 0px,#c30000 75.5px,#df0000 88.5px,#fc0000 91.5px,#ff2600 94.5px,#ff7000 98.5px,#fff600 104.5px,#eaff15 106.5px,#cdff32 110.5px,#c8ff37 115.5px,#e4ff1b 120.5px,#fdf902 123.5px,#ff9700 132.5px,#ff7000 139.5px,#ff3700 149.5px,#fe0100 157.5px,#ca0000 167px)"></i><i style="top:154px;background:linear-gradient(90deg,#bf0000 0px,#c30000 75.5px,#df0000 88.5px,#fe0200 91.5px,#ff3e00 95.5px,#ff9200 99.5px,#fff300 103.5px,#f6ff09 104.5px,#cf3 107.5px,#b2ff4d 111.5px,#afff50 116.5px,#c5ff3a 120.5px,#f9fd06 125.5px,#ffd100 129.5px,#ffa000 134.5px,#ff5300 147.5px,#fe0200 158.5px,#cf0000 167px)"></i><i style="top:155px;background:linear-gradient(90deg,#bf0000 0px,#c30000 75.5px,#e00000 88.5px,#fe0300 91.5px,#f40 95.5px,#ffb600 100.5px,#fcfc03 103.5px,#c7ff38 106.5px,#a0ff5f 110.5px,#92ff6d 114.5px,#9f6 118.5px,#c2ff3d 123.5px,#fcfa03 128.5px,#ffb900 134.5px,#ff6300 147.5px,#fe0200 159.5px,#d40000 167px)"></i><i style="top:156px;background:linear-gradient(90deg,#bf0000 0px,#c30000 75.5px,#e00000 88.5px,#ff0500 91.5px,#ff4a00 95.5px,#ffc000 100.5px,#fff300 102.5px,#f3ff0c 103.5px,#b8ff47 106.5px,#8bff74 110.5px,#7f8 114.5px,#7bff84 118.5px,#96ff69 122.5px,#f9fd06 130.5px,#ffd300 134.5px,#ff7c00 146.5px,#ff0200 160.5px,#da0000 167px)"></i><i style="top:157px;background:linear-gradient(90deg,#bf0000 0px,#c30000 75.5px,#e00000 88.5px,#f80000 90.5px,#ff0700 91.5px,#ff4f00 95.5px,#fdfb02 102.5px,#abff54 106.5px,#7f8 110.5px,#5dffa2 114.5px,#5cffa3 118.5px,#74ff8b 122.5px,#bdff42 128.5px,#f5fe0a 132.5px,#fff000 134.5px,#ff8f00 146.5px,#ff0a00 160.5px,#fa0000 162.5px,#e00000 167px)"></i><i style="top:158px;background:linear-gradient(90deg,#bf0000 0px,#c20000 74.5px,#e00000 88.5px,#f90000 90.5px,#ff0800 91.5px,#ff5400 95.5px,#ffeb00 101.5px,#f8fe07 102.5px,#9eff61 106.5px,#63ff9c 110.5px,#4fb 114.5px,#3dffc2 118.5px,#52ffad 122.5px,#8bff74 127.5px,#efff10 134.5px,#fff400 137.5px,#ffae00 145.5px,#ff1a00 159.5px,#ff0200 162.5px,#e60000 167px)"></i><i style="top:159px;background:linear-gradient(90deg,#bf0000 0px,#c20000 74.5px,#e10000 88.5px,#f90000 90.5px,#ff1a00 92.5px,#ff6e00 96.5px,#fff200 101.5px,#f1ff0e 102.5px,#92ff6d 106.5px,#51ffae 110.5px,#2bffd4 114.5px,#1fffe0 118.5px,#30ffcf 122.5px,#67ff98 127.5px,#cdff32 134.5px,#fafc05 139.5px,#ffdb00 143.5px,#ff2c00 158.5px,#ff0200 163.5px,#ec0000 167px)"></i><i style="top:160px;background:linear-gradient(90deg,#bf0000 0px,#c20000 74.5px,#e00000 88.5px,#fa0000 90.5px,#ff1b00 92.5px,#ff7100 96.5px,#fef701 101.5px,#cfff30 103.5px,#72ff8d 107.5px,#32ffcd 111.5px,#0cfff3 115.5px,#04fcfb 119.5px,#15ffea 123.5px,#50ffaf 128.5px,#b5ff4a 135.5px,#fafc05 142.5px,#ffde00 145.5px,#ff4b00 156.5px,#ff0a00 163.5px,#f30000 167px)"></i><i style="top:161px;background:linear-gradient(90deg,#bf0000 0px,#c20000 74.5px,#e00000 88.5px,#fa0000 90.5px,#ff1c00 92.5px,#ff7400 96.5px,#fcfb03 101.5px,#6f9 107.5px,#1fffe0 111.5px,#07fff8 113.5px,#00e7ff 117.5px,#00e4ff 120.5px,#07fcf8 125.5px,#38ffc7 129.5px,#9eff61 136.5px,#f7fe08 144.5px,#ffe900 146.5px,#ff6f00 154.5px,#ff2300 161.5px,#ff0300 165.5px,#fa0000 167px)"></i><i style="top:162px;background:linear-gradient(90deg,#bf0000 0px,#c20000 74.5px,#e00000 88.5px,#fa0000 90.5px,#ff1c00 92.5px,#ff7500 96.5px,#ffe500 100.5px,#fafd05 101.5px,#73ff8c 106.5px,#1fffe0 110.5px,#02fcfd 112.5px,#00ceff 117.5px,#00c6ff 120.5px,#00d6ff 124.5px,#01f4fe 127.5px,#12ffed 129.5px,#7bff84 136.5px,#dbff24 144.5px,#f8fe07 146.5px,#ffe200 148.5px,#ff7d00 154.5px,#ff3600 160.5px,#ff0300 167px)"></i><i style="top:163px;background:linear-gradient(90deg,#bf0000 0px,#c20000 74.5px,#df0000 88.5px,#f90000 90.5px,#ff1b00 92.5px,#ff7600 96.5px,#ffe800 100.5px,#f7fe08 101.5px,#69ff96 106.5px,#10ffef 110.5px,#02fbfd 111.5px,#00c8ff 115.5px,#00acff 119.5px,#00aeff 123.5px,#00d0ff 127.5px,#03f8fc 130.5px,#1cffe3 132.5px,#72ff8d 138.5px,#bf4 144.5px,#fcfa03 148.5px,#ff8c00 154.5px,#ff4100 160.5px,#ff0a00 167px)"></i><i style="top:164px;background:linear-gradient(90deg,#bf0000 0px,#c20000 74.5px,#df0000 88.5px,#f80000 90.5px,#ff0900 91.5px,#f40 94.5px,#ffae00 98.5px,#ffeb00 100.5px,#f4ff0b 101.5px,#61ff9e 106.5px,#17ffe8 109.5px,#04fdfb 110.5px,#00b4ff 115.5px,#0093ff 119.5px,#008fff 123.5px,#00a1ff 126.5px,#00d5ff 130.5px,#01f5fe 132.5px,#18ffe7 134.5px,#5bffa4 139.5px,#9aff65 144.5px,#f8fd07 149.5px,#ffd600 151.5px,#ff8f00 155.5px,#ff4100 161.5px,#ff1200 167px)"></i><i style="top:165px;background:linear-gradient(90deg,#bf0000 0px,#c20000 74.5px,#de0000 88.5px,#f70000 90.5px,#ff0800 91.5px,#ff4300 94.5px,#ffaf00 98.5px,#ffed00 100.5px,#f2ff0d 101.5px,#3dffc2 107.5px,#0bfff4 109.5px,#00f4ff 110.5px,#00afff 114.5px,#0084ff 118.5px,#0071ff 122.5px,#0078ff 125.5px,#0094ff 128.5px,#01f4fe 134.5px,#15ffea 136.5px,#76ff89 144.5px,#c4ff3b 148.5px,#f4fe0b 150.5px,#fff000 151.5px,#ffb300 154.5px,#ff5900 160.5px,#ff1b00 167px)"></i><i style="top:166px;background:linear-gradient(90deg,#bf0000 0px,#c20000 74.5px,#de0000 88.5px,#f60000 90.5px,#ff0700 91.5px,#ff4200 94.5px,#ffb000 98.5px,#ffef00 100.5px,#efff10 101.5px,#35ffca 107.5px,#04fcfb 109.5px,#00b0ff 113.5px,#007aff 117.5px,#005bff 121.5px,#0056ff 124.5px,#0067ff 127.5px,#008dff 130.5px,#00f4ff 136.5px,#0cfff3 138.5px,#42ffbd 143.5px,#74ff8b 146.5px,#d4ff2b 150.5px,#efff10 151.5px,#fef401 152.5px,#ff7500 159.5px,#ff3800 164.5px,#ff2400 167px)"></i><i style="top:167px;background:linear-gradient(90deg,#bf0000 0px,#c20000 74.5px,#d00 88.5px,#f50000 90.5px,#ff0600 91.5px,#ff4100 94.5px,#ffb100 98.5px,#fff000 100.5px,#edff12 101.5px,#2effd1 107.5px,#12ffed 108.5px,#00f6ff 109.5px,#00a3ff 113.5px,#006aff 117.5px,#0040ff 122.5px,#003cff 125.5px,#004fff 128.5px,#007cff 131.5px,#00c8ff 135.5px,#00f2ff 139.5px,#0ffff0 142.5px,#3affc5 145.5px,#79ff86 148.5px,#e6ff19 152.5px,#f9fb06 153.5px,#ffbf00 156.5px,#ff7400 160.5px,#ff2d00 167px)"></i><i style="top:168px;background:linear-gradient(90deg,#bf0000 0px,#c30000 75.5px,#dc0000 88.5px,#ff0600 91.5px,#ff4100 94.5px,#ff9300 97.5px,#fff200 100.5px,#ebff14 101.5px,#28ffd7 107.5px,#0bfff4 108.5px,#00efff 109.5px,#00abff 112.5px,#0069ff 116.5px,#03f 121.5px,#0024ff 124.5px,#0028ff 127.5px,#0047ff 130.5px,#009cff 134.5px,#00c0ff 137.5px,#01f1fe 143.5px,#1fe 145.5px,#4fffb0 148.5px,#f0fe0f 154.5px,#fef301 155.5px,#ff9500 159.5px,#ff6400 162.5px,#ff3600 167px)"></i><i style="top:169px;background:linear-gradient(90deg,#bf0000 0px,#c30000 75.5px,#dc0000 88.5px,#ff0600 91.5px,#ff4200 94.5px,#ff9300 97.5px,#fff300 100.5px,#e9ff16 101.5px,#23ffdc 107.5px,#07fef8 108.5px,#00cfff 110.5px,#007cff 114.5px,#0037ff 119.5px,#0014ff 123.5px,#000aff 126.5px,#0018ff 129.5px,#0037ff 131.5px,#0080ff 134.5px,#09f 136.5px,#00beff 142.5px,#02f5fd 146.5px,#0efef1 147.5px,#56ffa9 150.5px,#e9ff16 155.5px,#fdf502 156.5px,#ffa600 159.5px,#ff6f00 162.5px,#ff4000 167px)"></i><i style="top:170px;background:linear-gradient(90deg,#bf0000 0px,#c30000 75.5px,#db0000 88.5px,#ff0600 91.5px,#ff4300 94.5px,#ffb300 98.5px,#fff400 100.5px,#e8ff17 101.5px,#1fffe0 107.5px,#04fcfb 108.5px,#009bff 112.5px,#0053ff 116.5px,#0015ff 121.5px,#0001fb 124.5px,#0000f1 127.5px,#0006fc 130.5px,#0013ff 131.5px,#0064ff 134.5px,#0079ff 136.5px,#0096ff 142.5px,#00bcff 145.5px,#02f5fd 148.5px,#10feef 149.5px,#60ff9f 152.5px,#ebff14 156.5px,#fef101 157.5px,#ffa000 160.5px,#ff6c00 163.5px,#ff4900 167px)"></i><i style="top:171px;background:linear-gradient(90deg,#bf0000 0px,#c30000 75.5px,#db0000 88.5px,#f40000 90.5px,#ff0600 91.5px,#f40 94.5px,#ffb400 98.5px,#fef501 100.5px,#e6ff19 101.5px,#1cffe3 107.5px,#02fafd 108.5px,#0094ff 112.5px,#004aff 116.5px,#000aff 121.5px,#0000f5 123.5px,#0000dc 127.5px,#0000e2 130.5px,#00e 131.5px,#000bfd 132.5px,#0042ff 134.5px,#0057ff 136.5px,#006eff 142.5px,#0093ff 145.5px,#03f7fc 150.5px,#15ffea 151.5px,#56ffa9 153.5px,#f3fe0c 157.5px,#ffe600 158.5px,#ffae00 160.5px,#f70 163.5px,#ff5200 167px)"></i><i style="top:172px;background:linear-gradient(90deg,#bf0000 0px,#c30000 75.5px,#da0000 88.5px,#f50000 90.5px,#ff0600 91.5px,#ff4500 94.5px,#ffb500 98.5px,#fef601 100.5px,#e5ff1a 101.5px,#19ffe6 107.5px,#01f8fe 108.5px,#008eff 112.5px,#0042ff 116.5px,#0002fe 121.5px,#0000ca 127.5px,#0000c9 130.5px,#0000d3 131.5px,#0008fc 133.5px,#002cff 135.5px,#003cff 138.5px,#0048ff 142.5px,#006cff 145.5px,#00eaff 151.5px,#0bfcf4 152.5px,#2effd1 153.5px,#deff21 157.5px,#fdf702 158.5px,#ffbd00 160.5px,#ff8200 163.5px,#ff5b00 167px)"></i><i style="top:173px;background:linear-gradient(90deg,#bf0000 0px,#c30000 75.5px,#da0000 88.5px,#f50000 90.5px,#ff0700 91.5px,#ff4600 94.5px,#ffb600 98.5px,#fef601 100.5px,#e5ff1a 101.5px,#16ffe9 107.5px,#00f5ff 108.5px,#0089ff 112.5px,#003bff 116.5px,#0005ff 120.5px,#0000e2 123.5px,#0000bd 127.5px,#0000b9 130.5px,#0000d2 132.5px,#0002f9 134.5px,#0019ff 137.5px,#0024ff 142.5px,#0038ff 144.5px,#00b3ff 150.5px,#00e5ff 152.5px,#0ffef0 153.5px,#f0fe0f 158.5px,#ffea00 159.5px,#ffa000 162.5px,#ff6200 167px)"></i><i style="top:174px;background:linear-gradient(90deg,#bf0000 0px,#c30000 75.5px,#d90000 88.5px,#f50000 90.5px,#ff0700 91.5px,#ff4600 94.5px,#ffb600 98.5px,#fef601 100.5px,#e4ff1b 101.5px,#14ffeb 107.5px,#00f3ff 108.5px,#0084ff 112.5px,#0034ff 116.5px,#0001fd 120.5px,#00b 126.5px,#0000ad 129.5px,#0000b5 131.5px,#0000ed 135.5px,#0002fa 138.5px,#0005fd 142.5px,#0017ff 144.5px,#00b3ff 151.5px,#02f3fd 153.5px,#2fd 154.5px,#d9ff26 158.5px,#fafb05 159.5px,#ff9b00 163.5px,#ff6800 167px)"></i><i style="top:175px;background:linear-gradient(90deg,#bf0000 0px,#c30000 75.5px,#d90000 88.5px,#f50000 90.5px,#ff0700 91.5px,#ff4600 94.5px,#ffb600 98.5px,#fef601 100.5px,#e4ff1b 101.5px,#1fe 107.5px,#00f0ff 108.5px,#007fff 112.5px,#003fff 115.5px,#0005ff 119.5px,#0000d6 123.5px,#0000ae 127.5px,#0000a9 130.5px,#0000c2 133.5px,#0000de 136.5px,#0000e6 142.5px,#0002f9 144.5px,#01f 145.5px,#00c0ff 152.5px,#00e3ff 153.5px,#0efef1 154.5px,#bfff40 158.5px,#e5ff1a 159.5px,#fdf702 160.5px,#ff9500 164.5px,#ff6f00 167px)"></i><i style="top:176px;background:linear-gradient(90deg,#bf0000 0px,#c20000 75.5px,#d90000 88.5px,#f60000 90.5px,#ff0800 91.5px,#ff4600 94.5px,#ffb500 98.5px,#fef601 100.5px,#e4ff1b 101.5px,#0ffff0 107.5px,#00ecff 108.5px,#0079ff 112.5px,#0038ff 115.5px,#000aff 118.5px,#0001fc 119.5px,#0000b1 126.5px,#0000a8 129.5px,#0000ae 132.5px,#0000cb 136.5px,#0000d2 142.5px,#0000e7 144.5px,#0003fb 145.5px,#00b2ff 152.5px,#02f6fd 154.5px,#23ffdc 155.5px,#c9ff36 159.5px,#ebff14 160.5px,#fef201 161.5px,#ff8c00 165.5px,#f70 167px)"></i><i style="top:177px;background:linear-gradient(90deg,#bf0000 0px,#c30000 76.5px,#d90000 88.5px,#f60000 90.5px,#ff0800 91.5px,#ff5f00 95.5px,#ffd500 99.5px,#fef601 100.5px,#e4ff1b 101.5px,#0cfff3 107.5px,#00e9ff 108.5px,#0074ff 112.5px,#0032ff 115.5px,#0003fe 118.5px,#0000af 126.5px,#0000a8 129.5px,#0000b0 133.5px,#0000bf 137.5px,#0000c4 142.5px,#0000db 144.5px,#0000f0 145.5px,#000cff 146.5px,#005dff 149.5px,#00a3ff 152.5px,#00e5ff 154.5px,#0dfef2 155.5px,#cfff30 160.5px,#f0fe0f 161.5px,#fe0 162.5px,#ff8200 167px)"></i><i style="top:178px;background:linear-gradient(90deg,#bf0000 0px,#c30000 76.5px,#d30000 87.5px,#e70000 89.5px,#ff0800 91.5px,#ff5e00 95.5px,#ffd400 99.5px,#fef501 100.5px,#e5ff1a 101.5px,#0afef5 107.5px,#00e5ff 108.5px,#006eff 112.5px,#002bff 115.5px,#0009ff 117.5px,#0000fa 118.5px,#0000b5 125.5px,#0000a8 128.5px,#0000ac 133.5px,#0000b6 138.5px,#00b 142.5px,#0000d2 144.5px,#0003fb 146.5px,#0063ff 150.5px,#00afff 153.5px,#01f3fe 155.5px,#1bffe4 156.5px,#d3ff2c 161.5px,#f4fe0b 162.5px,#ffe800 163.5px,#ff9100 167px)"></i><i style="top:179px;background:linear-gradient(90deg,#bf0000 0px,#c30000 76.5px,#d20000 87.5px,#f60000 90.5px,#ff0800 91.5px,#ff5d00 95.5px,#ffd300 99.5px,#fef501 100.5px,#e5ff1a 101.5px,#07fdf8 107.5px,#00c0ff 109.5px,#0067ff 112.5px,#0023ff 115.5px,#0003fe 117.5px,#0000c1 123.5px,#0000a9 127.5px,#0000ae 134.5px,#0000b0 141.5px,#0000bd 143.5px,#0000dc 145.5px,#0000f2 146.5px,#000bff 147.5px,#007fff 152.5px,#05fafa 156.5px,#8fff70 160.5px,#f6fc09 163.5px,#ffe400 164.5px,#ffa400 167px)"></i><i style="top:180px;background:linear-gradient(90deg,#bf0000 0px,#c30000 76.5px,#d20000 87.5px,#f70000 90.5px,#ff0800 91.5px,#f40 94.5px,#ff9300 97.5px,#fff400 100.5px,#e6ff19 101.5px,#26ffd9 106.5px,#05fbfa 107.5px,#0061ff 112.5px,#001bff 115.5px,#0009ff 116.5px,#0000f8 117.5px,#0000cb 121.5px,#0000ae 126.5px,#0000ad 132.5px,#0000ac 141.5px,#0000c3 144.5px,#0001f8 147.5px,#0025ff 149.5px,#0068ff 152.5px,#00c2ff 155.5px,#00e3ff 156.5px,#09fcf6 157.5px,#f6fc09 164.5px,#ffe000 165.5px,#ffbd00 167px)"></i><i style="top:181px;background:linear-gradient(90deg,#bf0000 0px,#c30000 77.5px,#d20000 87.5px,#f70000 90.5px,#ff0800 91.5px,#ff4300 94.5px,#ff9100 97.5px,#fff300 100.5px,#e7ff18 101.5px,#23ffdc 106.5px,#03f9fc 107.5px,#0076ff 111.5px,#0028ff 114.5px,#0002fd 116.5px,#0000cd 120.5px,#0000b1 125.5px,#0000b1 131.5px,#0000af 137.5px,#00a 141.5px,#0000bc 144.5px,#0002f9 148.5px,#0023ff 150.5px,#006bff 153.5px,#00e7ff 157.5px,#0afdf5 158.5px,#86ff79 162.5px,#f5fb0a 165.5px,#fd0 167px)"></i><i style="top:182px;background:linear-gradient(90deg,#bf0000 0px,#c30000 77.5px,#d30000 87.5px,#f80000 90.5px,#ff0900 91.5px,#ff4300 94.5px,#ff9000 97.5px,#fff200 100.5px,#e7ff18 101.5px,#1fffe0 106.5px,#02f6fd 107.5px,#0070ff 111.5px,#0020ff 114.5px,#000bff 115.5px,#0000f7 116.5px,#0000cf 119.5px,#0000b6 123.5px,#0000b1 128.5px,#0000b8 135.5px,#0000a9 141.5px,#0000b5 144.5px,#0000e7 148.5px,#0001f7 149.5px,#000bff 150.5px,#0051ff 153.5px,#00e7ff 158.5px,#07fbf8 159.5px,#57ffa8 162.5px,#9fff60 164.5px,#f5fa0a 167px)"></i><i style="top:183px;background:linear-gradient(90deg,#bf0000 0px,#c30000 77.5px,#ce0000 86.5px,#f90000 90.5px,#ff1b00 92.5px,#ff5a00 95.5px,#ffae00 98.5px,#fff100 100.5px,#e8ff17 101.5px,#1bffe4 106.5px,#00f2ff 107.5px,#006aff 111.5px,#0018ff 114.5px,#0004fd 115.5px,#0000c8 119.5px,#0000b3 123.5px,#0000b9 129.5px,#0000c1 134.5px,#0000a8 141.5px,#0000ae 144.5px,#0000d4 148.5px,#0000f2 150.5px,#0007fe 151.5px,#0037ff 153.5px,#00aeff 157.5px,#02f4fd 160.5px,#0efef1 161.5px,#42ffbd 163.5px,#6f9 164.5px,#c7ff38 167px)"></i><i style="top:184px;background:linear-gradient(90deg,#bf0000 0px,#c30000 77.5px,#cf0000 86.5px,#fb0000 90.5px,#ff1c00 92.5px,#ff5b00 95.5px,#ffad00 98.5px,#fff000 100.5px,#e8ff17 101.5px,#16ffe9 106.5px,#00edff 107.5px,#0064ff 111.5px,#0010ff 114.5px,#0000f8 115.5px,#0000cb 118.5px,#0000b6 121.5px,#0000b4 126.5px,#0000ca 133.5px,#0000bd 137.5px,#0000a9 141.5px,#0000ac 145.5px,#0000ce 149.5px,#0005fc 152.5px,#003bff 154.5px,#0095ff 157.5px,#00e1ff 161.5px,#02f1fd 162.5px,#0dfcf2 163.5px,#28ffd7 164.5px,#54ffab 165.5px,#89ff76 167px)"></i><i style="top:185px;background:linear-gradient(90deg,#bf0000 0px,#c30000 78.5px,#cb0000 85.5px,#f10000 89.5px,#fd0100 90.5px,#ff3000 93.5px,#ff7500 96.5px,#ffce00 99.5px,#fff100 100.5px,#e7ff18 101.5px,#1fe 106.5px,#00e8ff 107.5px,#005eff 111.5px,#0009ff 114.5px,#0000f1 115.5px,#0000c4 118.5px,#0000b1 121.5px,#0000b3 125.5px,#0000d3 133.5px,#0000c2 137.5px,#0000a9 141.5px,#0000ac 147.5px,#0000c7 150.5px,#0005fc 153.5px,#0065ff 156.5px,#0091ff 158.5px,#00d5ff 163.5px,#01eafe 164.5px,#15fdea 165.5px,#4fb 167px)"></i><i style="top:186px;background:linear-gradient(90deg,#bf0000 0px,#c30000 78.5px,#ce0000 85.5px,#fe0300 90.5px,#f30 93.5px,#f70 96.5px,#ffd100 99.5px,#fff300 100.5px,#e4ff1b 101.5px,#0dfff2 106.5px,#00e4ff 107.5px,#005aff 111.5px,#0004fd 114.5px,#0000c8 117.5px,#0000b1 120.5px,#0000b0 124.5px,#0000dc 133.5px,#0000cf 136.5px,#0000a9 141.5px,#0000ad 149.5px,#0000d2 152.5px,#0000e9 153.5px,#000cfe 154.5px,#004fff 156.5px,#007bff 158.5px,#009bff 161.5px,#00acff 163.5px,#00bdff 164.5px,#00dbff 165.5px,#0bf9f4 167px)"></i><i style="top:187px;background:linear-gradient(90deg,#bf0000 0px,#c30000 79.5px,#c00 84.5px,#f80000 89.5px,#ff0600 90.5px,#ff3600 93.5px,#ff7a00 96.5px,#ffd500 99.5px,#fdf602 100.5px,#dfff20 101.5px,#0bfef4 106.5px,#00e1ff 107.5px,#0056ff 111.5px,#0018ff 113.5px,#0002f9 114.5px,#0000d1 116.5px,#0000b2 119.5px,#0000ad 123.5px,#0000cd 129.5px,#0000e2 133.5px,#0000d4 136.5px,#0000a9 141.5px,#00a 150.5px,#0000c2 152.5px,#0001f5 154.5px,#001aff 155.5px,#05f 157.5px,#0076ff 159.5px,#008fff 163.5px,#009cff 164.5px,#00cfff 167px)"></i><i style="top:188px;background:linear-gradient(90deg,#bf0000 0px,#c30000 79.5px,#cb0000 83.5px,#fd0100 89.5px,#ff2800 92.5px,#ff6500 95.5px,#ffb900 98.5px,#fbfa04 100.5px,#b0ff4f 102.5px,#08fcf7 106.5px,#00deff 107.5px,#03f 112.5px,#0014ff 113.5px,#0000f6 114.5px,#00c 116.5px,#0000af 119.5px,#0000ad 123.5px,#0000d7 130.5px,#0000e5 133.5px,#0000d6 136.5px,#0000a9 141.5px,#00a 151.5px,#0000cd 153.5px,#0000e9 154.5px,#000bfe 155.5px,#0047ff 157.5px,#0068ff 159.5px,#0083ff 164.5px,#00a9ff 167px)"></i></div>
<div class="hm" style="left:302px;top:230px;width:197px;height:191px"><b style="left:0px;background:linear-gradient(180deg,#63059c 0px,#1708e3 6.5px,#1008ea 8.5px,#1008ea 11.5px,#1e08dd 12.5px,#ec001a 13.5px,#ec001a 18.5px,#c10242 22.5px,#1008ea 37.5px,#1008ea 42.5px,#b5024e 43.5px,#ec001a 44.5px,#e6001f 49.5px,#1208e8 66.5px,#1008ea 71.5px,#8c0475 72.5px,#ec001a 73.5px,#e9001d 78.5px,#5506a9 90.5px,#430fb5 91.5px,#1c1ad7 92.5px,#1c1ad7 98.5px,#130ce5 99.5px,#d00134 100.5px,#ec001a 101.5px,#e7001e 104.5px,#1408e6 116.5px,#1008ea 119.5px,#3906c3 120.5px,#ec001a 121.5px,#eb001b 124.5px,#1d08dd 135.5px,#1008ea 136.5px,#1008ea 139.5px,#ec001a 140.5px,#e60020 144.5px,#1308e7 156.5px,#1008ea 159.5px,#4706b6 160.5px,#ec001a 161.5px,#eb001a 164.5px,#73048d 171.5px,#1808e2 176.5px,#1008ea 178.5px,#1008ea 180.5px,#de0027 181.5px,#ec001a 182.5px,#e6001f 185.5px,#8e0372 191px)"></b><b style="left:2px;background:linear-gradient(180deg,#60059e 0px,#1508e5 6.5px,#1008ea 11.5px,#4706b6 12.5px,#ec001a 13.5px,#ec001a 18.5px,#1608e5 36.5px,#1008ea 40.5px,#1008ea 42.5px,#ec001a 43.5px,#ec001a 48.5px,#2807d3 64.5px,#1108e9 66.5px,#1008ea 71.5px,#b5024e 72.5px,#ec001a 73.5px,#e7001e 78.5px,#5206ab 90.5px,#460fb4 91.5px,#1c1ad7 92.5px,#1c1ad7 98.5px,#130ce5 99.5px,#70048f 100.5px,#ec001a 101.5px,#ea001c 104.5px,#1208e8 116.5px,#1008ea 119.5px,#8c0475 120.5px,#ec001a 121.5px,#e9001d 124.5px,#1108e9 136.5px,#1008ea 139.5px,#b5024e 140.5px,#ec001a 141.5px,#e8001e 144.5px,#1208e8 156.5px,#1008ea 159.5px,#70048f 160.5px,#ec001a 161.5px,#eb001b 164.5px,#1d08de 176.5px,#1008ea 177.5px,#1008ea 180.5px,#9a0368 181.5px,#ec001a 182.5px,#e9001d 185.5px,#8f0372 191px)"></b><b style="left:4px;background:linear-gradient(180deg,#5e05a0 0px,#1308e7 6.5px,#1008ea 11.5px,#70048f 12.5px,#ec001a 13.5px,#eb001b 18.5px,#1408e6 36.5px,#1008ea 41.5px,#2c07d0 42.5px,#ec001a 43.5px,#eb001b 48.5px,#1008ea 66.5px,#1008ea 71.5px,#de0027 72.5px,#ec001a 73.5px,#ec001a 77.5px,#c00244 81.5px,#5006ad 90.5px,#470fb2 91.5px,#1c1ad7 92.5px,#1c1ad7 98.5px,#130ce5 99.5px,#4706b6 100.5px,#ec001a 101.5px,#eb001b 104.5px,#1108e9 116.5px,#1008ea 119.5px,#b5024e 120.5px,#ec001a 121.5px,#e7001f 124.5px,#1108e9 136.5px,#1008ea 139.5px,#ec001a 141.5px,#e9001d 144.5px,#1208e8 156.5px,#1008ea 159.5px,#ec001a 161.5px,#eb001b 164.5px,#1208e8 177.5px,#1008ea 180.5px,#5506a9 181.5px,#ec001a 182.5px,#ea001b 185.5px,#8f0372 191px)"></b><b style="left:6px;background:linear-gradient(180deg,#5c05a2 0px,#1208e8 6.5px,#1008ea 11.5px,#8c0475 12.5px,#ec001a 13.5px,#ea001c 18.5px,#1208e8 36.5px,#1008ea 41.5px,#4706b6 42.5px,#ec001a 43.5px,#eb001b 48.5px,#1708e3 65.5px,#1008ea 67.5px,#1008ea 70.5px,#1e08dd 71.5px,#ec001a 72.5px,#ec001a 77.5px,#4e06af 90.5px,#470fb3 91.5px,#1c1ad7 92.5px,#1c1ad7 98.5px,#130ce5 99.5px,#4706b6 100.5px,#ec001a 101.5px,#eb001b 104.5px,#1e07dd 115.5px,#1108e9 116.5px,#1008ea 119.5px,#d00134 120.5px,#ec001a 121.5px,#e6001f 124.5px,#1108e9 136.5px,#1008ea 139.5px,#ec001a 141.5px,#ea001c 144.5px,#1308e7 156.5px,#1008ea 159.5px,#70048f 160.5px,#ec001a 161.5px,#ec001a 164.5px,#be0245 167.5px,#1308e7 177.5px,#1008ea 180.5px,#2c07d0 181.5px,#ec001a 182.5px,#eb001b 185.5px,#8d0374 191px)"></b><b style="left:8px;background:linear-gradient(180deg,#5a05a4 0px,#1108e9 6.5px,#1008ea 11.5px,#b5024e 12.5px,#ec001a 13.5px,#e9001d 18.5px,#1108e9 36.5px,#1008ea 41.5px,#ec001a 43.5px,#ea001c 48.5px,#1508e5 65.5px,#1008ea 70.5px,#4706b6 71.5px,#ec001a 72.5px,#eb001b 77.5px,#4c06b1 90.5px,#450fb4 91.5px,#1c1ad7 92.5px,#1c1ad7 98.5px,#130ce5 99.5px,#70048f 100.5px,#ec001a 101.5px,#e9001c 104.5px,#1108e9 116.5px,#1008ea 119.5px,#b5024e 120.5px,#ec001a 121.5px,#e7001f 124.5px,#1108e9 136.5px,#1008ea 139.5px,#a7025b 140.5px,#ec001a 141.5px,#e9001c 144.5px,#1608e5 156.5px,#1008ea 159.5px,#2c07d0 160.5px,#ec001a 161.5px,#ec001a 164.5px,#e40021 165.5px,#1308e7 177.5px,#1008ea 180.5px,#4706b6 181.5px,#ec001a 182.5px,#ea001c 185.5px,#8b0476 191px)"></b><b style="left:10px;background:linear-gradient(180deg,#5905a5 0px,#1108ea 6.5px,#1008ea 11.5px,#d00134 12.5px,#ec001a 13.5px,#e8001e 18.5px,#1108e9 36.5px,#1008ea 41.5px,#ec001a 43.5px,#e9001d 48.5px,#1408e6 65.5px,#1008ea 70.5px,#62059c 71.5px,#ec001a 72.5px,#eb001b 77.5px,#4b06b2 90.5px,#440fb5 91.5px,#1c1ad7 92.5px,#1c1ad7 98.5px,#130ce5 99.5px,#b5024e 100.5px,#ec001a 101.5px,#e8001e 104.5px,#1108e9 116.5px,#1008ea 119.5px,#ec001a 121.5px,#e8001d 124.5px,#1d08dd 135.5px,#1008ea 136.5px,#1008ea 139.5px,#c30241 140.5px,#ec001a 141.5px,#e9001d 144.5px,#1b08e0 156.5px,#1008ea 157.5px,#1008ea 160.5px,#9a0368 161.5px,#ec001a 162.5px,#e8001e 165.5px,#1108e9 177.5px,#1008ea 180.5px,#9a0368 181.5px,#ec001a 182.5px,#e6001f 185.5px,#880479 191px)"></b><b style="left:12px;background:linear-gradient(180deg,#5805a6 0px,#1008ea 6.5px,#1008ea 11.5px,#ec001a 12.5px,#e7001e 18.5px,#1008ea 36.5px,#1008ea 41.5px,#b5024e 42.5px,#ec001a 43.5px,#e8001e 48.5px,#1308e7 65.5px,#1008ea 70.5px,#ec001a 72.5px,#ea001c 77.5px,#4a06b3 90.5px,#440fb5 91.5px,#1c1ad7 92.5px,#1c1ad7 98.5px,#130ce5 99.5px,#b5024e 100.5px,#ec001a 101.5px,#e7001f 104.5px,#1108e9 116.5px,#1008ea 119.5px,#ec001a 121.5px,#e9001d 124.5px,#1d08de 135.5px,#1008ea 136.5px,#1008ea 139.5px,#d00134 140.5px,#ec001a 141.5px,#e9001c 144.5px,#1108e9 157.5px,#1008ea 160.5px,#5506a9 161.5px,#ec001a 162.5px,#ea001c 165.5px,#1c08df 176.5px,#1008ea 177.5px,#1008ea 179.5px,#1e08dd 180.5px,#ec001a 181.5px,#ec001a 184.5px,#cf0135 186.5px,#86047b 191px)"></b><b style="left:14px;background:linear-gradient(180deg,#5705a7 0px,#1008ea 6.5px,#1008ea 11.5px,#ec001a 12.5px,#e7001f 18.5px,#1008ea 36.5px,#1008ea 41.5px,#b5024e 42.5px,#ec001a 43.5px,#e7001e 48.5px,#1308e7 65.5px,#1008ea 70.5px,#ec001a 72.5px,#ea001c 77.5px,#4906b4 90.5px,#440fb5 91.5px,#1c1ad7 92.5px,#1c1ad7 98.5px,#130ce5 99.5px,#a7025b 100.5px,#ec001a 101.5px,#e8001e 104.5px,#1108e9 116.5px,#1008ea 119.5px,#a7025b 120.5px,#ec001a 121.5px,#e8001e 124.5px,#1108e9 136.5px,#1008ea 139.5px,#9a0368 140.5px,#ec001a 141.5px,#eb001b 144.5px,#1208e8 157.5px,#1008ea 160.5px,#4706b6 161.5px,#ec001a 162.5px,#ea001c 165.5px,#1908e2 176.5px,#1008ea 178.5px,#1008ea 179.5px,#4706b6 180.5px,#ec001a 181.5px,#ec001a 184.5px,#a8025a 188.5px,#84047c 191px)"></b><b style="left:16px;background:linear-gradient(180deg,#5705a7 0px,#1008ea 6.5px,#1008ea 11.5px,#ec001a 12.5px,#e7001f 18.5px,#1008ea 36.5px,#1008ea 41.5px,#b5024e 42.5px,#ec001a 43.5px,#e8001e 48.5px,#1308e7 65.5px,#1008ea 70.5px,#ec001a 72.5px,#ea001c 77.5px,#4906b4 90.5px,#450fb4 91.5px,#1c1ad7 92.5px,#1c1ad7 98.5px,#130ce5 99.5px,#ec001a 101.5px,#e9001d 104.5px,#1b08df 115.5px,#1008ea 116.5px,#1008ea 119.5px,#ec001a 120.5px,#e60020 124.5px,#1408e6 136.5px,#1008ea 139.5px,#2c07d0 140.5px,#ec001a 141.5px,#ec001a 144.5px,#d10134 146.5px,#1108e9 157.5px,#1008ea 160.5px,#70048f 161.5px,#ec001a 162.5px,#e8001e 165.5px,#1808e3 176.5px,#1008ea 178.5px,#1008ea 179.5px,#4706b6 180.5px,#ec001a 181.5px,#eb001a 184.5px,#83047d 191px)"></b><b style="left:18px;background:linear-gradient(180deg,#5905a5 0px,#1008ea 6.5px,#1008ea 11.5px,#d00134 12.5px,#ec001a 13.5px,#e8001e 18.5px,#1108e9 36.5px,#1008ea 41.5px,#8c0475 42.5px,#ec001a 43.5px,#e9001d 48.5px,#1408e6 65.5px,#1008ea 70.5px,#62059c 71.5px,#ec001a 72.5px,#eb001b 77.5px,#4b06b3 90.5px,#460fb4 91.5px,#1c1ad7 92.5px,#1c1ad7 98.5px,#130ce5 99.5px,#ec001a 101.5px,#e9001d 104.5px,#1908e1 115.5px,#1008ea 116.5px,#1008ea 118.5px,#4706b6 119.5px,#ec001a 120.5px,#ec001a 123.5px,#e60020 124.5px,#1808e2 136.5px,#1008ea 138.5px,#1008ea 140.5px,#b5024e 141.5px,#ec001a 142.5px,#e7001f 145.5px,#1d08de 156.5px,#1008ea 157.5px,#1008ea 160.5px,#c30241 161.5px,#ec001a 162.5px,#ec001a 164.5px,#e50021 165.5px,#1808e2 176.5px,#1008ea 178.5px,#1008ea 179.5px,#2c07d0 180.5px,#ec001a 181.5px,#ec001a 184.5px,#ba0249 187.5px,#82047e 191px)"></b><b style="left:20px;background:linear-gradient(180deg,#5b05a3 0px,#1108e9 6.5px,#1008ea 11.5px,#a7025b 12.5px,#ec001a 13.5px,#ea001c 18.5px,#1208e8 36.5px,#1008ea 41.5px,#70048f 42.5px,#ec001a 43.5px,#ea001c 48.5px,#1608e5 65.5px,#1008ea 69.5px,#1008ea 70.5px,#3906c3 71.5px,#ec001a 72.5px,#eb001b 77.5px,#4d06b0 90.5px,#450fb4 91.5px,#1c1ad7 92.5px,#1c1ad7 98.5px,#130ce5 99.5px,#8c0475 100.5px,#ec001a 101.5px,#e8001e 104.5px,#1a08e1 115.5px,#1008ea 116.5px,#1008ea 118.5px,#1e08dd 119.5px,#ec001a 120.5px,#e7001f 124.5px,#1b08df 136.5px,#1008ea 137.5px,#1008ea 140.5px,#ec001a 142.5px,#e9001d 145.5px,#1b08e0 156.5px,#1008ea 157.5px,#1008ea 160.5px,#ec001a 161.5px,#ec001a 164.5px,#d00135 166.5px,#1808e2 176.5px,#1008ea 178.5px,#1008ea 180.5px,#ec001a 181.5px,#ec001a 184.5px,#ba024a 187.5px,#81047f 191px)"></b><b style="left:22px;background:linear-gradient(180deg,#5e05a0 0px,#1308e7 6.5px,#1008ea 11.5px,#70048f 12.5px,#ec001a 13.5px,#eb001b 18.5px,#1408e7 36.5px,#1008ea 41.5px,#3906c3 42.5px,#ec001a 43.5px,#eb001b 48.5px,#1008ea 66.5px,#1008ea 71.5px,#de0027 72.5px,#ec001a 73.5px,#ec001a 77.5px,#b30250 82.5px,#5006ae 90.5px,#430fb6 91.5px,#1c1ad7 92.5px,#1c1ad7 98.5px,#130ce5 99.5px,#de0027 100.5px,#ec001a 101.5px,#ec001a 103.5px,#e50021 104.5px,#1d08dd 115.5px,#1008ea 116.5px,#1008ea 119.5px,#b5024e 120.5px,#ec001a 121.5px,#ea001c 124.5px,#1c08de 136.5px,#1008ea 137.5px,#1008ea 140.5px,#ec001a 142.5px,#e8001e 145.5px,#1a08e1 156.5px,#1008ea 157.5px,#1008ea 160.5px,#ec001a 161.5px,#ec001a 164.5px,#ce0136 166.5px,#1608e4 176.5px,#1008ea 179.5px,#3906c3 180.5px,#ec001a 181.5px,#eb001b 184.5px,#800480 191px)"></b><b style="left:24px;background:linear-gradient(180deg,#61059d 0px,#1608e4 6.5px,#1008ea 9.5px,#1008ea 11.5px,#3906c3 12.5px,#ec001a 13.5px,#ec001a 18.5px,#1708e4 36.5px,#1008ea 38.5px,#1008ea 42.5px,#d00134 43.5px,#ec001a 44.5px,#ec001a 48.5px,#c00244 52.5px,#1108e9 66.5px,#1008ea 71.5px,#a7025b 72.5px,#ec001a 73.5px,#e8001e 78.5px,#5306aa 90.5px,#420fb7 91.5px,#1c1ad7 92.5px,#1c1ad7 98.5px,#4a0ab1 99.5px,#ec001a 100.5px,#ec001a 103.5px,#d10134 105.5px,#1208e8 116.5px,#1008ea 119.5px,#4706b6 120.5px,#ec001a 121.5px,#ec001a 124.5px,#bc0247 127.5px,#1b08df 136.5px,#1008ea 137.5px,#1008ea 140.5px,#b5024e 141.5px,#ec001a 142.5px,#e60020 145.5px,#1a08e0 156.5px,#1008ea 157.5px,#1008ea 160.5px,#ec001a 161.5px,#ec001a 164.5px,#ce0136 166.5px,#1308e7 176.5px,#1008ea 179.5px,#70048f 180.5px,#ec001a 181.5px,#ea001c 184.5px,#800480 191px)"></b><b style="left:26px;background:linear-gradient(180deg,#660599 0px,#1108e9 7.5px,#1008ea 12.5px,#d00134 13.5px,#ec001a 14.5px,#e8001e 19.5px,#1108e9 37.5px,#1008ea 42.5px,#8c0475 43.5px,#ec001a 44.5px,#e9001d 49.5px,#1408e6 66.5px,#1008ea 71.5px,#62059c 72.5px,#ec001a 73.5px,#eb001b 78.5px,#5805a6 90.5px,#410fb8 91.5px,#1c1ad7 92.5px,#1c1ad7 98.5px,#4a0ab1 99.5px,#ec001a 100.5px,#ec001a 103.5px,#d10133 105.5px,#1508e5 116.5px,#1008ea 120.5px,#de0027 121.5px,#ec001a 122.5px,#ec001a 124.5px,#e40022 125.5px,#1a08e1 136.5px,#1008ea 137.5px,#1008ea 140.5px,#ec001a 141.5px,#ec001a 144.5px,#e40022 145.5px,#1b08e0 156.5px,#1008ea 157.5px,#1008ea 160.5px,#ec001a 161.5px,#ec001a 164.5px,#ce0137 166.5px,#1108e9 176.5px,#1008ea 179.5px,#b5024e 180.5px,#ec001a 181.5px,#e9001d 184.5px,#81047f 191px)"></b><b style="left:28px;background:linear-gradient(180deg,#6a0595 0px,#1308e7 7.5px,#1008ea 12.5px,#70048f 13.5px,#ec001a 14.5px,#eb001b 19.5px,#1408e7 37.5px,#1008ea 42.5px,#3906c3 43.5px,#ec001a 44.5px,#eb001b 49.5px,#1008ea 67.5px,#1008ea 72.5px,#de0027 73.5px,#ec001a 74.5px,#ec001a 78.5px,#a7035c 84.5px,#5c05a2 90.5px,#420fb7 91.5px,#1c1ad7 92.5px,#1c1ad7 98.5px,#2e0ccb 99.5px,#ec001a 100.5px,#ec001a 103.5px,#e50020 104.5px,#1708e4 116.5px,#1008ea 118.5px,#1008ea 120.5px,#b5024e 121.5px,#ec001a 122.5px,#ec001a 124.5px,#e50021 125.5px,#1a08e1 136.5px,#1008ea 137.5px,#1008ea 140.5px,#ec001a 141.5px,#ec001a 144.5px,#e30023 145.5px,#1908e2 156.5px,#1008ea 158.5px,#1008ea 160.5px,#ec001a 161.5px,#ec001a 164.5px,#b8024b 167.5px,#1108e9 176.5px,#1008ea 179.5px,#de0027 180.5px,#ec001a 181.5px,#e9001d 184.5px,#82047e 191px)"></b><b style="left:30px;background:linear-gradient(180deg,#6f0590 0px,#1708e3 7.5px,#1008ea 9.5px,#1008ea 12.5px,#2c07d0 13.5px,#ec001a 14.5px,#ec001a 19.5px,#c10242 23.5px,#1008ea 38.5px,#1008ea 43.5px,#c30241 44.5px,#ec001a 45.5px,#ec001a 49.5px,#cd0137 52.5px,#1208e8 67.5px,#1008ea 72.5px,#9a0368 73.5px,#ec001a 74.5px,#e9001d 79.5px,#61059e 90.5px,#440fb5 91.5px,#1c1ad7 92.5px,#1c1ad7 98.5px,#130ce5 99.5px,#b5024e 100.5px,#ec001a 101.5px,#e9001d 104.5px,#1708e4 116.5px,#1008ea 119.5px,#1008ea 120.5px,#ec001a 121.5px,#ec001a 124.5px,#e40022 125.5px,#1b08df 136.5px,#1008ea 137.5px,#1008ea 140.5px,#d00134 141.5px,#ec001a 142.5px,#ec001a 144.5px,#e30022 145.5px,#1508e5 156.5px,#1008ea 159.5px,#62059c 160.5px,#ec001a 161.5px,#ea001c 164.5px,#1108e9 176.5px,#1008ea 179.5px,#a7025b 180.5px,#ec001a 181.5px,#ea001c 184.5px,#84047c 191px)"></b><b style="left:32px;background:linear-gradient(180deg,#74048c 0px,#1108e9 8.5px,#1008ea 13.5px,#a7025b 14.5px,#ec001a 15.5px,#e9001c 20.5px,#1208e8 38.5px,#1008ea 43.5px,#62059c 44.5px,#ec001a 45.5px,#ea001c 50.5px,#1608e5 67.5px,#1008ea 71.5px,#1008ea 72.5px,#3906c3 73.5px,#ec001a 74.5px,#eb001b 79.5px,#660599 90.5px,#460fb3 91.5px,#1c1ad7 92.5px,#1c1ad7 98.5px,#130ce5 99.5px,#62059c 100.5px,#ec001a 101.5px,#eb001b 104.5px,#1608e4 116.5px,#1008ea 119.5px,#1e08dd 120.5px,#ec001a 121.5px,#ec001a 124.5px,#d10134 126.5px,#1d08de 136.5px,#1008ea 137.5px,#1008ea 140.5px,#b5024e 141.5px,#ec001a 142.5px,#ec001a 144.5px,#e40022 145.5px,#1208e8 156.5px,#1008ea 159.5px,#a7025b 160.5px,#ec001a 161.5px,#e8001e 164.5px,#1308e7 176.5px,#1008ea 179.5px,#5506a9 180.5px,#ec001a 181.5px,#ec001a 184.5px,#85047b 191px)"></b><b style="left:34px;background:linear-gradient(180deg,#790487 0px,#1408e6 8.5px,#1008ea 13.5px,#5506a9 14.5px,#ec001a 15.5px,#ec001a 20.5px,#1508e5 38.5px,#1008ea 43.5px,#1e08dd 44.5px,#ec001a 45.5px,#ec001a 50.5px,#1108e9 68.5px,#1008ea 73.5px,#c30241 74.5px,#ec001a 75.5px,#e7001f 80.5px,#6a0594 90.5px,#1c1ad7 92.5px,#1c1ad7 98.5px,#130ce5 99.5px,#4706b6 100.5px,#ec001a 101.5px,#ec001a 104.5px,#96036b 109.5px,#1708e4 116.5px,#1008ea 118.5px,#1008ea 119.5px,#1e08dd 120.5px,#ec001a 121.5px,#ec001a 124.5px,#d00134 126.5px,#1c08df 136.5px,#1008ea 137.5px,#1008ea 140.5px,#b5024e 141.5px,#ec001a 142.5px,#ec001a 144.5px,#e20023 145.5px,#1f07dc 155.5px,#1108e9 156.5px,#1008ea 159.5px,#ec001a 160.5px,#e7001f 164.5px,#1608e5 176.5px,#1008ea 180.5px,#ec001a 181.5px,#ec001a 184.5px,#d00135 186.5px,#86047b 191px)"></b><b style="left:36px;background:linear-gradient(180deg,#7d0483 0px,#1008ea 9.5px,#1008ea 14.5px,#de0027 15.5px,#ec001a 16.5px,#e7001f 21.5px,#1108e9 39.5px,#1008ea 44.5px,#9a0368 45.5px,#ec001a 46.5px,#e8001e 51.5px,#1308e7 68.5px,#1008ea 73.5px,#70048f 74.5px,#ec001a 75.5px,#ea001c 80.5px,#6f0590 90.5px,#1c1ad7 92.5px,#1c1ad7 98.5px,#130ce5 99.5px,#4706b6 100.5px,#ec001a 101.5px,#ec001a 104.5px,#97036a 109.5px,#1908e1 116.5px,#1008ea 117.5px,#1008ea 120.5px,#de0027 121.5px,#ec001a 122.5px,#ec001a 124.5px,#e40022 125.5px,#1908e2 136.5px,#1008ea 138.5px,#1008ea 139.5px,#1e08dd 140.5px,#ec001a 141.5px,#eb001a 144.5px,#a4035e 148.5px,#1e08dd 155.5px,#1008ea 156.5px,#1008ea 159.5px,#ec001a 160.5px,#e7001f 164.5px,#1708e3 176.5px,#1008ea 178.5px,#1008ea 180.5px,#b5024e 181.5px,#ec001a 182.5px,#ec001a 184.5px,#e40022 185.5px,#85047b 191px)"></b><b style="left:38px;background:linear-gradient(180deg,#82047e 0px,#1208e8 9.5px,#1008ea 14.5px,#9a0368 15.5px,#ec001a 16.5px,#ea001c 21.5px,#1308e8 39.5px,#1008ea 44.5px,#5506a9 45.5px,#ec001a 46.5px,#eb001b 51.5px,#1708e3 68.5px,#1008ea 70.5px,#1008ea 73.5px,#2c07d0 74.5px,#ec001a 75.5px,#ec001a 80.5px,#74048c 90.5px,#1c1ad7 92.5px,#1c1ad7 98.5px,#130ce5 99.5px,#70048f 100.5px,#ec001a 101.5px,#eb001b 104.5px,#1c08df 116.5px,#1008ea 117.5px,#1008ea 120.5px,#a7025b 121.5px,#ec001a 122.5px,#e50020 125.5px,#1408e6 136.5px,#1008ea 139.5px,#ec001a 141.5px,#e9001d 144.5px,#1108e9 156.5px,#1008ea 159.5px,#a7025b 160.5px,#ec001a 161.5px,#e9001d 164.5px,#1708e4 176.5px,#1008ea 178.5px,#1008ea 180.5px,#ec001a 181.5px,#ec001a 184.5px,#cf0135 186.5px,#85047c 191px)"></b><b style="left:40px;background:linear-gradient(180deg,#86047a 0px,#1608e5 9.5px,#1008ea 14.5px,#3906c3 15.5px,#ec001a 16.5px,#ec001a 21.5px,#1608e4 39.5px,#1008ea 42.5px,#1008ea 45.5px,#de0027 46.5px,#ec001a 47.5px,#ec001a 51.5px,#a6035c 57.5px,#1108e9 69.5px,#1008ea 74.5px,#a7025b 75.5px,#ec001a 76.5px,#e8001e 81.5px,#780488 90.5px,#1c1ad7 92.5px,#1c1ad7 98.5px,#130ce5 99.5px,#70048f 100.5px,#ec001a 101.5px,#ec001a 104.5px,#75048a 111.5px,#1108e9 117.5px,#1008ea 120.5px,#ec001a 122.5px,#ec001a 124.5px,#e50020 125.5px,#1108e9 136.5px,#1008ea 139.5px,#d00134 140.5px,#ec001a 141.5px,#e7001f 144.5px,#1208e8 156.5px,#1008ea 159.5px,#62059c 160.5px,#ec001a 161.5px,#eb001b 164.5px,#1508e5 176.5px,#1008ea 179.5px,#3906c3 180.5px,#ec001a 181.5px,#ec001a 184.5px,#a8025a 188.5px,#84047d 191px)"></b><b style="left:42px;background:linear-gradient(180deg,#8b0475 0px,#1108e9 10.5px,#1008ea 15.5px,#d00134 16.5px,#ec001a 17.5px,#e8001d 22.5px,#1108e9 40.5px,#1008ea 45.5px,#ec001a 47.5px,#e9001d 52.5px,#1408e6 69.5px,#1008ea 74.5px,#62059c 75.5px,#ec001a 76.5px,#eb001b 81.5px,#7d0483 90.5px,#470fb2 91.5px,#1c1ad7 92.5px,#1c1ad7 98.5px,#130ce5 99.5px,#3906c3 100.5px,#ec001a 101.5px,#ec001a 104.5px,#cf0135 106.5px,#1c08df 116.5px,#1008ea 117.5px,#1008ea 120.5px,#b5024e 121.5px,#ec001a 122.5px,#ec001a 124.5px,#e20023 125.5px,#1e07dd 135.5px,#1008ea 136.5px,#1008ea 139.5px,#ec001a 140.5px,#ec001a 143.5px,#e50020 144.5px,#1408e7 156.5px,#1008ea 159.5px,#4706b6 160.5px,#ec001a 161.5px,#ec001a 164.5px,#a7025b 168.5px,#1408e6 176.5px,#1008ea 179.5px,#4706b6 180.5px,#ec001a 181.5px,#eb001b 184.5px,#83047d 191px)"></b><b style="left:44px;background:linear-gradient(180deg,#910370 0px,#1408e7 10.5px,#1008ea 15.5px,#62059c 16.5px,#ec001a 17.5px,#eb001b 22.5px,#1408e6 40.5px,#1008ea 45.5px,#2c07d0 46.5px,#ec001a 47.5px,#eb001a 52.5px,#1008ea 70.5px,#1008ea 75.5px,#d00134 76.5px,#ec001a 77.5px,#ec001a 81.5px,#cd0137 84.5px,#82047e 90.5px,#480fb1 91.5px,#1c1ad7 92.5px,#1c1ad7 98.5px,#130ce5 99.5px,#1008ea 100.5px,#d00134 101.5px,#ec001a 102.5px,#ec001a 104.5px,#e40021 105.5px,#1808e3 116.5px,#1008ea 118.5px,#1008ea 119.5px,#2c07d0 120.5px,#ec001a 121.5px,#eb001b 124.5px,#1e07dd 135.5px,#1008ea 136.5px,#1008ea 139.5px,#de0027 140.5px,#ec001a 141.5px,#e7001f 144.5px,#1408e6 156.5px,#1008ea 159.5px,#4706b6 160.5px,#ec001a 161.5px,#ec001a 164.5px,#95036c 169.5px,#1508e6 176.5px,#1008ea 179.5px,#4706b6 180.5px,#ec001a 181.5px,#eb001b 184.5px,#82047e 191px)"></b><b style="left:46px;background:linear-gradient(180deg,#96036b 0px,#1008ea 11.5px,#1008ea 15.5px,#1e08dd 16.5px,#de0027 17.5px,#ec001a 18.5px,#e7001f 23.5px,#1108ea 41.5px,#1008ea 46.5px,#9a0368 47.5px,#ec001a 48.5px,#e8001e 53.5px,#1308e7 70.5px,#1008ea 75.5px,#ec001a 77.5px,#ea001c 82.5px,#880479 90.5px,#4a0fb0 91.5px,#1c1ad7 92.5px,#1c1ad7 98.5px,#130ce5 99.5px,#1008ea 100.5px,#8c0475 101.5px,#ec001a 102.5px,#e60020 105.5px,#1408e7 116.5px,#1008ea 119.5px,#9a0368 120.5px,#ec001a 121.5px,#e9001d 124.5px,#1108e9 136.5px,#1008ea 139.5px,#a7025b 140.5px,#ec001a 141.5px,#e9001d 144.5px,#1308e7 156.5px,#1008ea 159.5px,#62059c 160.5px,#ec001a 161.5px,#eb001b 164.5px,#1608e4 176.5px,#1008ea 179.5px,#2c07d0 180.5px,#ec001a 181.5px,#ec001a 184.5px,#a6035c 188.5px,#81047f 191px)"></b><b style="left:48px;background:linear-gradient(180deg,#9c0366 0px,#1308e8 11.5px,#1008ea 16.5px,#ec001a 18.5px,#eb001b 23.5px,#1308e7 41.5px,#1008ea 46.5px,#4706b6 47.5px,#ec001a 48.5px,#eb001b 53.5px,#1008ea 71.5px,#1008ea 75.5px,#1e08dd 76.5px,#de0027 77.5px,#ec001a 78.5px,#ec001a 82.5px,#8d0374 90.5px,#4a0fb0 91.5px,#1c1ad7 92.5px,#1c1ad7 98.5px,#130ce5 99.5px,#1008ea 100.5px,#8c0475 101.5px,#ec001a 102.5px,#ec001a 104.5px,#e50020 105.5px,#1108e9 116.5px,#1008ea 119.5px,#de0027 120.5px,#ec001a 121.5px,#e60020 124.5px,#1208e8 136.5px,#1008ea 139.5px,#ec001a 141.5px,#ea001c 144.5px,#1208e8 156.5px,#1008ea 159.5px,#ec001a 161.5px,#eb001b 164.5px,#1808e3 176.5px,#1008ea 178.5px,#1008ea 180.5px,#ec001a 181.5px,#ec001a 184.5px,#cc0138 186.5px,#7f0481 191px)"></b><b style="left:50px;background:linear-gradient(180deg,#a10360 0px,#1708e3 11.5px,#1008ea 13.5px,#1008ea 16.5px,#2c07d0 17.5px,#ec001a 18.5px,#ec001a 23.5px,#c10242 27.5px,#1008ea 42.5px,#1008ea 47.5px,#b5024e 48.5px,#ec001a 49.5px,#e6001f 54.5px,#1208e8 71.5px,#1008ea 76.5px,#9a0368 77.5px,#ec001a 78.5px,#e9001d 83.5px,#93036e 90.5px,#480fb1 91.5px,#1c1ad7 92.5px,#1c1ad7 98.5px,#130ce5 99.5px,#1008ea 100.5px,#d00134 101.5px,#ec001a 102.5px,#ec001a 104.5px,#ce0137 106.5px,#1108e9 116.5px,#1008ea 119.5px,#ec001a 120.5px,#ec001a 123.5px,#e60020 124.5px,#1208e8 136.5px,#1008ea 139.5px,#ec001a 141.5px,#ea001c 144.5px,#1308e8 156.5px,#1008ea 159.5px,#ec001a 161.5px,#eb001b 164.5px,#1708e3 176.5px,#1008ea 178.5px,#1008ea 180.5px,#ec001a 181.5px,#ec001a 184.5px,#a4035e 188.5px,#7d0483 191px)"></b><b style="left:52px;background:linear-gradient(180deg,#a7035b 0px,#1208e8 12.5px,#1008ea 17.5px,#9a0368 18.5px,#ec001a 19.5px,#ea001c 24.5px,#1208e8 42.5px,#1008ea 47.5px,#62059c 48.5px,#ec001a 49.5px,#ea001b 54.5px,#1708e4 71.5px,#1008ea 74.5px,#1008ea 76.5px,#2c07d0 77.5px,#ec001a 78.5px,#ec001a 83.5px,#980369 90.5px,#460fb3 91.5px,#1c1ad7 92.5px,#1c1ad7 98.5px,#130ce5 99.5px,#4706b6 100.5px,#ec001a 101.5px,#eb001b 104.5px,#1108e9 116.5px,#1008ea 119.5px,#b5024e 120.5px,#ec001a 121.5px,#e7001f 124.5px,#1108e9 136.5px,#1008ea 139.5px,#9a0368 140.5px,#ec001a 141.5px,#e9001c 144.5px,#1408e6 156.5px,#1008ea 159.5px,#3906c3 160.5px,#ec001a 161.5px,#eb001b 164.5px,#70058f 171.5px,#1508e6 176.5px,#1008ea 179.5px,#5506a9 180.5px,#ec001a 181.5px,#ea001c 184.5px,#7b0484 191px)"></b><b style="left:54px;background:linear-gradient(180deg,#ad0256 0px,#1608e4 12.5px,#1008ea 16.5px,#1008ea 17.5px,#3906c3 18.5px,#ec001a 19.5px,#ec001a 24.5px,#1708e4 42.5px,#1008ea 45.5px,#1008ea 48.5px,#d00134 49.5px,#ec001a 50.5px,#ec001a 54.5px,#bf0244 58.5px,#1108e9 72.5px,#1008ea 77.5px,#a7025b 78.5px,#ec001a 79.5px,#e8001e 84.5px,#9e0364 90.5px,#450fb4 91.5px,#1c1ad7 92.5px,#1c1ad7 98.5px,#130ce5 99.5px,#9a0368 100.5px,#ec001a 101.5px,#e8001d 104.5px,#1108e9 116.5px,#1008ea 119.5px,#9a0368 120.5px,#ec001a 121.5px,#e8001e 124.5px,#1e07dd 135.5px,#1108e9 136.5px,#1008ea 139.5px,#b5024e 140.5px,#ec001a 141.5px,#e9001d 144.5px,#1708e4 156.5px,#1008ea 159.5px,#1008ea 160.5px,#ec001a 161.5px,#ec001a 164.5px,#cd0137 166.5px,#1208e8 176.5px,#1008ea 179.5px,#a7025b 180.5px,#ec001a 181.5px,#e8001e 184.5px,#7b0485 191px)"></b><b style="left:56px;background:linear-gradient(180deg,#b20251 0px,#1108e9 13.5px,#1008ea 18.5px,#b5024e 19.5px,#ec001a 20.5px,#e9001d 25.5px,#1108e9 43.5px,#1008ea 48.5px,#ec001a 50.5px,#e9001c 55.5px,#1508e5 72.5px,#1008ea 77.5px,#4706b6 78.5px,#ec001a 79.5px,#eb001b 84.5px,#a3035f 90.5px,#440fb5 91.5px,#1c1ad7 92.5px,#1c1ad7 98.5px,#130ce5 99.5px,#b5024e 100.5px,#ec001a 101.5px,#e7001f 104.5px,#1108e9 116.5px,#1008ea 119.5px,#9a0368 120.5px,#ec001a 121.5px,#e8001e 124.5px,#1e07dd 135.5px,#1108e9 136.5px,#1008ea 139.5px,#b5024e 140.5px,#ec001a 141.5px,#e9001d 144.5px,#1808e3 156.5px,#1008ea 158.5px,#1008ea 160.5px,#c30241 161.5px,#ec001a 162.5px,#ec001a 164.5px,#cd0138 166.5px,#1d08dd 175.5px,#1008ea 176.5px,#1008ea 179.5px,#ec001a 180.5px,#ec001a 183.5px,#e50020 184.5px,#7c0484 191px)"></b><b style="left:58px;background:linear-gradient(180deg,#b7024c 0px,#1408e6 13.5px,#1008ea 18.5px,#62059c 19.5px,#ec001a 20.5px,#eb001b 25.5px,#1508e6 43.5px,#1008ea 48.5px,#1e08dd 49.5px,#ec001a 50.5px,#ec001a 55.5px,#1108e9 73.5px,#1008ea 78.5px,#d00134 79.5px,#ec001a 80.5px,#ec001a 84.5px,#cd0137 87.5px,#a8025a 90.5px,#440fb5 91.5px,#1c1ad7 92.5px,#1c1ad7 98.5px,#130ce5 99.5px,#b5024e 100.5px,#ec001a 101.5px,#e7001f 104.5px,#1d08de 115.5px,#1008ea 116.5px,#1008ea 119.5px,#c30241 120.5px,#ec001a 121.5px,#e7001f 124.5px,#1208e9 136.5px,#1008ea 139.5px,#8c0475 140.5px,#ec001a 141.5px,#ea001c 144.5px,#1608e4 156.5px,#1008ea 159.5px,#1e08dd 160.5px,#ec001a 161.5px,#eb001b 164.5px,#7d0483 170.5px,#1c08df 175.5px,#1008ea 176.5px,#1008ea 178.5px,#1e08dd 179.5px,#ec001a 180.5px,#ec001a 183.5px,#e50020 184.5px,#7d0483 191px)"></b><b style="left:60px;background:linear-gradient(180deg,#bc0248 0px,#1008ea 14.5px,#1008ea 18.5px,#1e08dd 19.5px,#de0027 20.5px,#ec001a 21.5px,#e7001f 26.5px,#1008ea 44.5px,#1008ea 49.5px,#a7025b 50.5px,#ec001a 51.5px,#e7001e 56.5px,#1308e7 73.5px,#1008ea 78.5px,#ec001a 80.5px,#ea001c 85.5px,#ad0256 90.5px,#450fb4 91.5px,#1c1ad7 92.5px,#1c1ad7 98.5px,#130ce5 99.5px,#ec001a 101.5px,#e8001e 104.5px,#1a08e0 115.5px,#1008ea 116.5px,#1008ea 119.5px,#ec001a 120.5px,#ec001a 123.5px,#e60020 124.5px,#1408e6 136.5px,#1008ea 139.5px,#3906c3 140.5px,#ec001a 141.5px,#ec001a 144.5px,#94036d 149.5px,#1308e7 156.5px,#1008ea 159.5px,#70048f 160.5px,#ec001a 161.5px,#e9001d 164.5px,#1d08de 175.5px,#1008ea 176.5px,#1008ea 179.5px,#d00134 180.5px,#ec001a 181.5px,#e7001e 184.5px,#7f0481 191px)"></b><b style="left:62px;background:linear-gradient(180deg,#c00244 0px,#1208e8 14.5px,#1008ea 19.5px,#9a0368 20.5px,#ec001a 21.5px,#ea001c 26.5px,#1208e8 44.5px,#1008ea 49.5px,#62059c 50.5px,#ec001a 51.5px,#ea001c 56.5px,#1608e4 73.5px,#1008ea 76.5px,#1008ea 78.5px,#2c07d0 79.5px,#ec001a 80.5px,#ec001a 85.5px,#b10252 90.5px,#450fb4 91.5px,#1c1ad7 92.5px,#1c1ad7 98.5px,#130ce5 99.5px,#8c0475 100.5px,#ec001a 101.5px,#e7001e 104.5px,#1908e1 115.5px,#1008ea 116.5px,#1008ea 119.5px,#ec001a 120.5px,#ec001a 123.5px,#e50020 124.5px,#1608e4 136.5px,#1008ea 140.5px,#ec001a 141.5px,#ec001a 144.5px,#cd0137 146.5px,#1108e9 156.5px,#1008ea 159.5px,#d00134 160.5px,#ec001a 161.5px,#e6001f 164.5px,#1108e9 176.5px,#1008ea 179.5px,#9a0368 180.5px,#ec001a 181.5px,#ea001c 184.5px,#81047f 191px)"></b><b style="left:64px;background:linear-gradient(180deg,#c40140 0px,#1408e6 14.5px,#1008ea 19.5px,#5506a9 20.5px,#ec001a 21.5px,#ec001a 26.5px,#1508e5 44.5px,#1008ea 49.5px,#1e08dd 50.5px,#ec001a 51.5px,#ec001a 56.5px,#1108e9 74.5px,#1008ea 79.5px,#c30241 80.5px,#ec001a 81.5px,#e7001f 86.5px,#b5024e 90.5px,#440fb5 91.5px,#1c1ad7 92.5px,#1c1ad7 98.5px,#130ce5 99.5px,#c30241 100.5px,#ec001a 101.5px,#e50020 104.5px,#1b08e0 115.5px,#1008ea 116.5px,#1008ea 119.5px,#de0027 120.5px,#ec001a 121.5px,#e7001e 124.5px,#1608e4 136.5px,#1008ea 139.5px,#1008ea 140.5px,#ec001a 141.5px,#ec001a 144.5px,#cc0138 146.5px,#1d08dd 155.5px,#1008ea 156.5px,#1008ea 159.5px,#ec001a 160.5px,#ec001a 163.5px,#e50021 164.5px,#1208e8 176.5px,#1008ea 179.5px,#62059c 180.5px,#ec001a 181.5px,#eb001b 184.5px,#83047e 191px)"></b><b style="left:66px;background:linear-gradient(180deg,#c8013c 0px,#1008ea 15.5px,#1008ea 20.5px,#de0027 21.5px,#ec001a 22.5px,#e7001f 27.5px,#1008ea 45.5px,#1008ea 50.5px,#a7025b 51.5px,#ec001a 52.5px,#e7001e 57.5px,#1308e7 74.5px,#1008ea 79.5px,#70048f 80.5px,#ec001a 81.5px,#ea001c 86.5px,#b9024a 90.5px,#420fb7 91.5px,#1c1ad7 92.5px,#1c1ad7 98.5px,#2e0ccb 99.5px,#ec001a 100.5px,#ec001a 103.5px,#d10134 105.5px,#1108e9 116.5px,#1008ea 119.5px,#8c0475 120.5px,#ec001a 121.5px,#ea001c 124.5px,#1508e6 136.5px,#1008ea 139.5px,#3906c3 140.5px,#ec001a 141.5px,#eb001b 144.5px,#1d08de 155.5px,#1008ea 156.5px,#1008ea 159.5px,#ec001a 160.5px,#ec001a 163.5px,#e60020 164.5px,#1208e8 176.5px,#1008ea 179.5px,#5506a9 180.5px,#ec001a 181.5px,#eb001b 184.5px,#85047c 191px)"></b><b style="left:68px;background:linear-gradient(180deg,#cc0138 0px,#1108e9 15.5px,#1008ea 20.5px,#a7025b 21.5px,#ec001a 22.5px,#ea001c 27.5px,#1208e8 45.5px,#1008ea 50.5px,#62059c 51.5px,#ec001a 52.5px,#ea001c 57.5px,#1608e4 74.5px,#1008ea 77.5px,#1008ea 79.5px,#3906c3 80.5px,#ec001a 81.5px,#ec001a 86.5px,#bd0246 90.5px,#410fb8 91.5px,#1c1ad7 92.5px,#1c1ad7 98.5px,#660a97 99.5px,#ec001a 100.5px,#ec001a 103.5px,#be0245 106.5px,#1308e7 116.5px,#1008ea 119.5px,#3906c3 120.5px,#ec001a 121.5px,#eb001b 124.5px,#1208e8 136.5px,#1008ea 139.5px,#9a0368 140.5px,#ec001a 141.5px,#e8001d 144.5px,#1108e9 156.5px,#1008ea 159.5px,#b5024e 160.5px,#ec001a 161.5px,#e8001e 164.5px,#1208e8 176.5px,#1008ea 179.5px,#ec001a 181.5px,#eb001b 184.5px,#87047a 191px)"></b><b style="left:70px;background:linear-gradient(180deg,#d00134 0px,#1408e6 15.5px,#1008ea 20.5px,#62059c 21.5px,#ec001a 22.5px,#eb001b 27.5px,#1508e6 45.5px,#1008ea 50.5px,#1e08dd 51.5px,#ec001a 52.5px,#ec001a 57.5px,#1108e9 75.5px,#1008ea 80.5px,#d00134 81.5px,#ec001a 82.5px,#ec001a 86.5px,#cd0137 89.5px,#c10243 90.5px,#410fb8 91.5px,#1c1ad7 92.5px,#1c1ad7 98.5px,#4a0ab1 99.5px,#ec001a 100.5px,#ec001a 103.5px,#d10133 105.5px,#1408e6 116.5px,#1008ea 120.5px,#ec001a 121.5px,#ec001a 124.5px,#a5035d 128.5px,#1108e9 136.5px,#1008ea 139.5px,#d00134 140.5px,#ec001a 141.5px,#e6001f 144.5px,#1108e9 156.5px,#1008ea 159.5px,#8c0475 160.5px,#ec001a 161.5px,#e9001d 164.5px,#1208e8 176.5px,#1008ea 179.5px,#ec001a 181.5px,#eb001b 184.5px,#890478 191px)"></b><b style="left:72px;background:linear-gradient(180deg,#d40131 0px,#1708e3 15.5px,#1008ea 17.5px,#1008ea 20.5px,#1e08dd 21.5px,#ec001a 22.5px,#ec001a 27.5px,#c20242 31.5px,#1008ea 46.5px,#1008ea 51.5px,#c30241 52.5px,#ec001a 53.5px,#e7001f 58.5px,#1208e8 75.5px,#1008ea 80.5px,#8c0475 81.5px,#ec001a 82.5px,#e9001d 87.5px,#c5013f 90.5px,#430fb6 91.5px,#1c1ad7 92.5px,#1c1ad7 98.5px,#210cd8 99.5px,#de0027 100.5px,#ec001a 101.5px,#e60020 104.5px,#1408e6 116.5px,#1008ea 119.5px,#3906c3 120.5px,#ec001a 121.5px,#eb001b 124.5px,#1108e9 136.5px,#1008ea 139.5px,#de0027 140.5px,#ec001a 141.5px,#e60020 144.5px,#1108e9 156.5px,#1008ea 159.5px,#8c0475 160.5px,#ec001a 161.5px,#e9001d 164.5px,#1308e7 176.5px,#1008ea 179.5px,#62059c 180.5px,#ec001a 181.5px,#ec001a 184.5px,#bf0245 187.5px,#8b0476 191px)"></b><b style="left:74px;background:linear-gradient(180deg,#d8012d 0px,#1108e9 16.5px,#1008ea 21.5px,#c30241 22.5px,#ec001a 23.5px,#e9001d 28.5px,#1108e9 46.5px,#1008ea 51.5px,#70048f 52.5px,#ec001a 53.5px,#e9001c 58.5px,#1508e5 75.5px,#1008ea 80.5px,#5506a9 81.5px,#ec001a 82.5px,#eb001b 87.5px,#c8013c 90.5px,#450fb4 91.5px,#1c1ad7 92.5px,#1c1ad7 98.5px,#130ce5 99.5px,#9a0368 100.5px,#ec001a 101.5px,#e9001d 104.5px,#1208e8 116.5px,#1008ea 119.5px,#70048f 120.5px,#ec001a 121.5px,#ea001c 124.5px,#1108e9 136.5px,#1008ea 139.5px,#b5024e 140.5px,#ec001a 141.5px,#e7001f 144.5px,#1e07dd 155.5px,#1108e9 156.5px,#1008ea 159.5px,#b5024e 160.5px,#ec001a 161.5px,#e9001d 164.5px,#1608e4 176.5px,#1008ea 179.5px,#1e08dd 180.5px,#de0027 181.5px,#ec001a 182.5px,#e60020 185.5px,#8d0374 191px)"></b><b style="left:76px;background:linear-gradient(180deg,#db012a 0px,#1308e7 16.5px,#1008ea 21.5px,#70048f 22.5px,#ec001a 23.5px,#eb001b 28.5px,#1408e7 46.5px,#1008ea 51.5px,#3906c3 52.5px,#ec001a 53.5px,#eb001b 58.5px,#1008ea 76.5px,#1008ea 81.5px,#de0027 82.5px,#ec001a 83.5px,#ec001a 87.5px,#cc0138 90.5px,#460fb3 91.5px,#1c1ad7 92.5px,#1c1ad7 98.5px,#130ce5 99.5px,#5506a9 100.5px,#ec001a 101.5px,#ea001c 104.5px,#1108e9 116.5px,#1008ea 119.5px,#b5024e 120.5px,#ec001a 121.5px,#e8001e 124.5px,#1108e9 136.5px,#1008ea 139.5px,#8c0475 140.5px,#ec001a 141.5px,#e8001e 144.5px,#1c08de 155.5px,#1008ea 156.5px,#1008ea 159.5px,#de0027 160.5px,#ec001a 161.5px,#e9001d 164.5px,#1c08df 176.5px,#1008ea 177.5px,#1008ea 180.5px,#8c0475 181.5px,#ec001a 182.5px,#e9001d 185.5px,#8f0372 191px)"></b><b style="left:78px;background:linear-gradient(180deg,#df0026 0px,#1608e4 16.5px,#1008ea 20.5px,#1008ea 21.5px,#3906c3 22.5px,#ec001a 23.5px,#ec001a 28.5px,#1708e4 46.5px,#1008ea 49.5px,#1008ea 52.5px,#d00134 53.5px,#ec001a 54.5px,#ec001a 58.5px,#bf0244 62.5px,#1108e9 76.5px,#1008ea 81.5px,#a7025b 82.5px,#ec001a 83.5px,#e8001e 88.5px,#d00135 90.5px,#460fb3 91.5px,#1c1ad7 92.5px,#1c1ad7 98.5px,#130ce5 99.5px,#4706b6 100.5px,#ec001a 101.5px,#ea001b 104.5px,#1108e9 116.5px,#1008ea 119.5px,#b5024e 120.5px,#ec001a 121.5px,#e7001f 124.5px,#1108e9 136.5px,#1008ea 139.5px,#9a0368 140.5px,#ec001a 141.5px,#e8001e 144.5px,#1d08de 155.5px,#1008ea 156.5px,#1008ea 159.5px,#d00134 160.5px,#ec001a 161.5px,#ea001c 164.5px,#1108e9 177.5px,#1008ea 180.5px,#4706b6 181.5px,#ec001a 182.5px,#ea001b 185.5px,#8f0372 191px)"></b><b style="left:80px;background:linear-gradient(180deg,#e30023 0px,#1008ea 17.5px,#1008ea 22.5px,#d00134 23.5px,#ec001a 24.5px,#e8001e 29.5px,#1108e9 47.5px,#1008ea 52.5px,#9a0368 53.5px,#ec001a 54.5px,#e8001d 59.5px,#1408e7 76.5px,#1008ea 81.5px,#62059c 82.5px,#ec001a 83.5px,#ea001b 88.5px,#d30131 90.5px,#450fb4 91.5px,#1c1ad7 92.5px,#1c1ad7 98.5px,#130ce5 99.5px,#ec001a 101.5px,#e9001d 104.5px,#1108e9 116.5px,#1008ea 119.5px,#a7025b 120.5px,#ec001a 121.5px,#e7001e 124.5px,#1d08de 135.5px,#1008ea 136.5px,#1008ea 139.5px,#c30241 140.5px,#ec001a 141.5px,#e7001f 144.5px,#1108e9 156.5px,#1008ea 159.5px,#8c0475 160.5px,#ec001a 161.5px,#eb001b 164.5px,#1208e8 177.5px,#1008ea 180.5px,#4706b6 181.5px,#ec001a 182.5px,#ea001c 185.5px,#8d0374 191px)"></b><b style="left:82px;background:linear-gradient(180deg,#e60020 0px,#1208e8 17.5px,#1008ea 22.5px,#9a0368 23.5px,#ec001a 24.5px,#ea001c 29.5px,#1208e8 47.5px,#1008ea 52.5px,#5506a9 53.5px,#ec001a 54.5px,#eb001b 59.5px,#1708e3 76.5px,#1008ea 78.5px,#1008ea 81.5px,#2c07d0 82.5px,#ec001a 83.5px,#ec001a 88.5px,#d7012e 90.5px,#440fb5 91.5px,#1c1ad7 92.5px,#1c1ad7 98.5px,#130ce5 99.5px,#b5024e 100.5px,#ec001a 101.5px,#e8001e 104.5px,#1208e8 116.5px,#1008ea 119.5px,#ec001a 121.5px,#e8001d 124.5px,#1a08e1 135.5px,#1008ea 136.5px,#1008ea 138.5px,#2c07d0 139.5px,#ec001a 140.5px,#ec001a 143.5px,#e50021 144.5px,#1408e6 156.5px,#1008ea 159.5px,#2c07d0 160.5px,#ec001a 161.5px,#ec001a 164.5px,#e40022 165.5px,#1108e9 177.5px,#1008ea 180.5px,#70048f 181.5px,#ec001a 182.5px,#e9001d 185.5px,#8b0475 191px)"></b><b style="left:84px;background:linear-gradient(180deg,#e9001d 0px,#1508e6 17.5px,#1008ea 22.5px,#5506a9 23.5px,#ec001a 24.5px,#ec001a 29.5px,#1508e5 47.5px,#1008ea 53.5px,#ec001a 54.5px,#ec001a 59.5px,#1108e9 77.5px,#1008ea 82.5px,#c30241 83.5px,#ec001a 84.5px,#e7001f 89.5px,#da012b 90.5px,#440fb5 91.5px,#1c1ad7 92.5px,#1c1ad7 98.5px,#130ce5 99.5px,#b5024e 100.5px,#ec001a 101.5px,#e7001f 104.5px,#1208e8 116.5px,#1008ea 119.5px,#ec001a 121.5px,#e8001e 124.5px,#1808e2 135.5px,#1008ea 137.5px,#1008ea 138.5px,#4706b6 139.5px,#ec001a 140.5px,#ec001a 143.5px,#e50021 144.5px,#1908e2 156.5px,#1008ea 158.5px,#1008ea 160.5px,#9a0368 161.5px,#ec001a 162.5px,#e8001e 165.5px,#1d08dd 176.5px,#1008ea 177.5px,#1008ea 180.5px,#c30241 181.5px,#ec001a 182.5px,#e60020 185.5px,#8a0477 191px)"></b><b style="left:86px;background:linear-gradient(180deg,#eb001b 0px,#1008ea 18.5px,#1008ea 23.5px,#ec001a 24.5px,#ec001a 29.5px,#ce0136 32.5px,#1008ea 48.5px,#1008ea 53.5px,#a7025b 54.5px,#ec001a 55.5px,#e7001f 60.5px,#1308e8 77.5px,#1008ea 82.5px,#ec001a 84.5px,#ea001c 89.5px,#de0127 90.5px,#440fb5 91.5px,#1c1ad7 92.5px,#1c1ad7 98.5px,#130ce5 99.5px,#a7025b 100.5px,#ec001a 101.5px,#e8001e 104.5px,#1108e9 116.5px,#1008ea 119.5px,#a7025b 120.5px,#ec001a 121.5px,#e6001f 124.5px,#1908e1 135.5px,#1008ea 136.5px,#1008ea 138.5px,#1e08dd 139.5px,#ec001a 140.5px,#e7001e 144.5px,#1c08df 156.5px,#1008ea 157.5px,#1008ea 160.5px,#ec001a 162.5px,#e9001d 165.5px,#1c08df 176.5px,#1008ea 177.5px,#1008ea 180.5px,#ec001a 181.5px,#ec001a 184.5px,#e30022 185.5px,#880478 191px)"></b><b style="left:88px;background:linear-gradient(180deg,#ec001a 0px,#a6035c 6.5px,#1108e9 18.5px,#1008ea 23.5px,#a7025b 24.5px,#ec001a 25.5px,#e9001c 30.5px,#1208e8 48.5px,#1008ea 53.5px,#70048f 54.5px,#ec001a 55.5px,#ea001c 60.5px,#1608e5 77.5px,#1008ea 82.5px,#3906c3 83.5px,#ec001a 84.5px,#eb001b 89.5px,#e20024 90.5px,#460fb4 91.5px,#1c1ad7 92.5px,#1c1ad7 98.5px,#130ce5 99.5px,#ec001a 101.5px,#e9001d 104.5px,#1b08e0 115.5px,#1008ea 116.5px,#1008ea 118.5px,#1e08dd 119.5px,#ec001a 120.5px,#ec001a 123.5px,#e30022 124.5px,#1e08dd 135.5px,#1108e9 136.5px,#1008ea 139.5px,#9a0368 140.5px,#ec001a 141.5px,#ea001c 144.5px,#1d08de 156.5px,#1008ea 157.5px,#1008ea 160.5px,#8c0475 161.5px,#ec001a 162.5px,#e8001e 165.5px,#1b08df 176.5px,#1008ea 177.5px,#1008ea 180.5px,#ec001a 181.5px,#ec001a 184.5px,#e30022 185.5px,#870479 191px)"></b><b style="left:90px;background:linear-gradient(180deg,#ec001a 0px,#dc0129 2.5px,#1308e7 18.5px,#1008ea 23.5px,#70048f 24.5px,#ec001a 25.5px,#eb001b 30.5px,#1408e6 48.5px,#1008ea 53.5px,#2c07d0 54.5px,#ec001a 55.5px,#eb001a 60.5px,#1008ea 78.5px,#1008ea 83.5px,#de0027 84.5px,#ec001a 85.5px,#ec001a 89.5px,#e50020 90.5px,#460fb3 91.5px,#1c1ad7 92.5px,#1c1ad7 98.5px,#130ce5 99.5px,#4706b6 100.5px,#ec001a 101.5px,#e9001d 104.5px,#1708e3 115.5px,#1008ea 117.5px,#1008ea 118.5px,#5506a9 119.5px,#ec001a 120.5px,#ec001a 123.5px,#bf0245 126.5px,#1308e7 136.5px,#1008ea 139.5px,#3906c3 140.5px,#ec001a 141.5px,#ec001a 144.5px,#cf0135 146.5px,#1b08df 156.5px,#1008ea 157.5px,#1008ea 160.5px,#b5024e 161.5px,#ec001a 162.5px,#e6001f 165.5px,#1c08de 176.5px,#1008ea 177.5px,#1008ea 180.5px,#c30241 181.5px,#ec001a 182.5px,#ec001a 184.5px,#e40022 185.5px,#86047b 191px)"></b><b style="left:92px;background:linear-gradient(180deg,#ec001a 0px,#ea001b 1.5px,#1708e4 18.5px,#1008ea 21.5px,#1008ea 23.5px,#2c07d0 24.5px,#ec001a 25.5px,#ec001a 30.5px,#9c0365 37.5px,#1008ea 49.5px,#1008ea 54.5px,#c30241 55.5px,#ec001a 56.5px,#ec001a 60.5px,#cd0138 63.5px,#1208e8 78.5px,#1008ea 83.5px,#9a0368 84.5px,#ec001a 85.5px,#e9001d 90.5px,#450fb4 91.5px,#1c1ad7 92.5px,#1c1ad7 98.5px,#130ce5 99.5px,#ec001a 101.5px,#e8001e 104.5px,#1608e4 115.5px,#1008ea 118.5px,#62059c 119.5px,#ec001a 120.5px,#ec001a 123.5px,#d10133 125.5px,#1608e5 136.5px,#1008ea 140.5px,#d00134 141.5px,#ec001a 142.5px,#ec001a 144.5px,#e50021 145.5px,#1a08e0 156.5px,#1008ea 157.5px,#1008ea 160.5px,#ec001a 161.5px,#ec001a 164.5px,#e50021 165.5px,#1d08de 176.5px,#1008ea 177.5px,#1008ea 180.5px,#b5024e 181.5px,#ec001a 182.5px,#ec001a 184.5px,#e40022 185.5px,#84047c 191px)"></b><b style="left:94px;background:linear-gradient(180deg,#ec001a 0px,#e30022 2.5px,#1108e9 19.5px,#1008ea 24.5px,#d00134 25.5px,#ec001a 26.5px,#e8001e 31.5px,#1108e9 49.5px,#1008ea 54.5px,#8c0475 55.5px,#ec001a 56.5px,#e9001d 61.5px,#1408e6 78.5px,#1008ea 83.5px,#62059c 84.5px,#ec001a 85.5px,#eb001b 90.5px,#430fb5 91.5px,#1c1ad7 92.5px,#1c1ad7 98.5px,#130ce5 99.5px,#d00134 100.5px,#ec001a 101.5px,#ec001a 103.5px,#e40021 104.5px,#1808e2 115.5px,#1008ea 117.5px,#1008ea 118.5px,#2c07d0 119.5px,#ec001a 120.5px,#ec001a 123.5px,#e60020 124.5px,#1708e3 136.5px,#1008ea 138.5px,#1008ea 140.5px,#b5024e 141.5px,#ec001a 142.5px,#e50020 145.5px,#1b08e0 156.5px,#1008ea 157.5px,#1008ea 160.5px,#de0027 161.5px,#ec001a 162.5px,#ec001a 164.5px,#e50021 165.5px,#1b08e0 176.5px,#1008ea 177.5px,#1008ea 180.5px,#d00134 181.5px,#ec001a 182.5px,#ec001a 184.5px,#cf0136 186.5px,#83047d 191px)"></b><b style="left:96px;background:linear-gradient(180deg,#ec001a 0px,#e7001f 2.5px,#1208e8 19.5px,#1008ea 24.5px,#8c0475 25.5px,#ec001a 26.5px,#ea001b 31.5px,#1308e7 49.5px,#1008ea 54.5px,#4706b6 55.5px,#ec001a 56.5px,#eb001b 61.5px,#1808e3 78.5px,#1008ea 80.5px,#1008ea 83.5px,#1e08dd 84.5px,#ec001a 85.5px,#ec001a 90.5px,#420fb7 91.5px,#1c1ad7 92.5px,#1c1ad7 98.5px,#3c0bbe 99.5px,#ec001a 100.5px,#ec001a 103.5px,#bd0246 106.5px,#1c08df 115.5px,#1008ea 116.5px,#1008ea 119.5px,#a7025b 120.5px,#ec001a 121.5px,#e9001d 124.5px,#1708e4 136.5px,#1008ea 138.5px,#1008ea 140.5px,#ec001a 141.5px,#ec001a 144.5px,#e40021 145.5px,#1d08de 156.5px,#1008ea 157.5px,#1008ea 160.5px,#b5024e 161.5px,#ec001a 162.5px,#e50020 165.5px,#1708e3 176.5px,#1008ea 178.5px,#1008ea 179.5px,#4706b6 180.5px,#ec001a 181.5px,#eb001b 184.5px,#82047e 191px)"></b><b style="left:98px;background:linear-gradient(180deg,#ec001a 0px,#e9001c 2.5px,#1508e5 19.5px,#1008ea 24.5px,#5506a9 25.5px,#ec001a 26.5px,#ec001a 31.5px,#1608e5 49.5px,#1008ea 54.5px,#1008ea 55.5px,#ec001a 56.5px,#ec001a 61.5px,#1108e9 79.5px,#1008ea 84.5px,#c30241 85.5px,#ec001a 86.5px,#ec001a 90.5px,#400fb8 91.5px,#1c1ad7 92.5px,#1c1ad7 98.5px,#81087d 99.5px,#ec001a 100.5px,#ec001a 103.5px,#770489 110.5px,#1108e9 116.5px,#1008ea 119.5px,#62059c 120.5px,#ec001a 121.5px,#eb001b 124.5px,#1708e4 136.5px,#1008ea 139.5px,#1008ea 140.5px,#ec001a 141.5px,#ec001a 144.5px,#e30022 145.5px,#1108e9 157.5px,#1008ea 160.5px,#8c0475 161.5px,#ec001a 162.5px,#e60020 165.5px,#1408e7 176.5px,#1008ea 179.5px,#9a0368 180.5px,#ec001a 181.5px,#ea001c 184.5px,#82047e 191px)"></b><b style="left:100px;background:linear-gradient(180deg,#ec001a 0px,#eb001b 2.5px,#1008ea 20.5px,#1008ea 25.5px,#ec001a 26.5px,#ec001a 31.5px,#ce0136 34.5px,#1008ea 50.5px,#1008ea 55.5px,#a7025b 56.5px,#ec001a 57.5px,#e7001e 62.5px,#1308e7 79.5px,#1008ea 84.5px,#ec001a 86.5px,#ec001a 90.5px,#410fb8 91.5px,#1c1ad7 92.5px,#1c1ad7 98.5px,#660a97 99.5px,#ec001a 100.5px,#ec001a 103.5px,#be0245 106.5px,#1208e8 116.5px,#1008ea 119.5px,#4706b6 120.5px,#ec001a 121.5px,#ec001a 124.5px,#a90259 128.5px,#1808e3 136.5px,#1008ea 138.5px,#1008ea 140.5px,#ec001a 141.5px,#ec001a 144.5px,#e40022 145.5px,#1e08dd 156.5px,#1108e9 157.5px,#1008ea 160.5px,#a7025b 161.5px,#ec001a 162.5px,#ec001a 164.5px,#e40021 165.5px,#1208e8 176.5px,#1008ea 179.5px,#b5024e 180.5px,#ec001a 181.5px,#e9001c 184.5px,#83047d 191px)"></b><b style="left:102px;background:linear-gradient(180deg,#ec001a 0px,#ec001a 2.5px,#8d0374 10.5px,#1108e9 20.5px,#1008ea 25.5px,#b5024e 26.5px,#ec001a 27.5px,#e9001d 32.5px,#1208e9 50.5px,#1008ea 55.5px,#70048f 56.5px,#ec001a 57.5px,#ea001c 62.5px,#1508e5 79.5px,#1008ea 84.5px,#4706b6 85.5px,#ec001a 86.5px,#ec001a 90.5px,#420fb7 91.5px,#1c1ad7 92.5px,#1c1ad7 98.5px,#210cd8 99.5px,#ec001a 100.5px,#ec001a 103.5px,#e50021 104.5px,#1308e8 116.5px,#1008ea 119.5px,#4706b6 120.5px,#ec001a 121.5px,#ec001a 124.5px,#aa0259 128.5px,#1b08e0 136.5px,#1008ea 137.5px,#1008ea 140.5px,#c30241 141.5px,#ec001a 142.5px,#e60020 145.5px,#1a08e0 156.5px,#1008ea 157.5px,#1008ea 159.5px,#1e08dd 160.5px,#de0027 161.5px,#ec001a 162.5px,#ec001a 164.5px,#cd0137 166.5px,#1208e8 176.5px,#1008ea 179.5px,#a7025b 180.5px,#ec001a 181.5px,#ea001c 184.5px,#84047c 191px)"></b><b style="left:104px;background:linear-gradient(180deg,#ec001a 0px,#e8001e 3.5px,#1308e7 20.5px,#1008ea 25.5px,#ec001a 27.5px,#eb001b 32.5px,#1408e7 50.5px,#1008ea 55.5px,#3906c3 56.5px,#ec001a 57.5px,#eb001b 62.5px,#1008ea 80.5px,#1008ea 85.5px,#ec001a 86.5px,#ec001a 90.5px,#440fb5 91.5px,#1c1ad7 92.5px,#1c1ad7 98.5px,#130ce5 99.5px,#b5024e 100.5px,#ec001a 101.5px,#e8001e 104.5px,#1308e8 116.5px,#1008ea 119.5px,#70048f 120.5px,#ec001a 121.5px,#ec001a 124.5px,#870479 130.5px,#1108e9 137.5px,#1008ea 140.5px,#8c0475 141.5px,#ec001a 142.5px,#e7001f 145.5px,#1608e5 156.5px,#1008ea 159.5px,#62059c 160.5px,#ec001a 161.5px,#eb001b 164.5px,#1408e7 176.5px,#1008ea 179.5px,#62059c 180.5px,#ec001a 181.5px,#ec001a 184.5px,#86047b 191px)"></b><b style="left:106px;background:linear-gradient(180deg,#ec001a 0px,#ea001c 3.5px,#1508e5 20.5px,#1008ea 25.5px,#4706b6 26.5px,#ec001a 27.5px,#ec001a 32.5px,#1608e4 50.5px,#1008ea 53.5px,#1008ea 56.5px,#de0027 57.5px,#ec001a 58.5px,#ec001a 62.5px,#990368 69.5px,#1108e9 80.5px,#1008ea 85.5px,#b5024e 86.5px,#ec001a 87.5px,#ec001a 90.5px,#450fb4 91.5px,#1c1ad7 92.5px,#1c1ad7 98.5px,#130ce5 99.5px,#9a0368 100.5px,#ec001a 101.5px,#e9001d 104.5px,#1308e7 116.5px,#1008ea 119.5px,#5506a9 120.5px,#ec001a 121.5px,#ec001a 124.5px,#bd0246 127.5px,#1108e9 137.5px,#1008ea 140.5px,#ec001a 142.5px,#e7001f 145.5px,#1308e8 156.5px,#1008ea 159.5px,#b5024e 160.5px,#ec001a 161.5px,#e9001d 164.5px,#1608e4 176.5px,#1008ea 179.5px,#1e08dd 180.5px,#ec001a 181.5px,#ec001a 184.5px,#d00134 186.5px,#87047a 191px)"></b><b style="left:108px;background:linear-gradient(180deg,#ec001a 0px,#eb001b 3.5px,#1008ea 21.5px,#1008ea 26.5px,#ec001a 27.5px,#e7001f 33.5px,#1008ea 51.5px,#1008ea 56.5px,#a7025b 57.5px,#ec001a 58.5px,#e8001e 63.5px,#1308e7 80.5px,#1008ea 85.5px,#ec001a 87.5px,#ec001a 90.5px,#440fb5 91.5px,#1c1ad7 92.5px,#1c1ad7 98.5px,#130ce5 99.5px,#b5024e 100.5px,#ec001a 101.5px,#e9001d 104.5px,#1608e4 116.5px,#1008ea 119.5px,#1e08dd 120.5px,#ec001a 121.5px,#ec001a 124.5px,#e30022 125.5px,#1d08dd 136.5px,#1108ea 137.5px,#1008ea 140.5px,#a7025b 141.5px,#ec001a 142.5px,#ec001a 144.5px,#e40022 145.5px,#1208e9 156.5px,#1008ea 159.5px,#b5024e 160.5px,#ec001a 161.5px,#e9001d 164.5px,#1808e3 176.5px,#1008ea 178.5px,#1008ea 180.5px,#c30241 181.5px,#ec001a 182.5px,#ec001a 184.5px,#e40021 185.5px,#870479 191px)"></b><b style="left:110px;background:linear-gradient(180deg,#ec001a 0px,#ec001a 3.5px,#800480 12.5px,#1108e9 21.5px,#1008ea 26.5px,#b5024e 27.5px,#ec001a 28.5px,#e9001d 33.5px,#1108e9 51.5px,#1008ea 56.5px,#70048f 57.5px,#ec001a 58.5px,#ea001c 63.5px,#1508e5 80.5px,#1008ea 85.5px,#4706b6 86.5px,#ec001a 87.5px,#ec001a 90.5px,#440fb5 91.5px,#1c1ad7 92.5px,#1c1ad7 98.5px,#130ce5 99.5px,#b5024e 100.5px,#ec001a 101.5px,#e9001d 104.5px,#1a08e1 116.5px,#1008ea 117.5px,#1008ea 120.5px,#a7025b 121.5px,#ec001a 122.5px,#e6001f 125.5px,#1908e2 136.5px,#1008ea 138.5px,#1008ea 139.5px,#2c07d0 140.5px,#ec001a 141.5px,#ec001a 144.5px,#a6035c 148.5px,#1208e8 156.5px,#1008ea 159.5px,#9a0368 160.5px,#ec001a 161.5px,#ea001c 164.5px,#1708e3 176.5px,#1008ea 178.5px,#1008ea 180.5px,#ec001a 181.5px,#ec001a 184.5px,#e30022 185.5px,#87047a 191px)"></b><b style="left:112px;background:linear-gradient(180deg,#ec001a 0px,#e7001f 4.5px,#1308e8 21.5px,#1008ea 26.5px,#ec001a 28.5px,#eb001b 33.5px,#1308e7 51.5px,#1008ea 56.5px,#4706b6 57.5px,#ec001a 58.5px,#eb001b 63.5px,#1008ea 81.5px,#1008ea 86.5px,#ec001a 87.5px,#ec001a 90.5px,#440fb5 91.5px,#1c1ad7 92.5px,#1c1ad7 98.5px,#130ce5 99.5px,#b5024e 100.5px,#ec001a 101.5px,#ea001c 104.5px,#1108e9 117.5px,#1008ea 120.5px,#ec001a 122.5px,#e8001e 125.5px,#1508e6 136.5px,#1008ea 139.5px,#8c0475 140.5px,#ec001a 141.5px,#ea001c 144.5px,#1308e7 156.5px,#1008ea 159.5px,#62059c 160.5px,#ec001a 161.5px,#eb001b 164.5px,#1608e4 176.5px,#1008ea 179.5px,#2c07d0 180.5px,#ec001a 181.5px,#ec001a 184.5px,#cf0135 186.5px,#86047a 191px)"></b><b style="left:114px;background:linear-gradient(180deg,#ec001a 0px,#e9001d 4.5px,#1508e6 21.5px,#1008ea 26.5px,#5506a9 27.5px,#ec001a 28.5px,#ec001a 33.5px,#1508e5 51.5px,#1008ea 57.5px,#ec001a 58.5px,#ec001a 63.5px,#1108e9 81.5px,#1008ea 86.5px,#c30241 87.5px,#ec001a 88.5px,#ec001a 90.5px,#450fb4 91.5px,#1c1ad7 92.5px,#1c1ad7 98.5px,#130ce5 99.5px,#8c0475 100.5px,#ec001a 101.5px,#eb001b 104.5px,#1108e9 117.5px,#1008ea 120.5px,#ec001a 122.5px,#e6001f 125.5px,#1308e8 136.5px,#1008ea 139.5px,#b5024e 140.5px,#ec001a 141.5px,#e9001d 144.5px,#1508e6 156.5px,#1008ea 159.5px,#4706b6 160.5px,#ec001a 161.5px,#ec001a 164.5px,#ba0249 167.5px,#1508e5 176.5px,#1008ea 179.5px,#4706b6 180.5px,#ec001a 181.5px,#ec001a 184.5px,#aa0258 188.5px,#86047a 191px)"></b><b style="left:116px;background:linear-gradient(180deg,#ec001a 0px,#eb001b 4.5px,#1708e3 21.5px,#1008ea 23.5px,#1008ea 26.5px,#1e08dd 27.5px,#ec001a 28.5px,#ec001a 33.5px,#c10242 37.5px,#1008ea 52.5px,#1008ea 57.5px,#b5024e 58.5px,#ec001a 59.5px,#e6001f 64.5px,#1208e8 81.5px,#1008ea 86.5px,#8c0475 87.5px,#ec001a 88.5px,#ec001a 90.5px,#490fb0 91.5px,#2019d3 92.5px,#2019d3 98.5px,#140ce4 99.5px,#2c07d0 100.5px,#ec001a 101.5px,#ec001a 104.5px,#d00134 106.5px,#1b08df 116.5px,#1008ea 117.5px,#1008ea 120.5px,#c30241 121.5px,#ec001a 122.5px,#ec001a 124.5px,#e30023 125.5px,#1208e8 136.5px,#1008ea 139.5px,#b5024e 140.5px,#ec001a 141.5px,#e9001d 144.5px,#1408e6 156.5px,#1008ea 159.5px,#4706b6 160.5px,#ec001a 161.5px,#ec001a 164.5px,#a8025a 168.5px,#1608e4 176.5px,#1008ea 179.5px,#4706b6 180.5px,#ec001a 181.5px,#ec001a 184.5px,#bc0247 187.5px,#86047b 191px)"></b><b style="left:118px;background:linear-gradient(180deg,#ec001a 0px,#ec001a 4.5px,#1108e9 22.5px,#1008ea 27.5px,#d00134 28.5px,#ec001a 29.5px,#e8001e 34.5px,#1108e9 52.5px,#1008ea 57.5px,#8c0475 58.5px,#ec001a 59.5px,#e9001d 64.5px,#1408e6 81.5px,#1008ea 86.5px,#62059c 87.5px,#ec001a 88.5px,#ec001a 90.5px,#500eaa 91.5px,#2917cb 92.5px,#2917cb 98.5px,#190db2 99.5px,#1108da 100.5px,#a7025b 101.5px,#ec001a 102.5px,#e60020 105.5px,#1708e3 116.5px,#1008ea 118.5px,#1008ea 119.5px,#3906c3 120.5px,#ec001a 121.5px,#eb001b 124.5px,#1308e7 136.5px,#1008ea 139.5px,#ec001a 141.5px,#ea001c 144.5px,#1308e7 156.5px,#1008ea 159.5px,#62059c 160.5px,#ec001a 161.5px,#eb001b 164.5px,#1808e2 176.5px,#1008ea 178.5px,#1008ea 180.5px,#ec001a 181.5px,#ec001a 184.5px,#cf0135 186.5px,#85047c 191px)"></b><b style="left:120px;background:linear-gradient(180deg,#ec001a 0px,#ec001a 4.5px,#cc0138 7.5px,#1208e8 22.5px,#1008ea 27.5px,#9a0368 28.5px,#ec001a 29.5px,#ea001c 34.5px,#1208e8 52.5px,#1008ea 57.5px,#62059c 58.5px,#ec001a 59.5px,#ea001c 64.5px,#1608e4 81.5px,#1008ea 84.5px,#1008ea 86.5px,#2c07d0 87.5px,#ec001a 88.5px,#ec001a 90.5px,#550da6 91.5px,#3215c3 92.5px,#3215c3 98.5px,#1b0db0 99.5px,#1108da 100.5px,#7e0482 101.5px,#ec001a 102.5px,#e7001f 105.5px,#1408e6 116.5px,#1008ea 119.5px,#ec001a 121.5px,#ea001c 124.5px,#1308e7 136.5px,#1008ea 139.5px,#5506a9 140.5px,#ec001a 141.5px,#eb001b 144.5px,#1208e8 156.5px,#1008ea 159.5px,#ec001a 161.5px,#eb001b 164.5px,#1a08e0 176.5px,#1008ea 177.5px,#1008ea 180.5px,#b5024e 181.5px,#ec001a 182.5px,#ec001a 184.5px,#e30022 185.5px,#83047e 191px)"></b><b style="left:122px;background:linear-gradient(180deg,#ec001a 0px,#e8001e 5.5px,#1308e7 22.5px,#1008ea 27.5px,#70048f 28.5px,#ec001a 29.5px,#eb001b 34.5px,#1408e6 52.5px,#1008ea 57.5px,#2c07d0 58.5px,#ec001a 59.5px,#eb001b 64.5px,#1008ea 82.5px,#1008ea 87.5px,#de0027 88.5px,#ec001a 89.5px,#ec001a 90.5px,#580ca2 91.5px,#3a14bc 92.5px,#3a14bc 98.5px,#1e0cae 99.5px,#1108da 100.5px,#a7025b 101.5px,#ec001a 102.5px,#ec001a 104.5px,#e50021 105.5px,#1308e7 116.5px,#1008ea 119.5px,#ec001a 121.5px,#e9001d 124.5px,#1308e7 136.5px,#1008ea 139.5px,#62059c 140.5px,#ec001a 141.5px,#eb001b 144.5px,#1308e7 156.5px,#1008ea 159.5px,#ec001a 161.5px,#eb001b 164.5px,#1b08e0 176.5px,#1008ea 177.5px,#1008ea 180.5px,#b5024e 181.5px,#ec001a 182.5px,#ec001a 184.5px,#e20023 185.5px,#800480 191px)"></b><b style="left:124px;background:linear-gradient(180deg,#ec001a 0px,#ea001c 5.5px,#1608e5 22.5px,#1008ea 27.5px,#4706b6 28.5px,#ec001a 29.5px,#ec001a 34.5px,#1608e4 52.5px,#1008ea 55.5px,#1008ea 58.5px,#de0027 59.5px,#ec001a 60.5px,#ec001a 64.5px,#a6035c 70.5px,#1108e9 82.5px,#1008ea 87.5px,#b5024e 88.5px,#ec001a 89.5px,#ec001a 90.5px,#5b0ba0 91.5px,#4312b4 92.5px,#4312b4 98.5px,#200cac 99.5px,#1f08cd 100.5px,#de0027 101.5px,#ec001a 102.5px,#ec001a 104.5px,#ce0136 106.5px,#1308e7 116.5px,#1008ea 119.5px,#ec001a 121.5px,#ea001c 124.5px,#1208e8 136.5px,#1008ea 139.5px,#8c0475 140.5px,#ec001a 141.5px,#ea001c 144.5px,#1508e6 156.5px,#1008ea 159.5px,#3906c3 160.5px,#ec001a 161.5px,#ec001a 164.5px,#bc0248 167.5px,#1808e2 176.5px,#1008ea 178.5px,#1008ea 179.5px,#1e08dd 180.5px,#de0027 181.5px,#ec001a 182.5px,#ec001a 184.5px,#a4035e 188.5px,#7d0483 191px)"></b><b style="left:126px;background:linear-gradient(180deg,#ec001a 0px,#eb001b 5.5px,#1008ea 23.5px,#1008ea 28.5px,#ec001a 29.5px,#ec001a 34.5px,#ce0136 37.5px,#1008ea 53.5px,#1008ea 58.5px,#a7025b 59.5px,#ec001a 60.5px,#e7001e 65.5px,#1308e7 82.5px,#1008ea 87.5px,#ec001a 89.5px,#ec001a 90.5px,#5e0a9d 91.5px,#4c10ac 92.5px,#4c10ac 98.5px,#220baa 99.5px,#560699 100.5px,#ec001a 101.5px,#eb001b 104.5px,#1408e6 116.5px,#1008ea 119.5px,#5506a9 120.5px,#ec001a 121.5px,#ea001c 124.5px,#1108e9 136.5px,#1008ea 139.5px,#b5024e 140.5px,#ec001a 141.5px,#e9001d 144.5px,#1808e3 156.5px,#1008ea 158.5px,#1008ea 160.5px,#d00134 161.5px,#ec001a 162.5px,#ec001a 164.5px,#e30023 165.5px,#1408e6 176.5px,#1008ea 179.5px,#70048f 180.5px,#ec001a 181.5px,#e9001c 184.5px,#7b0485 191px)"></b><b style="left:128px;background:linear-gradient(180deg,#ec001a 0px,#ec001a 5.5px,#1108e9 23.5px,#1008ea 28.5px,#b5024e 29.5px,#ec001a 30.5px,#e9001d 35.5px,#1108e9 53.5px,#1008ea 58.5px,#ec001a 60.5px,#e9001c 65.5px,#1508e5 82.5px,#1008ea 87.5px,#4706b6 88.5px,#ec001a 89.5px,#ec001a 90.5px,#62099a 91.5px,#550ea4 92.5px,#550ea4 98.5px,#240ba8 99.5px,#7f0472 100.5px,#ec001a 101.5px,#ea001b 104.5px,#1308e7 116.5px,#1008ea 119.5px,#70048f 120.5px,#ec001a 121.5px,#ea001c 124.5px,#1108e9 136.5px,#1008ea 139.5px,#b5024e 140.5px,#ec001a 141.5px,#e9001d 144.5px,#1a08e1 156.5px,#1008ea 157.5px,#1008ea 160.5px,#b5024e 161.5px,#ec001a 162.5px,#ec001a 164.5px,#e30022 165.5px,#1108e9 176.5px,#1008ea 179.5px,#d00134 180.5px,#ec001a 181.5px,#e7001f 184.5px,#7b0485 191px)"></b><b style="left:130px;background:linear-gradient(180deg,#b5024e 0px,#ec001a 1.5px,#e7001f 6.5px,#1208e8 23.5px,#1008ea 28.5px,#8c0475 29.5px,#ec001a 30.5px,#ea001b 35.5px,#1308e7 53.5px,#1008ea 58.5px,#4706b6 59.5px,#ec001a 60.5px,#eb001b 65.5px,#1808e3 82.5px,#1008ea 84.5px,#1008ea 87.5px,#1e08dd 88.5px,#ec001a 89.5px,#ec001a 90.5px,#670896 91.5px,#5d0c9c 92.5px,#5d0c9c 98.5px,#260ba7 99.5px,#560699 100.5px,#ec001a 101.5px,#eb001b 104.5px,#1208e8 116.5px,#1008ea 119.5px,#9a0368 120.5px,#ec001a 121.5px,#e8001d 124.5px,#1108e9 136.5px,#1008ea 139.5px,#9a0368 140.5px,#ec001a 141.5px,#ea001c 144.5px,#1908e1 156.5px,#1008ea 157.5px,#1008ea 160.5px,#c30241 161.5px,#ec001a 162.5px,#ec001a 164.5px,#ce0137 166.5px,#1e07dc 175.5px,#1108e9 176.5px,#1008ea 179.5px,#ec001a 180.5px,#ec001a 183.5px,#e50020 184.5px,#7b0485 191px)"></b><b style="left:132px;background:linear-gradient(180deg,#7e0482 0px,#ec001a 1.5px,#e9001d 6.5px,#1408e6 23.5px,#1008ea 28.5px,#5506a9 29.5px,#ec001a 30.5px,#ec001a 35.5px,#1508e5 53.5px,#1008ea 59.5px,#ec001a 60.5px,#ec001a 65.5px,#1108e9 83.5px,#1008ea 88.5px,#c30241 89.5px,#ec001a 90.5px,#6c0791 91.5px,#660a94 96.5px,#660a94 98.5px,#290aa5 99.5px,#4806a6 100.5px,#ec001a 101.5px,#eb001b 104.5px,#1d08dd 115.5px,#1008ea 116.5px,#1008ea 119.5px,#de0027 120.5px,#ec001a 121.5px,#e6001f 124.5px,#1408e7 136.5px,#1008ea 139.5px,#3906c3 140.5px,#ec001a 141.5px,#ec001a 144.5px,#a8025a 148.5px,#1608e4 156.5px,#1008ea 159.5px,#2c07d0 160.5px,#ec001a 161.5px,#eb001b 164.5px,#1e07dd 175.5px,#1108ea 176.5px,#1008ea 179.5px,#de0027 180.5px,#ec001a 181.5px,#e60020 184.5px,#7b0485 191px)"></b><b style="left:134px;background:linear-gradient(180deg,#5506a9 0px,#ec001a 1.5px,#eb001b 6.5px,#1708e3 23.5px,#1008ea 25.5px,#1008ea 28.5px,#1e08dd 29.5px,#ec001a 30.5px,#ec001a 35.5px,#c10242 39.5px,#1008ea 54.5px,#1008ea 59.5px,#c30241 60.5px,#ec001a 61.5px,#e6001f 66.5px,#1208e8 83.5px,#1008ea 88.5px,#8c0475 89.5px,#ec001a 90.5px,#70068d 91.5px,#6f088c 98.5px,#2b0aa3 99.5px,#4806a6 100.5px,#ec001a 101.5px,#ea001c 104.5px,#1b08e0 115.5px,#1008ea 116.5px,#1008ea 119.5px,#ec001a 120.5px,#ec001a 123.5px,#e60020 124.5px,#1608e4 136.5px,#1008ea 139.5px,#1008ea 140.5px,#de0027 141.5px,#ec001a 142.5px,#ec001a 144.5px,#cf0136 146.5px,#1308e7 156.5px,#1008ea 159.5px,#8c0475 160.5px,#ec001a 161.5px,#e9001d 164.5px,#1108e9 176.5px,#1008ea 179.5px,#b5024e 180.5px,#ec001a 181.5px,#e8001e 184.5px,#7c0484 191px)"></b><b style="left:136px;background:linear-gradient(180deg,#1e08dd 0px,#ec001a 1.5px,#ec001a 6.5px,#1108e9 24.5px,#1008ea 29.5px,#c30241 30.5px,#ec001a 31.5px,#e8001d 36.5px,#1108e9 54.5px,#1008ea 59.5px,#8c0475 60.5px,#ec001a 61.5px,#e9001d 66.5px,#1408e6 83.5px,#1008ea 88.5px,#5506a9 89.5px,#ec001a 90.5px,#73068b 91.5px,#780684 94.5px,#780684 98.5px,#2d09a1 99.5px,#8d0465 100.5px,#ec001a 101.5px,#e9001d 104.5px,#1b08df 115.5px,#1008ea 116.5px,#1008ea 119.5px,#ec001a 120.5px,#e7001f 124.5px,#1708e3 136.5px,#1008ea 138.5px,#1008ea 140.5px,#b5024e 141.5px,#ec001a 142.5px,#ec001a 144.5px,#e20024 145.5px,#1108e9 156.5px,#1008ea 159.5px,#b5024e 160.5px,#ec001a 161.5px,#e7001f 164.5px,#1108e9 176.5px,#1008ea 179.5px,#ec001a 181.5px,#e9001d 184.5px,#7d0483 191px)"></b><b style="left:138px;background:linear-gradient(180deg,#1008ea 0px,#c30241 1.5px,#ec001a 2.5px,#e6001f 7.5px,#1208e8 24.5px,#1008ea 29.5px,#8c0475 30.5px,#ec001a 31.5px,#ea001c 36.5px,#1308e8 54.5px,#1008ea 59.5px,#5506a9 60.5px,#ec001a 61.5px,#eb001b 66.5px,#1708e3 83.5px,#1008ea 85.5px,#1008ea 88.5px,#1e08dd 89.5px,#ec001a 90.5px,#750588 91.5px,#80057d 92.5px,#80057d 98.5px,#2f099f 99.5px,#b6023e 100.5px,#ec001a 101.5px,#e60020 104.5px,#1108e9 116.5px,#1008ea 119.5px,#9a0368 120.5px,#ec001a 121.5px,#ea001c 124.5px,#1608e4 136.5px,#1008ea 139.5px,#1e08dd 140.5px,#ec001a 141.5px,#ec001a 144.5px,#b9024b 147.5px,#1108e9 156.5px,#1008ea 159.5px,#b5024e 160.5px,#ec001a 161.5px,#e6001f 164.5px,#1108e9 176.5px,#1008ea 179.5px,#9a0368 180.5px,#ec001a 181.5px,#e9001d 184.5px,#7e0482 191px)"></b><b style="left:140px;background:linear-gradient(180deg,#1008ea 0px,#ec001a 2.5px,#e9001d 7.5px,#1408e6 24.5px,#1008ea 29.5px,#5506a9 30.5px,#ec001a 31.5px,#ec001a 36.5px,#1508e5 54.5px,#1008ea 60.5px,#ec001a 61.5px,#ec001a 66.5px,#1108e9 84.5px,#1008ea 89.5px,#c30241 90.5px,#780486 91.5px,#890375 92.5px,#890375 98.5px,#31089d 99.5px,#b6023e 100.5px,#ec001a 101.5px,#ec001a 103.5px,#d20133 105.5px,#1308e8 116.5px,#1008ea 119.5px,#5506a9 120.5px,#ec001a 121.5px,#eb001b 124.5px,#1408e6 136.5px,#1008ea 139.5px,#62059c 140.5px,#ec001a 141.5px,#ea001c 144.5px,#1108e9 156.5px,#1008ea 159.5px,#b5024e 160.5px,#ec001a 161.5px,#e7001e 164.5px,#1d08de 175.5px,#1008ea 176.5px,#1008ea 179.5px,#c30241 180.5px,#ec001a 181.5px,#e9001d 184.5px,#800480 191px)"></b><b style="left:142px;background:linear-gradient(180deg,#1008ea 0px,#4706b6 1.5px,#ec001a 2.5px,#eb001b 7.5px,#1808e3 24.5px,#1008ea 26.5px,#1008ea 29.5px,#1e08dd 30.5px,#ec001a 31.5px,#ec001a 36.5px,#ce0137 39.5px,#1008ea 55.5px,#1008ea 60.5px,#b5024e 61.5px,#ec001a 62.5px,#e7001f 67.5px,#1208e8 84.5px,#1008ea 89.5px,#8c0475 90.5px,#7c0382 91.5px,#92016d 92.5px,#92016d 98.5px,#33089b 99.5px,#b6023e 100.5px,#ec001a 101.5px,#ec001a 103.5px,#d20133 105.5px,#1408e6 116.5px,#1008ea 120.5px,#ec001a 121.5px,#ec001a 124.5px,#b9024a 127.5px,#1208e8 136.5px,#1008ea 139.5px,#9a0368 140.5px,#ec001a 141.5px,#e9001d 144.5px,#1108e9 156.5px,#1008ea 159.5px,#ec001a 161.5px,#e8001e 164.5px,#1c08df 175.5px,#1008ea 176.5px,#1008ea 179.5px,#ec001a 180.5px,#e8001d 184.5px,#83047e 191px)"></b><b style="left:144px;background:linear-gradient(180deg,#1008ea 0px,#1008ea 1.5px,#ec001a 2.5px,#ec001a 7.5px,#1108e9 25.5px,#1008ea 30.5px,#c30241 31.5px,#ec001a 32.5px,#e9001d 37.5px,#1108e9 55.5px,#1008ea 60.5px,#ec001a 62.5px,#e9001d 67.5px,#1508e5 84.5px,#1008ea 89.5px,#5506a9 90.5px,#880279 91.5px,#a6005b 92.5px,#a6005b 98.5px,#390896 99.5px,#b6023e 100.5px,#ec001a 101.5px,#e60020 104.5px,#1408e6 116.5px,#1008ea 119.5px,#2c07d0 120.5px,#ec001a 121.5px,#ec001a 124.5px,#93036e 129.5px,#1208e8 136.5px,#1008ea 139.5px,#b5024e 140.5px,#ec001a 141.5px,#e8001e 144.5px,#1108e9 156.5px,#1008ea 159.5px,#a7025b 160.5px,#ec001a 161.5px,#e8001e 164.5px,#1d08de 175.5px,#1008ea 176.5px,#1008ea 179.5px,#d00134 180.5px,#ec001a 181.5px,#ea001c 184.5px,#85047b 191px)"></b><b style="left:146px;background:linear-gradient(180deg,#1008ea 0px,#1008ea 1.5px,#a7025b 2.5px,#ec001a 3.5px,#e7001f 8.5px,#1308e8 25.5px,#1008ea 30.5px,#ec001a 32.5px,#eb001b 37.5px,#1308e7 55.5px,#1008ea 60.5px,#3906c3 61.5px,#ec001a 62.5px,#eb001b 67.5px,#1008ea 85.5px,#1008ea 90.5px,#a20262 91.5px,#d70032 92.5px,#d70032 98.5px,#45088c 99.5px,#a8034b 100.5px,#ec001a 101.5px,#e9001d 104.5px,#1308e7 116.5px,#1008ea 119.5px,#62059c 120.5px,#ec001a 121.5px,#eb001b 124.5px,#1208e8 136.5px,#1008ea 139.5px,#8c0475 140.5px,#ec001a 141.5px,#e8001e 144.5px,#1c08de 155.5px,#1008ea 156.5px,#1008ea 159.5px,#d00134 160.5px,#ec001a 161.5px,#e60020 164.5px,#1208e8 176.5px,#1008ea 179.5px,#ec001a 181.5px,#eb001b 184.5px,#880478 191px)"></b><b style="left:148px;background:linear-gradient(180deg,#1008ea 0px,#1008ea 1.5px,#70048f 2.5px,#ec001a 3.5px,#ea001c 8.5px,#1508e5 25.5px,#1008ea 30.5px,#4706b6 31.5px,#ec001a 32.5px,#ec001a 37.5px,#1608e4 55.5px,#1008ea 58.5px,#1008ea 61.5px,#de0027 62.5px,#ec001a 63.5px,#ec001a 67.5px,#8d0374 75.5px,#1108e9 85.5px,#1008ea 90.5px,#a30261 91.5px,#d70032 92.5px,#d70032 98.5px,#45088c 99.5px,#71057f 100.5px,#ec001a 101.5px,#ea001c 104.5px,#1208e8 116.5px,#1008ea 119.5px,#8c0475 120.5px,#ec001a 121.5px,#e9001d 124.5px,#1208e8 136.5px,#1008ea 139.5px,#ec001a 141.5px,#e9001d 144.5px,#1908e1 155.5px,#1008ea 156.5px,#1008ea 158.5px,#3906c3 159.5px,#ec001a 160.5px,#ec001a 163.5px,#e40021 164.5px,#1508e5 176.5px,#1008ea 179.5px,#1e08dd 180.5px,#de0027 181.5px,#ec001a 182.5px,#ec001a 184.5px,#e40021 185.5px,#8b0476 191px)"></b><b style="left:150px;background:linear-gradient(180deg,#1008ea 0px,#1008ea 1.5px,#3906c3 2.5px,#ec001a 3.5px,#eb001b 8.5px,#1008ea 26.5px,#1008ea 31.5px,#de0027 32.5px,#ec001a 33.5px,#e7001f 38.5px,#1008ea 56.5px,#1008ea 61.5px,#a7025b 62.5px,#ec001a 63.5px,#e8001e 68.5px,#1308e7 85.5px,#1008ea 90.5px,#a30261 91.5px,#d70032 92.5px,#d70032 98.5px,#45088c 99.5px,#560699 100.5px,#ec001a 101.5px,#ea001b 104.5px,#1208e8 116.5px,#1008ea 119.5px,#a7025b 120.5px,#ec001a 121.5px,#e9001d 124.5px,#1208e8 136.5px,#1008ea 139.5px,#ec001a 141.5px,#e8001e 144.5px,#1808e3 155.5px,#1008ea 157.5px,#1008ea 158.5px,#4706b6 159.5px,#ec001a 160.5px,#ec001a 163.5px,#e50021 164.5px,#1908e1 176.5px,#1008ea 177.5px,#1008ea 180.5px,#9a0368 181.5px,#ec001a 182.5px,#e8001e 185.5px,#8c0375 191px)"></b><b style="left:152px;background:linear-gradient(180deg,#1008ea 0px,#1008ea 2.5px,#d00134 3.5px,#ec001a 4.5px,#ec001a 8.5px,#c00244 12.5px,#1108e9 26.5px,#1008ea 31.5px,#a7025b 32.5px,#ec001a 33.5px,#ea001c 38.5px,#1208e8 56.5px,#1008ea 61.5px,#62059c 62.5px,#ec001a 63.5px,#ea001c 68.5px,#1608e4 85.5px,#1008ea 88.5px,#1008ea 90.5px,#a30261 91.5px,#d70032 92.5px,#d70032 98.5px,#45088c 99.5px,#7f0472 100.5px,#ec001a 101.5px,#ea001c 104.5px,#1208e8 116.5px,#1008ea 119.5px,#ec001a 121.5px,#e9001d 124.5px,#1108e9 136.5px,#1008ea 139.5px,#c30241 140.5px,#ec001a 141.5px,#e60020 144.5px,#1a08e1 155.5px,#1008ea 156.5px,#1008ea 158.5px,#1e08dd 159.5px,#ec001a 160.5px,#e8001e 164.5px,#1c08df 176.5px,#1008ea 177.5px,#1008ea 180.5px,#ec001a 182.5px,#e9001d 185.5px,#8c0375 191px)"></b><b style="left:154px;background:linear-gradient(180deg,#1008ea 0px,#1008ea 2.5px,#9a0368 3.5px,#ec001a 4.5px,#e8001d 9.5px,#1408e7 26.5px,#1008ea 31.5px,#62059c 32.5px,#ec001a 33.5px,#eb001b 38.5px,#1408e6 56.5px,#1008ea 61.5px,#2c07d0 62.5px,#ec001a 63.5px,#ec001a 68.5px,#1008ea 86.5px,#1008ea 90.5px,#a20262 91.5px,#d70032 92.5px,#d70032 98.5px,#45088c 99.5px,#b6023e 100.5px,#ec001a 101.5px,#e9001d 104.5px,#1308e7 116.5px,#1008ea 119.5px,#5506a9 120.5px,#ec001a 121.5px,#ea001c 124.5px,#1a08e1 135.5px,#1008ea 136.5px,#1008ea 138.5px,#2c07d0 139.5px,#ec001a 140.5px,#ec001a 143.5px,#d10134 145.5px,#1108e9 156.5px,#1008ea 159.5px,#9a0368 160.5px,#ec001a 161.5px,#eb001b 164.5px,#1c08df 176.5px,#1008ea 177.5px,#1008ea 180.5px,#9a0368 181.5px,#ec001a 182.5px,#e8001e 185.5px,#8b0475 191px)"></b><b style="left:156px;background:linear-gradient(180deg,#1008ea 0px,#1008ea 2.5px,#5506a9 3.5px,#ec001a 4.5px,#eb001b 9.5px,#1708e3 26.5px,#1008ea 28.5px,#1008ea 31.5px,#2c07d0 32.5px,#ec001a 33.5px,#ec001a 38.5px,#b5024e 43.5px,#1008ea 57.5px,#1008ea 62.5px,#c30241 63.5px,#ec001a 64.5px,#ec001a 68.5px,#cd0137 71.5px,#1208e8 86.5px,#1008ea 90.5px,#990269 91.5px,#c70040 92.5px,#c70040 98.5px,#41088f 99.5px,#b6023e 100.5px,#ec001a 101.5px,#e8001e 104.5px,#1308e7 116.5px,#1008ea 119.5px,#4706b6 120.5px,#ec001a 121.5px,#e9001d 124.5px,#1608e4 135.5px,#1008ea 138.5px,#70048f 139.5px,#ec001a 140.5px,#ec001a 143.5px,#be0245 146.5px,#1308e7 156.5px,#1008ea 159.5px,#2c07d0 160.5px,#ec001a 161.5px,#ec001a 164.5px,#cf0135 166.5px,#1b08e0 176.5px,#1008ea 177.5px,#1008ea 180.5px,#d00134 181.5px,#ec001a 182.5px,#e60020 185.5px,#8b0476 191px)"></b><b style="left:158px;background:linear-gradient(180deg,#1008ea 0px,#1008ea 2.5px,#1e08dd 3.5px,#ec001a 4.5px,#ec001a 9.5px,#1108e9 27.5px,#1008ea 32.5px,#c30241 33.5px,#ec001a 34.5px,#e9001d 39.5px,#1108e9 57.5px,#1008ea 62.5px,#8c0475 63.5px,#ec001a 64.5px,#e9001d 69.5px,#1408e6 86.5px,#1008ea 90.5px,#5007b4 91.5px,#320ad7 92.5px,#320ad7 98.5px,#1c0ab5 99.5px,#8d0465 100.5px,#ec001a 101.5px,#e9001d 104.5px,#1208e8 116.5px,#1008ea 119.5px,#8c0475 120.5px,#ec001a 121.5px,#e7001e 124.5px,#1608e4 135.5px,#1008ea 138.5px,#62059c 139.5px,#ec001a 140.5px,#ec001a 143.5px,#d10133 145.5px,#1608e5 156.5px,#1008ea 160.5px,#d00134 161.5px,#ec001a 162.5px,#ec001a 164.5px,#e40021 165.5px,#1a08e0 176.5px,#1008ea 177.5px,#1008ea 180.5px,#ec001a 181.5px,#ec001a 184.5px,#e50021 185.5px,#8a0477 191px)"></b><b style="left:160px;background:linear-gradient(180deg,#1008ea 0px,#1008ea 3.5px,#a7025b 4.5px,#ec001a 5.5px,#e7001f 10.5px,#1308e8 27.5px,#1008ea 32.5px,#8c0475 33.5px,#ec001a 34.5px,#eb001b 39.5px,#1308e7 57.5px,#1008ea 62.5px,#3906c3 63.5px,#ec001a 64.5px,#eb001b 69.5px,#1008ea 87.5px,#1008ea 90.5px,#5107b3 91.5px,#320ad7 92.5px,#320ad7 98.5px,#1c0ab5 99.5px,#560699 100.5px,#ec001a 101.5px,#ea001c 104.5px,#1d08de 115.5px,#1008ea 116.5px,#1008ea 119.5px,#de0027 120.5px,#ec001a 121.5px,#ec001a 123.5px,#e30022 124.5px,#1808e2 135.5px,#1008ea 137.5px,#1008ea 138.5px,#2c07d0 139.5px,#ec001a 140.5px,#ec001a 143.5px,#e60020 144.5px,#1608e4 156.5px,#1008ea 159.5px,#1008ea 160.5px,#d00134 161.5px,#ec001a 162.5px,#ec001a 164.5px,#e50021 165.5px,#1b08df 176.5px,#1008ea 177.5px,#1008ea 180.5px,#d00134 181.5px,#ec001a 182.5px,#ec001a 184.5px,#e50021 185.5px,#890477 191px)"></b><b style="left:162px;background:linear-gradient(180deg,#1008ea 0px,#1008ea 3.5px,#70048f 4.5px,#ec001a 5.5px,#ea001c 10.5px,#1508e5 27.5px,#1008ea 32.5px,#3906c3 33.5px,#ec001a 34.5px,#ec001a 39.5px,#1608e4 57.5px,#1008ea 60.5px,#1008ea 63.5px,#de0027 64.5px,#ec001a 65.5px,#ec001a 69.5px,#990368 76.5px,#1108e9 87.5px,#1008ea 90.5px,#88037b 91.5px,#9e0269 92.5px,#9e0269 98.5px,#36089a 99.5px,#4806a6 100.5px,#ec001a 101.5px,#ea001c 104.5px,#1808e2 115.5px,#1008ea 117.5px,#1008ea 118.5px,#5506a9 119.5px,#ec001a 120.5px,#ec001a 123.5px,#ab0258 127.5px,#1c08de 135.5px,#1008ea 136.5px,#1008ea 139.5px,#9a0368 140.5px,#ec001a 141.5px,#e9001c 144.5px,#1608e4 156.5px,#1008ea 159.5px,#1008ea 160.5px,#ec001a 161.5px,#ec001a 164.5px,#e40022 165.5px,#1d08dd 176.5px,#1108ea 177.5px,#1008ea 180.5px,#b5024e 181.5px,#ec001a 182.5px,#e60020 185.5px,#890478 191px)"></b><b style="left:164px;background:linear-gradient(180deg,#1008ea 0px,#1008ea 3.5px,#2c07d0 4.5px,#ec001a 5.5px,#eb001b 10.5px,#1008ea 28.5px,#1008ea 33.5px,#de0027 34.5px,#ec001a 35.5px,#e7001e 40.5px,#1108e9 58.5px,#1008ea 63.5px,#9a0368 64.5px,#ec001a 65.5px,#e8001e 70.5px,#1308e7 87.5px,#1008ea 90.5px,#a40260 91.5px,#d70032 92.5px,#d70032 98.5px,#45088c 99.5px,#560699 100.5px,#ec001a 101.5px,#e9001d 104.5px,#1608e5 115.5px,#1008ea 118.5px,#ec001a 120.5px,#eb001b 123.5px,#1108e9 136.5px,#1008ea 139.5px,#62059c 140.5px,#ec001a 141.5px,#eb001b 144.5px,#1608e4 156.5px,#1008ea 159.5px,#1008ea 160.5px,#ec001a 161.5px,#ec001a 164.5px,#e30022 165.5px,#1108e9 177.5px,#1008ea 180.5px,#ec001a 182.5px,#e7001f 185.5px,#870479 191px)"></b><b style="left:166px;background:linear-gradient(180deg,#1008ea 0px,#1008ea 4.5px,#d00134 5.5px,#ec001a 6.5px,#ec001a 10.5px,#cd0138 13.5px,#1208e8 28.5px,#1008ea 33.5px,#9a0368 34.5px,#ec001a 35.5px,#ea001c 40.5px,#1208e8 58.5px,#1008ea 63.5px,#62059c 64.5px,#ec001a 65.5px,#ea001c 70.5px,#1608e4 87.5px,#1008ea 90.5px,#a20262 91.5px,#d70032 92.5px,#d70032 98.5px,#45088c 99.5px,#9a0458 100.5px,#ec001a 101.5px,#e6001f 104.5px,#1608e4 115.5px,#1008ea 118.5px,#62059c 119.5px,#ec001a 120.5px,#ec001a 123.5px,#be0245 126.5px,#1208e8 136.5px,#1008ea 139.5px,#4706b6 140.5px,#ec001a 141.5px,#ec001a 144.5px,#97036b 149.5px,#1808e2 156.5px,#1008ea 158.5px,#1008ea 160.5px,#ec001a 161.5px,#ec001a 164.5px,#e40021 165.5px,#1108e9 177.5px,#1008ea 180.5px,#a7025b 181.5px,#ec001a 182.5px,#ec001a 184.5px,#e50020 185.5px,#85047b 191px)"></b><b style="left:168px;background:linear-gradient(180deg,#1008ea 0px,#1008ea 4.5px,#8c0475 5.5px,#ec001a 6.5px,#e9001d 11.5px,#1408e6 28.5px,#1008ea 33.5px,#62059c 34.5px,#ec001a 35.5px,#eb001a 40.5px,#1508e5 58.5px,#1008ea 63.5px,#1e08dd 64.5px,#ec001a 65.5px,#ec001a 70.5px,#1108e9 88.5px,#1008ea 90.5px,#8b0479 91.5px,#ae025b 92.5px,#ae025b 98.5px,#3a0896 99.5px,#b6023e 100.5px,#ec001a 101.5px,#ec001a 103.5px,#cf0135 105.5px,#1808e2 115.5px,#1008ea 117.5px,#1008ea 118.5px,#1e08dd 119.5px,#ec001a 120.5px,#ec001a 123.5px,#e50021 124.5px,#1208e8 136.5px,#1008ea 139.5px,#5506a9 140.5px,#ec001a 141.5px,#ec001a 144.5px,#74048b 151.5px,#1b08df 156.5px,#1008ea 157.5px,#1008ea 160.5px,#b5024e 161.5px,#ec001a 162.5px,#e60020 165.5px,#1a08e0 176.5px,#1008ea 177.5px,#1008ea 179.5px,#1e08dd 180.5px,#de0027 181.5px,#ec001a 182.5px,#ec001a 184.5px,#cf0136 186.5px,#84047d 191px)"></b><b style="left:170px;background:linear-gradient(180deg,#1008ea 0px,#1008ea 4.5px,#4706b6 5.5px,#ec001a 6.5px,#eb001b 11.5px,#1808e3 28.5px,#1008ea 30.5px,#1008ea 33.5px,#1e08dd 34.5px,#ec001a 35.5px,#ec001a 40.5px,#ce0136 43.5px,#1008ea 59.5px,#1008ea 64.5px,#b5024e 65.5px,#ec001a 66.5px,#e7001f 71.5px,#1208e8 88.5px,#1008ea 90.5px,#4c07b8 91.5px,#320ad7 92.5px,#320ad7 98.5px,#1c0ab5 99.5px,#b6023e 100.5px,#ec001a 101.5px,#eb001a 103.5px,#74048b 110.5px,#1b08e0 115.5px,#1008ea 116.5px,#1008ea 119.5px,#b5024e 120.5px,#ec001a 121.5px,#e8001e 124.5px,#1208e8 136.5px,#1008ea 139.5px,#ec001a 141.5px,#ec001a 144.5px,#64059a 152.5px,#1108e9 157.5px,#1008ea 160.5px,#ec001a 162.5px,#e7001e 165.5px,#1608e4 176.5px,#1008ea 179.5px,#62059c 180.5px,#ec001a 181.5px,#eb001b 184.5px,#83047d 191px)"></b><b style="left:172px;background:linear-gradient(180deg,#1008ea 0px,#1008ea 5.5px,#de0027 6.5px,#ec001a 7.5px,#ec001a 11.5px,#800480 20.5px,#1108e9 29.5px,#1008ea 34.5px,#b5024e 35.5px,#ec001a 36.5px,#e9001d 41.5px,#1108e9 59.5px,#1008ea 64.5px,#70048f 65.5px,#ec001a 66.5px,#ea001c 71.5px,#1508e5 88.5px,#1008ea 90.5px,#5806aa 91.5px,#4b08bc 92.5px,#4b08bc 98.5px,#2209ae 99.5px,#b6023e 100.5px,#ec001a 101.5px,#eb001a 103.5px,#63059b 111.5px,#1c08de 115.5px,#1008ea 116.5px,#1008ea 119.5px,#b5024e 120.5px,#ec001a 121.5px,#e9001d 124.5px,#1308e7 136.5px,#1008ea 139.5px,#5506a9 140.5px,#ec001a 141.5px,#ec001a 144.5px,#bd0246 147.5px,#1108e9 157.5px,#1008ea 160.5px,#ec001a 162.5px,#e7001f 165.5px,#1308e7 176.5px,#1008ea 179.5px,#a7025b 180.5px,#ec001a 181.5px,#ea001c 184.5px,#84047d 191px)"></b><b style="left:174px;background:linear-gradient(180deg,#1208e8 0px,#1008ea 5.5px,#9a0368 6.5px,#ec001a 7.5px,#e8001e 12.5px,#1308e7 29.5px,#1008ea 34.5px,#70048f 35.5px,#ec001a 36.5px,#eb001b 41.5px,#1408e6 59.5px,#1008ea 64.5px,#2c07d0 65.5px,#ec001a 66.5px,#eb001b 71.5px,#1008ea 89.5px,#1008ea 90.5px,#9f0265 91.5px,#d70032 92.5px,#d70032 98.5px,#45088c 99.5px,#b6023e 100.5px,#ec001a 101.5px,#ec001a 103.5px,#cf0135 105.5px,#1c08df 115.5px,#1008ea 116.5px,#1008ea 119.5px,#b5024e 120.5px,#ec001a 121.5px,#e9001d 124.5px,#1608e4 136.5px,#1008ea 139.5px,#1e08dd 140.5px,#de0027 141.5px,#ec001a 142.5px,#ec001a 144.5px,#e40022 145.5px,#1d08de 156.5px,#1008ea 157.5px,#1008ea 160.5px,#a7025b 161.5px,#ec001a 162.5px,#ec001a 164.5px,#e40021 165.5px,#1308e7 176.5px,#1008ea 179.5px,#9a0368 180.5px,#ec001a 181.5px,#eb001b 184.5px,#85047c 191px)"></b><b style="left:176px;background:linear-gradient(180deg,#1408e6 0px,#1008ea 5.5px,#5506a9 6.5px,#ec001a 7.5px,#eb001b 12.5px,#1708e4 29.5px,#1008ea 31.5px,#1008ea 34.5px,#2c07d0 35.5px,#ec001a 36.5px,#ec001a 41.5px,#b5024e 46.5px,#1008ea 60.5px,#1008ea 65.5px,#c30241 66.5px,#ec001a 67.5px,#ec001a 71.5px,#cd0137 74.5px,#1208e8 89.5px,#1008ea 90.5px,#a00264 91.5px,#d70032 92.5px,#d70032 98.5px,#45088c 99.5px,#b6023e 100.5px,#ec001a 101.5px,#ec001a 103.5px,#e40022 104.5px,#1c08df 115.5px,#1008ea 116.5px,#1008ea 119.5px,#b5024e 120.5px,#ec001a 121.5px,#e9001d 124.5px,#1b08e0 136.5px,#1008ea 137.5px,#1008ea 140.5px,#9a0368 141.5px,#ec001a 142.5px,#e7001f 145.5px,#1908e2 156.5px,#1008ea 158.5px,#1008ea 159.5px,#2c07d0 160.5px,#ec001a 161.5px,#ec001a 164.5px,#ba0249 167.5px,#1408e6 176.5px,#1008ea 179.5px,#62059c 180.5px,#ec001a 181.5px,#eb001a 184.5px,#86047a 191px)"></b><b style="left:178px;background:linear-gradient(180deg,#1808e2 0px,#1008ea 2.5px,#1008ea 6.5px,#ec001a 7.5px,#ec001a 12.5px,#1108e9 30.5px,#1008ea 35.5px,#c30241 36.5px,#ec001a 37.5px,#e9001d 42.5px,#1108e9 60.5px,#1008ea 65.5px,#ec001a 67.5px,#e9001d 72.5px,#1508e6 89.5px,#1008ea 90.5px,#a10263 91.5px,#d70032 92.5px,#d70032 98.5px,#45088c 99.5px,#b6023e 100.5px,#ec001a 101.5px,#ec001a 103.5px,#e50021 104.5px,#1d08de 115.5px,#1008ea 116.5px,#1008ea 119.5px,#b5024e 120.5px,#ec001a 121.5px,#ea001c 124.5px,#1108e9 137.5px,#1008ea 140.5px,#ec001a 142.5px,#e8001e 145.5px,#1508e5 156.5px,#1008ea 159.5px,#ec001a 161.5px,#eb001b 164.5px,#1608e4 176.5px,#1008ea 179.5px,#1e08dd 180.5px,#ec001a 181.5px,#ec001a 184.5px,#d00134 186.5px,#870479 191px)"></b><b style="left:180px;background:linear-gradient(180deg,#1c08df 0px,#1108e9 1.5px,#1008ea 6.5px,#a7025b 7.5px,#ec001a 8.5px,#e8001e 13.5px,#1308e7 30.5px,#1008ea 35.5px,#70048f 36.5px,#ec001a 37.5px,#eb001b 42.5px,#1408e7 60.5px,#1008ea 65.5px,#3906c3 66.5px,#ec001a 67.5px,#eb001b 72.5px,#1008ea 90.5px,#a00264 91.5px,#d70032 92.5px,#d70032 98.5px,#45088c 99.5px,#b6023e 100.5px,#ec001a 101.5px,#ec001a 103.5px,#e50021 104.5px,#1208e8 116.5px,#1008ea 119.5px,#70048f 120.5px,#ec001a 121.5px,#eb001b 124.5px,#1108e9 137.5px,#1008ea 140.5px,#8c0475 141.5px,#ec001a 142.5px,#e6001f 145.5px,#1308e7 156.5px,#1008ea 159.5px,#9a0368 160.5px,#ec001a 161.5px,#ea001c 164.5px,#1808e3 176.5px,#1008ea 178.5px,#1008ea 180.5px,#ec001a 181.5px,#ec001a 184.5px,#e40021 185.5px,#880478 191px)"></b><b style="left:182px;background:linear-gradient(180deg,#2007db 0px,#1008ea 2.5px,#1008ea 6.5px,#62059c 7.5px,#ec001a 8.5px,#ea001c 13.5px,#1608e4 30.5px,#1008ea 33.5px,#1008ea 35.5px,#2c07d0 36.5px,#ec001a 37.5px,#ec001a 42.5px,#6c0593 53.5px,#1008ea 61.5px,#1008ea 66.5px,#d00134 67.5px,#ec001a 68.5px,#ec001a 72.5px,#cc0138 75.5px,#1208e9 90.5px,#9f0265 91.5px,#d70032 92.5px,#d70032 98.5px,#45088c 99.5px,#b6023e 100.5px,#ec001a 101.5px,#ec001a 103.5px,#e40021 104.5px,#1508e5 116.5px,#1008ea 119.5px,#1e08dd 120.5px,#de0027 121.5px,#ec001a 122.5px,#ec001a 124.5px,#e30022 125.5px,#1b08e0 136.5px,#1008ea 137.5px,#1008ea 140.5px,#d00134 141.5px,#ec001a 142.5px,#ec001a 144.5px,#e30023 145.5px,#1308e7 156.5px,#1008ea 159.5px,#ec001a 161.5px,#eb001b 164.5px,#1808e3 176.5px,#1008ea 178.5px,#1008ea 180.5px,#ec001a 181.5px,#ec001a 184.5px,#e40022 185.5px,#880478 191px)"></b><b style="left:184px;background:linear-gradient(180deg,#2407d7 0px,#1008ea 2.5px,#1008ea 6.5px,#1e08dd 7.5px,#ec001a 8.5px,#ec001a 13.5px,#1108e9 31.5px,#1008ea 36.5px,#d00134 37.5px,#ec001a 38.5px,#e8001d 43.5px,#1108e9 61.5px,#1008ea 66.5px,#8c0475 67.5px,#ec001a 68.5px,#e9001d 73.5px,#1408e6 90.5px,#9f0265 91.5px,#d70032 92.5px,#d70032 98.5px,#45088c 99.5px,#b6023e 100.5px,#ec001a 101.5px,#ec001a 103.5px,#e50021 104.5px,#1908e2 116.5px,#1008ea 118.5px,#1008ea 120.5px,#9a0368 121.5px,#ec001a 122.5px,#e6001f 125.5px,#1708e3 136.5px,#1008ea 138.5px,#1008ea 139.5px,#3906c3 140.5px,#ec001a 141.5px,#eb001b 144.5px,#5e05a1 152.5px,#1508e5 156.5px,#1008ea 159.5px,#4706b6 160.5px,#ec001a 161.5px,#eb001b 164.5px,#4d06b1 173.5px,#1608e4 176.5px,#1008ea 179.5px,#2c07d0 180.5px,#ec001a 181.5px,#ec001a 184.5px,#d00134 186.5px,#890478 191px)"></b><b style="left:186px;background:linear-gradient(180deg,#2807d3 0px,#1108e9 2.5px,#1008ea 7.5px,#a7025b 8.5px,#ec001a 9.5px,#e7001f 14.5px,#1308e8 31.5px,#1008ea 36.5px,#8c0475 37.5px,#ec001a 38.5px,#eb001b 43.5px,#1308e7 61.5px,#1008ea 66.5px,#3906c3 67.5px,#ec001a 68.5px,#eb001b 73.5px,#1808e2 90.5px,#a00264 91.5px,#d70032 92.5px,#d70032 98.5px,#45088c 99.5px,#b6023e 100.5px,#ec001a 101.5px,#e8001e 104.5px,#1b08df 116.5px,#1008ea 117.5px,#1008ea 120.5px,#ec001a 122.5px,#e7001f 125.5px,#1508e6 136.5px,#1008ea 139.5px,#ec001a 141.5px,#eb001b 144.5px,#1608e5 156.5px,#1008ea 159.5px,#2c07d0 160.5px,#ec001a 161.5px,#ec001a 164.5px,#bb0248 167.5px,#1608e5 176.5px,#1008ea 179.5px,#4706b6 180.5px,#ec001a 181.5px,#ec001a 184.5px,#d00135 186.5px,#890478 191px)"></b><b style="left:188px;background:linear-gradient(180deg,#2c07d0 0px,#1308e7 2.5px,#1008ea 7.5px,#62059c 8.5px,#ec001a 9.5px,#ea001c 14.5px,#1608e5 31.5px,#1008ea 35.5px,#1008ea 36.5px,#3906c3 37.5px,#ec001a 38.5px,#ec001a 43.5px,#1608e4 61.5px,#1008ea 64.5px,#1008ea 67.5px,#d00134 68.5px,#ec001a 69.5px,#ec001a 73.5px,#b30250 78.5px,#1c08df 90.5px,#a20262 91.5px,#d70032 92.5px,#d70032 98.5px,#45088c 99.5px,#8d0465 100.5px,#ec001a 101.5px,#eb001b 104.5px,#1b08e0 116.5px,#1008ea 117.5px,#1008ea 120.5px,#b5024e 121.5px,#ec001a 122.5px,#ec001a 124.5px,#e50021 125.5px,#1408e6 136.5px,#1008ea 139.5px,#ec001a 141.5px,#ea001b 144.5px,#1508e5 156.5px,#1008ea 159.5px,#4706b6 160.5px,#ec001a 161.5px,#ec001a 164.5px,#bb0248 167.5px,#1708e4 176.5px,#1008ea 179.5px,#3906c3 180.5px,#ec001a 181.5px,#ec001a 184.5px,#d10134 186.5px,#890477 191px)"></b><b style="left:190px;background:linear-gradient(180deg,#3007cc 0px,#1008ea 3.5px,#1008ea 7.5px,#2c07d0 8.5px,#ec001a 9.5px,#ec001a 14.5px,#1008ea 32.5px,#1008ea 37.5px,#d00134 38.5px,#ec001a 39.5px,#e8001e 44.5px,#1108e9 62.5px,#1008ea 67.5px,#9a0368 68.5px,#ec001a 69.5px,#e8001d 74.5px,#2007db 90.5px,#a5025f 91.5px,#d70032 92.5px,#d70032 98.5px,#45088c 99.5px,#2c08c0 100.5px,#ec001a 101.5px,#ec001a 104.5px,#cf0135 106.5px,#1808e2 116.5px,#1008ea 118.5px,#1008ea 119.5px,#1e08dd 120.5px,#ec001a 121.5px,#ec001a 124.5px,#ce0136 126.5px,#1508e5 136.5px,#1008ea 139.5px,#5506a9 140.5px,#ec001a 141.5px,#eb001b 144.5px,#1408e6 156.5px,#1008ea 159.5px,#62059c 160.5px,#ec001a 161.5px,#eb001b 164.5px,#1908e1 176.5px,#1008ea 177.5px,#1008ea 180.5px,#d00134 181.5px,#ec001a 182.5px,#ec001a 184.5px,#e50021 185.5px,#890477 191px)"></b><b style="left:192px;background:linear-gradient(180deg,#3407c8 0px,#1108e9 3.5px,#1008ea 8.5px,#c30241 9.5px,#ec001a 10.5px,#ec001a 14.5px,#da012b 16.5px,#1208e8 32.5px,#1008ea 37.5px,#9a0368 38.5px,#ec001a 39.5px,#ea001c 44.5px,#1308e8 62.5px,#1008ea 67.5px,#5506a9 68.5px,#ec001a 69.5px,#eb001b 74.5px,#2407d7 90.5px,#a6025e 91.5px,#d70032 92.5px,#d70032 98.5px,#45088c 99.5px,#1108da 100.5px,#c30241 101.5px,#ec001a 102.5px,#ec001a 104.5px,#e40021 105.5px,#1608e4 116.5px,#1008ea 119.5px,#4706b6 120.5px,#ec001a 121.5px,#eb001b 124.5px,#1608e5 136.5px,#1008ea 139.5px,#4706b6 140.5px,#ec001a 141.5px,#eb001b 144.5px,#4906b5 153.5px,#1308e7 156.5px,#1008ea 159.5px,#ec001a 161.5px,#eb001b 164.5px,#1008ea 177.5px,#1008ea 180.5px,#8c0475 181.5px,#ec001a 182.5px,#e7001f 185.5px,#880479 191px)"></b><b style="left:194px;background:linear-gradient(180deg,#3707c5 0px,#1308e8 3.5px,#1008ea 8.5px,#ec001a 10.5px,#e9001d 15.5px,#1508e6 32.5px,#1008ea 37.5px,#5506a9 38.5px,#ec001a 39.5px,#ec001a 44.5px,#1508e5 62.5px,#1008ea 67.5px,#1008ea 68.5px,#ec001a 69.5px,#ec001a 74.5px,#2707d4 90.5px,#9e0265 91.5px,#c70040 92.5px,#c70040 98.5px,#41088f 99.5px,#1108da 100.5px,#c30241 101.5px,#ec001a 102.5px,#ec001a 104.5px,#e40022 105.5px,#1508e5 116.5px,#1008ea 119.5px,#4706b6 120.5px,#ec001a 121.5px,#eb001b 124.5px,#1508e5 136.5px,#1008ea 139.5px,#4706b6 140.5px,#ec001a 141.5px,#eb001b 144.5px,#1308e7 156.5px,#1008ea 159.5px,#ec001a 161.5px,#eb001b 164.5px,#1108e9 177.5px,#1008ea 180.5px,#ec001a 182.5px,#e7001f 185.5px,#86047b 191px)"></b><b style="left:196px;background:linear-gradient(180deg,#3b06c1 0px,#1608e5 3.5px,#1008ea 8.5px,#3906c3 9.5px,#ec001a 10.5px,#eb001b 15.5px,#1008ea 33.5px,#1008ea 38.5px,#ec001a 39.5px,#e7001f 45.5px,#1008ea 63.5px,#1008ea 68.5px,#a7025b 69.5px,#ec001a 70.5px,#e7001e 75.5px,#2b07d0 90.5px,#85027b 91.5px,#960069 92.5px,#960069 98.5px,#34089a 99.5px,#1108da 100.5px,#ec001a 101.5px,#ec001a 104.5px,#cf0136 106.5px,#1608e4 116.5px,#1008ea 119.5px,#4706b6 120.5px,#ec001a 121.5px,#eb001b 124.5px,#1308e7 136.5px,#1008ea 139.5px,#ec001a 141.5px,#ea001c 144.5px,#1508e6 156.5px,#1008ea 159.5px,#3906c3 160.5px,#ec001a 161.5px,#ec001a 164.5px,#cf0135 166.5px,#1d08de 176.5px,#1008ea 177.5px,#1008ea 180.5px,#9a0368 181.5px,#ec001a 182.5px,#ec001a 184.5px,#e40021 185.5px,#82047e 191px)"></b></div>
<div class="hm" style="left:200px;top:20px;width:6px;height:177px;background:linear-gradient(180deg,#800000 0%,#f00 12.5%,#ff0 37.5%,#0ff 62.5%,#00f 87.5%,#000080 100%)"></div>
<div class="hm" style="left:479px;top:18px;width:7px;height:178px;background:linear-gradient(180deg,#800000 0%,#f00 12.5%,#ff0 37.5%,#0ff 62.5%,#00f 87.5%,#000080 100%)"></div>
<svg width="520" height="463" viewBox="0 0 520 463" font-family="Liberation Sans, Arial, sans-serif"><path d="M28.5 9V203M28 202.5H199" stroke="#000" stroke-width="1" fill="none"/>
<polygon points="28.7,2.5 25.6,11 31.8,11" fill="#000"/>
<polygon points="206,202.5 197,199.6 197,205.4" fill="#000"/>
<path d="M28.5 202V198.5M38.3 202V200.0M48.1 202V200.0M57.9 202V198.5M67.7 202V200.0M77.5 202V200.0M87.3 202V198.5M97.1 202V200.0M106.9 202V200.0M116.7 202V198.5M126.5 202V200.0M136.3 202V200.0M146.1 202V198.5M155.9 202V200.0M165.7 202V200.0M175.5 202V198.5M185.3 202V200.0M195.1 202V200.0" stroke="#000" stroke-width="0.8"/>
<text x="27.5" y="40.4" font-size="8" fill="#444" text-anchor="end" font-weight="normal" stroke="#444" stroke-width="0.15">600</text>
<text x="27.5" y="73.5" font-size="8" fill="#444" text-anchor="end" font-weight="normal" stroke="#444" stroke-width="0.15">530</text>
<text x="27.5" y="106.3" font-size="8" fill="#444" text-anchor="end" font-weight="normal" stroke="#444" stroke-width="0.15">460</text>
<text x="27.5" y="139.7" font-size="8" fill="#444" text-anchor="end" font-weight="normal" stroke="#444" stroke-width="0.15">390</text>
<text x="27.5" y="172.9" font-size="8" fill="#444" text-anchor="end" font-weight="normal" stroke="#444" stroke-width="0.15">320</text>
<text x="27.5" y="204.4" font-size="8" fill="#444" text-anchor="end" font-weight="normal" stroke="#444" stroke-width="0.15">250</text>
<text x="28.5" y="210.4" font-size="8" fill="#444" text-anchor="middle" font-weight="normal" stroke="#444" stroke-width="0.15">80</text>
<text x="57.9" y="210.4" font-size="8" fill="#444" text-anchor="middle" font-weight="normal" stroke="#444" stroke-width="0.15">110</text>
<text x="87.3" y="210.4" font-size="8" fill="#444" text-anchor="middle" font-weight="normal" stroke="#444" stroke-width="0.15">140</text>
<text x="116.7" y="210.4" font-size="8" fill="#444" text-anchor="middle" font-weight="normal" stroke="#444" stroke-width="0.15">170</text>
<text x="146.1" y="210.4" font-size="8" fill="#444" text-anchor="middle" font-weight="normal" stroke="#444" stroke-width="0.15">200</text>
<text x="175.5" y="210.4" font-size="8" fill="#444" text-anchor="middle" font-weight="normal" stroke="#444" stroke-width="0.15">230</text>
<text x="114" y="220.0" font-size="12.7" fill="#222" text-anchor="middle" font-weight="normal" stroke="#222" stroke-width="0.25">Diameter (nm)</text>
<text transform="translate(13.2,104.5) rotate(-90)" font-size="12.6" fill="#222" stroke="#222" stroke-width="0.25" text-anchor="middle">Height (nm)</text>
<path d="M29 119H195" stroke="#f4f0f0" stroke-width="1" stroke-dasharray="2,1"/>
<text x="36" y="26.6" font-size="12" fill="#fff" text-anchor="start" font-weight="bold" >(a)</text>
<text x="52.8" y="117.2" font-size="10.3" fill="#fff" text-anchor="start" font-weight="normal" stroke="#fff" stroke-width="0.3">H=425nm</text>
<path d="M204.5 20.5H208M204.5 38.1H208M204.5 55.7H208M204.5 73.3H208M204.5 90.9H208M204.5 108.5H208M204.5 126.1H208M204.5 143.7H208M204.5 161.3H208M204.5 178.9H208M204.5 196.5H208" stroke="#000" stroke-opacity="0.75" stroke-width="0.9"/>
<text transform="translate(214,22.5) scale(1,0.65)" font-size="9" fill="#111">π</text>
<text transform="translate(214.5,110.8) scale(1.1,0.6)" font-size="9" fill="#111">0</text>
<text transform="translate(212,198.6) scale(1,0.65)" font-size="9" fill="#111">−π</text><path d="M305.5 8V202M305 201.5H477" stroke="#000" stroke-width="1" fill="none"/>
<polygon points="306.2,1 302.9,9.5 309.6,9.5" fill="#000"/>
<polygon points="485,201.5 476,198.7 476,204.3" fill="#000"/>
<path d="M306.0 201V197.5M315.8 201V199.0M325.7 201V199.0M335.5 201V199.0M345.3 201V197.5M355.1 201V199.0M365.0 201V199.0M374.8 201V199.0M384.6 201V197.5M394.5 201V199.0M404.3 201V199.0M414.1 201V199.0M424.0 201V197.5M433.8 201V199.0M443.6 201V199.0M453.4 201V199.0M463.3 201V197.5M473.1 201V199.0" stroke="#000" stroke-width="0.8"/>
<text x="304.2" y="39.2" font-size="8" fill="#444" text-anchor="end" font-weight="normal" stroke="#444" stroke-width="0.15">600</text>
<text x="304.2" y="72.4" font-size="8" fill="#444" text-anchor="end" font-weight="normal" stroke="#444" stroke-width="0.15">530</text>
<text x="304.2" y="105.8" font-size="8" fill="#444" text-anchor="end" font-weight="normal" stroke="#444" stroke-width="0.15">460</text>
<text x="304.2" y="137.9" font-size="8" fill="#444" text-anchor="end" font-weight="normal" stroke="#444" stroke-width="0.15">390</text>
<text x="304.2" y="171.2" font-size="8" fill="#444" text-anchor="end" font-weight="normal" stroke="#444" stroke-width="0.15">320</text>
<text x="304.2" y="203.9" font-size="8" fill="#444" text-anchor="end" font-weight="normal" stroke="#444" stroke-width="0.15">250</text>
<text x="306.0" y="209.4" font-size="8" fill="#444" text-anchor="middle" font-weight="normal" stroke="#444" stroke-width="0.15">80</text>
<text x="345.3" y="209.4" font-size="8" fill="#444" text-anchor="middle" font-weight="normal" stroke="#444" stroke-width="0.15">120</text>
<text x="384.6" y="209.4" font-size="8" fill="#444" text-anchor="middle" font-weight="normal" stroke="#444" stroke-width="0.15">160</text>
<text x="424.0" y="209.4" font-size="8" fill="#444" text-anchor="middle" font-weight="normal" stroke="#444" stroke-width="0.15">200</text>
<text x="463.3" y="209.4" font-size="8" fill="#444" text-anchor="middle" font-weight="normal" stroke="#444" stroke-width="0.15">240</text>
<text x="393.9" y="220.1" font-size="12.7" fill="#222" text-anchor="middle" font-weight="normal" stroke="#222" stroke-width="0.25">Diameter (nm)</text>
<text transform="translate(287.6,103.5) rotate(-90)" font-size="12.6" fill="#222" stroke="#222" stroke-width="0.25" text-anchor="middle">Height (nm)</text>
<path d="M306 118.5H473" stroke="#f4f0f0" stroke-width="1" stroke-dasharray="2,1"/>
<text x="309.8" y="27.8" font-size="12" fill="#fff" text-anchor="start" font-weight="bold" >(b)</text>
<text x="323.9" y="116.8" font-size="10.3" fill="#fff" text-anchor="start" font-weight="normal" stroke="#fff" stroke-width="0.3">H=425nm</text>
<text x="489.2" y="21.2" font-size="7.6" fill="#333" text-anchor="start" font-weight="normal" stroke="#333" stroke-width="0.15">1.0</text>
<text x="489.2" y="56.4" font-size="7.6" fill="#333" text-anchor="start" font-weight="normal" stroke="#333" stroke-width="0.15">0.8</text>
<text x="489.2" y="91.7" font-size="7.6" fill="#333" text-anchor="start" font-weight="normal" stroke="#333" stroke-width="0.15">0.6</text>
<text x="489.2" y="126.9" font-size="7.6" fill="#333" text-anchor="start" font-weight="normal" stroke="#333" stroke-width="0.15">0.4</text>
<text x="489.2" y="162.2" font-size="7.6" fill="#333" text-anchor="start" font-weight="normal" stroke="#333" stroke-width="0.15">0.2</text>
<text x="489.2" y="197.4" font-size="7.6" fill="#333" text-anchor="start" font-weight="normal" stroke="#333" stroke-width="0.15">0.0</text>
<path d="M483 18.8H489M483 54.0H489M483 89.3H489M483 124.5H489M483 159.8H489M483 195.0H489" stroke="#000" stroke-width="1"/><path d="M31.5 255.1H248.5M31.5 254.6V414.6H248.5" stroke="#c8c8c8" stroke-width="1" fill="none"/>
<path d="M31.5 254.6H34.0M31.5 262.6H33.0M31.5 270.6H34.0M31.5 278.6H33.0M31.5 286.6H34.0M31.5 294.6H33.0M31.5 302.6H34.0M31.5 310.6H33.0M31.5 318.6H34.0M31.5 326.6H33.0M31.5 334.6H34.0M31.5 342.6H33.0M31.5 350.6H34.0M31.5 358.6H33.0M31.5 366.6H34.0M31.5 374.6H33.0M31.5 382.6H34.0M31.5 390.6H33.0M31.5 398.6H34.0M31.5 406.6H33.0M31.5 414.6H34.0M31.5 414.6V412.1M31.5 255.1V257.6M44.3 414.6V413.1M44.3 255.1V256.6M57.0 414.6V412.1M57.0 255.1V257.6M69.8 414.6V413.1M69.8 255.1V256.6M82.6 414.6V412.1M82.6 255.1V257.6M95.3 414.6V413.1M95.3 255.1V256.6M108.1 414.6V412.1M108.1 255.1V257.6M120.9 414.6V413.1M120.9 255.1V256.6M133.6 414.6V412.1M133.6 255.1V257.6M146.4 414.6V413.1M146.4 255.1V256.6M159.1 414.6V412.1M159.1 255.1V257.6M171.9 414.6V413.1M171.9 255.1V256.6M184.7 414.6V412.1M184.7 255.1V257.6M197.4 414.6V413.1M197.4 255.1V256.6M210.2 414.6V412.1M210.2 255.1V257.6M223.0 414.6V413.1M223.0 255.1V256.6M235.7 414.6V412.1M235.7 255.1V257.6M248.5 414.6V413.1M248.5 255.1V256.6" stroke="#c0c0c0" stroke-width="0.8"/>
<path d="M248.5 254.6V415.1M248.5 254.6H246M248.5 262.6H247M248.5 270.6H246M248.5 278.6H247M248.5 286.6H246M248.5 294.6H247M248.5 302.6H246M248.5 310.6H247M248.5 318.6H246M248.5 326.6H247M248.5 334.6H246M248.5 342.6H247M248.5 350.6H246M248.5 358.6H247M248.5 366.6H246M248.5 374.6H247M248.5 382.6H246M248.5 390.6H247M248.5 398.6H246M248.5 406.6H247M248.5 414.6H246" stroke="#3a3ad0" stroke-width="1"/>
<text x="28.3" y="257.1" font-size="7" fill="#222" text-anchor="end" stroke="#222" stroke-width="0.15">1.0</text>
<text x="28.3" y="273.1" font-size="7" fill="#222" text-anchor="end" stroke="#222" stroke-width="0.15">0.8</text>
<text x="28.3" y="289.1" font-size="7" fill="#222" text-anchor="end" stroke="#222" stroke-width="0.15">0.6</text>
<text x="28.3" y="305.1" font-size="7" fill="#222" text-anchor="end" stroke="#222" stroke-width="0.15">0.4</text>
<text x="28.3" y="321.1" font-size="7" fill="#222" text-anchor="end" stroke="#222" stroke-width="0.15">0.2</text>
<text x="28.3" y="337.1" font-size="7" fill="#222" text-anchor="end" stroke="#222" stroke-width="0.15">0.0</text>
<text x="28.3" y="353.1" font-size="7" fill="#222" text-anchor="end" stroke="#222" stroke-width="0.15">-0.2</text>
<text x="28.3" y="369.1" font-size="7" fill="#222" text-anchor="end" stroke="#222" stroke-width="0.15">-0.4</text>
<text x="28.3" y="385.1" font-size="7" fill="#222" text-anchor="end" stroke="#222" stroke-width="0.15">-0.6</text>
<text x="28.3" y="401.1" font-size="7" fill="#222" text-anchor="end" stroke="#222" stroke-width="0.15">-0.8</text>
<text x="28.3" y="417.1" font-size="7" fill="#222" text-anchor="end" stroke="#222" stroke-width="0.15">-1.0</text>
<text x="252.5" y="257.1" font-size="7" fill="#2a2aa0" text-anchor="start" stroke="#2a2aa0" stroke-width="0.15">1.00</text>
<text x="252.5" y="273.1" font-size="7" fill="#2a2aa0" text-anchor="start" stroke="#2a2aa0" stroke-width="0.15">0.98</text>
<text x="252.5" y="289.1" font-size="7" fill="#2a2aa0" text-anchor="start" stroke="#2a2aa0" stroke-width="0.15">0.96</text>
<text x="252.5" y="305.1" font-size="7" fill="#2a2aa0" text-anchor="start" stroke="#2a2aa0" stroke-width="0.15">0.94</text>
<text x="252.5" y="321.1" font-size="7" fill="#2a2aa0" text-anchor="start" stroke="#2a2aa0" stroke-width="0.15">0.92</text>
<text x="252.5" y="337.1" font-size="7" fill="#2a2aa0" text-anchor="start" stroke="#2a2aa0" stroke-width="0.15">0.90</text>
<text x="252.5" y="353.1" font-size="7" fill="#2a2aa0" text-anchor="start" stroke="#2a2aa0" stroke-width="0.15">0.88</text>
<text x="252.5" y="369.1" font-size="7" fill="#2a2aa0" text-anchor="start" stroke="#2a2aa0" stroke-width="0.15">0.86</text>
<text x="252.5" y="385.1" font-size="7" fill="#2a2aa0" text-anchor="start" stroke="#2a2aa0" stroke-width="0.15">0.84</text>
<text x="252.5" y="401.1" font-size="7" fill="#2a2aa0" text-anchor="start" stroke="#2a2aa0" stroke-width="0.15">0.82</text>
<text x="252.5" y="417.1" font-size="7" fill="#2a2aa0" text-anchor="start" stroke="#2a2aa0" stroke-width="0.15">0.80</text>
<text x="31.5" y="424" font-size="7" fill="#222" text-anchor="middle" stroke="#222" stroke-width="0.15">80</text>
<text x="57.0" y="424" font-size="7" fill="#222" text-anchor="middle" stroke="#222" stroke-width="0.15">100</text>
<text x="82.6" y="424" font-size="7" fill="#222" text-anchor="middle" stroke="#222" stroke-width="0.15">120</text>
<text x="108.1" y="424" font-size="7" fill="#222" text-anchor="middle" stroke="#222" stroke-width="0.15">140</text>
<text x="133.6" y="424" font-size="7" fill="#222" text-anchor="middle" stroke="#222" stroke-width="0.15">160</text>
<text x="159.1" y="424" font-size="7" fill="#222" text-anchor="middle" stroke="#222" stroke-width="0.15">180</text>
<text x="184.7" y="424" font-size="7" fill="#222" text-anchor="middle" stroke="#222" stroke-width="0.15">200</text>
<text x="210.2" y="424" font-size="7" fill="#222" text-anchor="middle" stroke="#222" stroke-width="0.15">220</text>
<text x="235.7" y="424" font-size="7" fill="#222" text-anchor="middle" stroke="#222" stroke-width="0.15">240</text>
<text x="140.2" y="438.3" font-size="9.4" fill="#222" text-anchor="middle">Diameter (nm)</text>
<text transform="translate(8.6,341.2) rotate(-90)" font-size="9" fill="#222" text-anchor="middle">Phase (π)</text>
<text transform="translate(276.6,338.8) rotate(-90)" font-size="9.3" fill="#222" text-anchor="middle">Transmittance</text>
<text x="37.6" y="267.9" font-size="9.6" fill="#111" text-anchor="start" font-weight="bold">(c)</text>
<clipPath id="cc"><rect x="31.5" y="250" width="217" height="165"/></clipPath><g clip-path="url(#cc)">
<polyline points="31.5,414.5 82.6,405.0 108.1,396.0 127.2,385.2 140.0,371.9 146.4,363.4 152.8,351.4 159.1,343.1 165.5,334.8 171.9,324.4 178.3,314.4 184.7,306.8 197.4,296.3 216.6,284.8 229.4,276.6 248.5,264.2" fill="none" stroke="#333" stroke-width="0.8"/>
<polyline points="31.5,278.1 82.6,271.6 108.1,269.7 127.2,275.6 140.0,280.2 146.4,281.4 152.8,288.4 159.1,303.2 165.5,326.2 171.9,353.7 178.3,377.0 184.7,383.0 197.4,380.0 216.6,366.4 229.4,343.7 248.5,283.0" fill="none" stroke="#4848c8" stroke-width="0.9"/>
<path d="M82.6 402.9L80.2 406.6L84.9 406.6ZM108.1 393.9L105.8 397.6L110.4 397.6ZM127.2 383.1L124.9 386.8L129.5 386.8ZM140.0 369.8L137.7 373.5L142.3 373.5ZM146.4 361.3L144.1 365.0L148.7 365.0ZM152.8 349.3L150.5 353.0L155.1 353.0ZM159.1 341.0L156.8 344.8L161.5 344.8ZM165.5 332.7L163.2 336.4L167.8 336.4ZM171.9 322.3L169.6 326.0L174.2 326.0ZM178.3 312.3L176.0 316.0L180.6 316.0ZM184.7 304.7L182.4 308.4L187.0 308.4ZM197.4 294.2L195.1 297.9L199.8 297.9ZM216.6 282.7L214.3 286.4L218.9 286.4ZM229.4 274.5L227.0 278.2L231.7 278.2ZM248.5 262.1L246.2 265.8L250.8 265.8Z" fill="#000"/>
<path d="M29.8 276.4h3.4v3.4h-3.4ZM80.9 269.9h3.4v3.4h-3.4ZM106.4 268.0h3.4v3.4h-3.4ZM125.5 273.9h3.4v3.4h-3.4ZM138.3 278.5h3.4v3.4h-3.4ZM144.7 279.7h3.4v3.4h-3.4ZM151.1 286.7h3.4v3.4h-3.4ZM157.4 301.5h3.4v3.4h-3.4ZM163.8 324.5h3.4v3.4h-3.4ZM170.2 352.0h3.4v3.4h-3.4ZM176.6 375.3h3.4v3.4h-3.4ZM183.0 381.3h3.4v3.4h-3.4ZM195.7 378.3h3.4v3.4h-3.4ZM214.9 364.7h3.4v3.4h-3.4ZM227.7 342.0h3.4v3.4h-3.4ZM246.8 281.3h3.4v3.4h-3.4Z" fill="#0a0aa8"/>
</g>
<path d="M173 264.9H185.4" stroke="#000" stroke-width="0.9"/><path d="M179.2 262.9L177.0 266.5L181.4 266.5Z" fill="#000"/>
<path d="M173 272.2H185.4" stroke="#3a3ab8" stroke-width="0.9"/><circle cx="179.2" cy="272.2" r="1.5" fill="#0a0aa0"/>
<text x="187" y="266.8" font-size="5.5" fill="#222" text-anchor="start">Phase</text>
<text x="187" y="274.1" font-size="5.5" fill="#222" text-anchor="start">Transmittance</text>
<polygon points="65.3,343.4 96.5,343.6 104.2,354.2 74.4,354.2" fill="#c4c4f2"/>
<polygon points="65.3,343.4 74.4,354.2 74.4,369.6 63.8,368.2" fill="#aeb0e6"/>
<rect x="74.4" y="354.2" width="29.8" height="15.4" fill="#bcbcf0"/>
<path d="M65.3 343.4H96.5L104.2 354.2H74.4ZM74.4 354.2V369.6M104.2 354.2V369.6H74.4L63.8 368.2L65.3 343.4M89 354.2V369.6M74.4 362H104.2" stroke="#9898d4" stroke-width="0.5" fill="none"/>
<defs><linearGradient id="cyl" x1="0" x2="1" y1="0" y2="0"><stop offset="0" stop-color="#c80000"/><stop offset="0.35" stop-color="#ff1a1a"/><stop offset="0.75" stop-color="#e80808"/><stop offset="1" stop-color="#c00000"/></linearGradient></defs>
<path d="M79.2 309.5L75.5 349.3A10 3 0 0 0 95.6 349.3L98.6 309.5Z" fill="url(#cyl)"/>
<ellipse cx="88.9" cy="309.5" rx="9.7" ry="3.1" fill="#f01818" stroke="#a00000" stroke-width="0.5"/>
<path d="M72.6 311.5L69.8 342.8" stroke="#555" stroke-width="0.6" stroke-dasharray="1.2,0.6"/>
<path d="M72.6 311.5l-0.9 2.5h1.6zM69.8 342.8l-0.6-2.5h1.6z" fill="#333"/>
<text x="87.9" y="305.9" font-size="7" fill="#333" text-anchor="middle" stroke="#333" stroke-width="0.15">D</text>
<text x="67.3" y="330.2" font-size="7" fill="#333" text-anchor="middle" stroke="#333" stroke-width="0.15">H</text>
<path d="M75.5 366H103.2M64.3 353.6L73.4 364.6" stroke="#1a1a80" stroke-width="0.7"/>
<path d="M75.5 366l2.2-1v2zM103.2 366l-2.2-1v2zM64.3 353.6l0.4 2.3 1.3-1.1zM73.4 364.6l-0.4-2.3-1.3 1.1z" fill="#1a1a80"/>
<text x="70.2" y="357.2" font-size="6.8" fill="#1a1a70" text-anchor="middle" font-weight="bold" stroke="#1a1a70" stroke-width="0.15">U</text>
<text x="89.2" y="363.9" font-size="6.8" fill="#1a1a70" text-anchor="middle" font-weight="bold" stroke="#1a1a70" stroke-width="0.15">U</text><text x="306.3" y="253.2" font-size="12" fill="#fff" text-anchor="start" font-weight="bold">(d)</text>
<rect x="302.4" y="320.8" width="196.2" height="9" fill="none" stroke="#101030" stroke-width="0.8"/>
<text x="355.8" y="328.1" font-size="6.3" fill="#fff" text-anchor="middle" font-weight="bold">Nanopillars</text>
<rect x="505.7" y="232" width="3.4" height="186" fill="url(#dbar)"/>
<defs><linearGradient id="dbar" x1="0" x2="0" y1="0" y2="1"><stop offset="0" stop-color="#f00010"/><stop offset="0.5" stop-color="#800080"/><stop offset="1" stop-color="#1010f0"/></linearGradient></defs>
<text x="515" y="234.5" font-size="6" fill="#333" text-anchor="start" stroke="#333" stroke-width="0.15">π</text>
<text x="514.7" y="327.5" font-size="6" fill="#333" text-anchor="start" stroke="#333" stroke-width="0.15">0</text>
<text x="513.5" y="420.8" font-size="6" fill="#333" text-anchor="start" stroke="#333" stroke-width="0.15">-π</text>
<path d="M296 423.1V391" stroke="#3a3a3a" stroke-width="1.3"/><path d="M296 387.8L294 392.2H298Z" fill="#111"/>
<text x="289.1" y="421.5" font-size="6" fill="#222" text-anchor="start" font-weight="bold" stroke="#222" stroke-width="0.15">k</text>
<defs><linearGradient id="pil" x1="0" x2="1" y1="0" y2="0"><stop offset="0" stop-color="#6a0810"/><stop offset="0.3" stop-color="#b01020"/><stop offset="0.55" stop-color="#c01828"/><stop offset="1" stop-color="#700810"/></linearGradient></defs>
<g fill="url(#pil)"><path d="M306.9 428.9V436.8A1.65 0.66 0 0 0 310.2 436.8V428.9Z"/><path d="M318.1 429.2V436.8A2.60 1.04 0 0 0 323.3 436.8V429.2Z"/><path d="M330.0 429.4V436.8A2.90 1.16 0 0 0 335.8 436.8V429.4Z"/><path d="M341.9 429.5V436.8A3.25 1.30 0 0 0 348.4 436.8V429.5Z"/><path d="M354.0 429.5V436.8A3.35 1.34 0 0 0 360.7 436.8V429.5Z"/><path d="M366.2 429.6V436.8A3.40 1.36 0 0 0 373.0 436.8V429.6Z"/><path d="M378.3 429.6V436.8A3.50 1.40 0 0 0 385.3 436.8V429.6Z"/><path d="M390.4 429.6V436.8A3.60 1.44 0 0 0 397.6 436.8V429.6Z"/><path d="M402.6 429.7V436.8A3.70 1.48 0 0 0 410.0 436.8V429.7Z"/><path d="M414.7 429.7V436.8A3.75 1.50 0 0 0 422.2 436.8V429.7Z"/><path d="M426.9 429.7V436.8A3.75 1.50 0 0 0 434.4 436.8V429.7Z"/><path d="M439.1 429.7V436.8A3.80 1.52 0 0 0 446.7 436.8V429.7Z"/><path d="M451.1 429.8V436.8A4.00 1.60 0 0 0 459.1 436.8V429.8Z"/><path d="M462.9 430.0V436.8A4.45 1.78 0 0 0 471.8 436.8V430.0Z"/><path d="M475.1 430.0V436.8A4.50 1.80 0 0 0 484.1 436.8V430.0Z"/><path d="M486.9 430.1V436.8A4.90 1.90 0 0 0 496.7 436.8V430.1Z"/></g>
<g fill="#d05a68"><ellipse cx="308.5" cy="428.9" rx="1.65" ry="0.66"/><ellipse cx="320.7" cy="429.2" rx="2.60" ry="1.04"/><ellipse cx="332.9" cy="429.4" rx="2.90" ry="1.16"/><ellipse cx="345.2" cy="429.5" rx="3.25" ry="1.30"/><ellipse cx="357.4" cy="429.5" rx="3.35" ry="1.34"/><ellipse cx="369.6" cy="429.6" rx="3.40" ry="1.36"/><ellipse cx="381.8" cy="429.6" rx="3.50" ry="1.40"/><ellipse cx="394.0" cy="429.6" rx="3.60" ry="1.44"/><ellipse cx="406.3" cy="429.7" rx="3.70" ry="1.48"/><ellipse cx="418.5" cy="429.7" rx="3.75" ry="1.50"/><ellipse cx="430.7" cy="429.7" rx="3.75" ry="1.50"/><ellipse cx="442.9" cy="429.7" rx="3.80" ry="1.52"/><ellipse cx="455.1" cy="429.8" rx="4.00" ry="1.60"/><ellipse cx="467.4" cy="430.0" rx="4.45" ry="1.78"/><ellipse cx="479.6" cy="430.0" rx="4.50" ry="1.80"/><ellipse cx="491.8" cy="430.1" rx="4.90" ry="1.90"/></g>
<rect x="304.3" y="444.3" width="196" height="1.4" fill="#8c8c8c"/>
<text x="308.4" y="457.6" font-size="7.4" fill="#111" text-anchor="middle" font-family="Liberation Serif, serif" stroke="#111" stroke-width="0.15">0</text>
<g font-family="Liberation Serif, serif" stroke="#111" stroke-width="0.22"><text x="320.7" y="452.4" font-size="6.2" fill="#111" text-anchor="middle" stroke="#111" stroke-width="0.15">π</text><text x="320.7" y="461.0" font-size="6.2" fill="#111" text-anchor="middle" stroke="#111" stroke-width="0.15">16</text><rect x="317.8" y="454.4" width="5.8" height="0.7" fill="#333"/><text x="332.9" y="452.4" font-size="6.2" fill="#111" text-anchor="middle" stroke="#111" stroke-width="0.15">2π</text><text x="332.9" y="461.0" font-size="6.2" fill="#111" text-anchor="middle" stroke="#111" stroke-width="0.15">16</text><rect x="330.0" y="454.4" width="5.8" height="0.7" fill="#333"/><text x="345.2" y="452.4" font-size="6.2" fill="#111" text-anchor="middle" stroke="#111" stroke-width="0.15">3π</text><text x="345.2" y="461.0" font-size="6.2" fill="#111" text-anchor="middle" stroke="#111" stroke-width="0.15">16</text><rect x="342.3" y="454.4" width="5.8" height="0.7" fill="#333"/><text x="357.4" y="452.4" font-size="6.2" fill="#111" text-anchor="middle" stroke="#111" stroke-width="0.15">4π</text><text x="357.4" y="461.0" font-size="6.2" fill="#111" text-anchor="middle" stroke="#111" stroke-width="0.15">16</text><rect x="354.5" y="454.4" width="5.8" height="0.7" fill="#333"/><text x="369.6" y="452.4" font-size="6.2" fill="#111" text-anchor="middle" stroke="#111" stroke-width="0.15">5π</text><text x="369.6" y="461.0" font-size="6.2" fill="#111" text-anchor="middle" stroke="#111" stroke-width="0.15">16</text><rect x="366.7" y="454.4" width="5.8" height="0.7" fill="#333"/><text x="381.8" y="452.4" font-size="6.2" fill="#111" text-anchor="middle" stroke="#111" stroke-width="0.15">6π</text><text x="381.8" y="461.0" font-size="6.2" fill="#111" text-anchor="middle" stroke="#111" stroke-width="0.15">16</text><rect x="378.9" y="454.4" width="5.8" height="0.7" fill="#333"/><text x="394.0" y="452.4" font-size="6.2" fill="#111" text-anchor="middle" stroke="#111" stroke-width="0.15">7π</text><text x="394.0" y="461.0" font-size="6.2" fill="#111" text-anchor="middle" stroke="#111" stroke-width="0.15">16</text><rect x="391.1" y="454.4" width="5.8" height="0.7" fill="#333"/><text x="406.3" y="452.4" font-size="6.2" fill="#111" text-anchor="middle" stroke="#111" stroke-width="0.15">8π</text><text x="406.3" y="461.0" font-size="6.2" fill="#111" text-anchor="middle" stroke="#111" stroke-width="0.15">16</text><rect x="403.4" y="454.4" width="5.8" height="0.7" fill="#333"/><text x="418.5" y="452.4" font-size="6.2" fill="#111" text-anchor="middle" stroke="#111" stroke-width="0.15">9π</text><text x="418.5" y="461.0" font-size="6.2" fill="#111" text-anchor="middle" stroke="#111" stroke-width="0.15">16</text><rect x="415.6" y="454.4" width="5.8" height="0.7" fill="#333"/><text x="430.7" y="452.4" font-size="6.2" fill="#111" text-anchor="middle" stroke="#111" stroke-width="0.15">10π</text><text x="430.7" y="461.0" font-size="6.2" fill="#111" text-anchor="middle" stroke="#111" stroke-width="0.15">16</text><rect x="427.0" y="454.4" width="7.4" height="0.7" fill="#333"/><text x="442.9" y="452.4" font-size="6.2" fill="#111" text-anchor="middle" stroke="#111" stroke-width="0.15">11π</text><text x="442.9" y="461.0" font-size="6.2" fill="#111" text-anchor="middle" stroke="#111" stroke-width="0.15">16</text><rect x="439.2" y="454.4" width="7.4" height="0.7" fill="#333"/><text x="455.1" y="452.4" font-size="6.2" fill="#111" text-anchor="middle" stroke="#111" stroke-width="0.15">12π</text><text x="455.1" y="461.0" font-size="6.2" fill="#111" text-anchor="middle" stroke="#111" stroke-width="0.15">16</text><rect x="451.4" y="454.4" width="7.4" height="0.7" fill="#333"/><text x="467.4" y="452.4" font-size="6.2" fill="#111" text-anchor="middle" stroke="#111" stroke-width="0.15">13π</text><text x="467.4" y="461.0" font-size="6.2" fill="#111" text-anchor="middle" stroke="#111" stroke-width="0.15">16</text><rect x="463.7" y="454.4" width="7.4" height="0.7" fill="#333"/><text x="479.6" y="452.4" font-size="6.2" fill="#111" text-anchor="middle" stroke="#111" stroke-width="0.15">14π</text><text x="479.6" y="461.0" font-size="6.2" fill="#111" text-anchor="middle" stroke="#111" stroke-width="0.15">16</text><rect x="475.9" y="454.4" width="7.4" height="0.7" fill="#333"/><text x="491.8" y="452.4" font-size="6.2" fill="#111" text-anchor="middle" stroke="#111" stroke-width="0.15">15π</text><text x="491.8" y="461.0" font-size="6.2" fill="#111" text-anchor="middle" stroke="#111" stroke-width="0.15">16</text><rect x="488.1" y="454.4" width="7.4" height="0.7" fill="#333"/></g></svg>
</body></html>
